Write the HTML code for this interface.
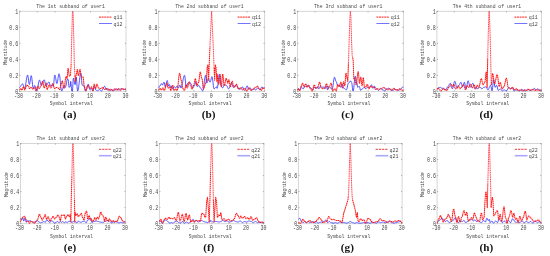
<!DOCTYPE html>
<html><head><meta charset="utf-8"><title>Subband figure</title>
<style>
html,body{margin:0;padding:0;background:#fff;}
svg{display:block;}
svg text{font-family:'Liberation Mono', 'Noto Sans CJK SC', monospace;font-size:6.0px;fill:#474747;}
svg text.tk{font-size:7.0px;}
svg text.lt{font-family:'Liberation Serif', 'Noto Serif CJK SC', serif;font-size:11.2px;font-weight:bold;fill:#151515;}
</style></head>
<body>
<svg width="550" height="256" viewBox="0 0 550 256">
<rect width="550" height="256" fill="#fff"/>
<rect x="19.5" y="11.3" width="106.5" height="80.1" fill="none" stroke="#d2d2d2" stroke-width="0.9"/>
<path d="M19.5 91.4v-1.1M19.5 11.3v1.1M37.25 91.4v-1.1M37.25 11.3v1.1M55 91.4v-1.1M55 11.3v1.1M72.75 91.4v-1.1M72.75 11.3v1.1M90.5 91.4v-1.1M90.5 11.3v1.1M108.25 91.4v-1.1M108.25 11.3v1.1M126 91.4v-1.1M126 11.3v1.1M19.5 91.4h1.1M126 91.4h-1.1M19.5 75.38h1.1M126 75.38h-1.1M19.5 59.36h1.1M126 59.36h-1.1M19.5 43.34h1.1M126 43.34h-1.1M19.5 27.32h1.1M126 27.32h-1.1M19.5 11.3h1.1M126 11.3h-1.1" stroke="#808080" stroke-width="0.6" fill="none"/>
<polyline points="19.5,87.42 19.51,87.42 19.53,87.42 19.71,87.4 19.89,87.3 20.07,87.15 20.25,86.95 20.43,86.71 20.61,86.42 20.79,86.11 20.97,85.78 21.15,85.45 21.33,85.12 21.51,84.82 21.69,84.53 21.87,84.29 22.05,84.08 22.23,83.93 22.41,83.85 22.59,83.81 22.77,83.91 22.95,84.18 23.13,84.62 23.31,85.18 23.48,85.83 23.66,86.5 23.84,87.14 24.02,87.71 24.2,88.14 24.38,88.42 24.56,88.52 24.74,88.4 24.92,88.06 25.1,87.51 25.28,86.76 25.46,85.84 25.64,84.78 25.82,83.63 26,82.41 26.18,81.17 26.36,79.95 26.54,78.79 26.72,77.73 26.9,76.82 27.08,76.07 27.26,75.52 27.44,75.18 27.62,75.06 27.81,75.35 28.01,76.16 28.2,77.41 28.39,78.95 28.59,80.58 28.78,82.12 28.98,83.37 29.17,84.18 29.37,84.47 29.55,84.26 29.74,83.62 29.92,82.65 30.11,81.41 30.3,80.04 30.48,78.67 30.67,77.44 30.85,76.45 31.04,75.83 31.22,75.61 31.41,75.87 31.6,76.64 31.79,77.84 31.98,79.39 32.17,81.15 32.36,82.98 32.55,84.74 32.73,86.29 32.92,87.49 33.11,88.25 33.3,88.52 33.48,88.4 33.66,88.08 33.83,87.6 34.01,87.04 34.19,86.47 34.37,85.99 34.54,85.67 34.72,85.56 34.91,85.67 35.1,85.99 35.29,86.51 35.48,87.16 35.66,87.91 35.85,88.68 36.04,89.43 36.23,90.09 36.42,90.6 36.61,90.92 36.8,91.03 36.98,90.91 37.16,90.56 37.34,89.99 37.53,89.22 37.71,88.3 37.89,87.25 38.07,86.14 38.25,84.99 38.44,83.87 38.62,82.83 38.8,81.9 38.98,81.14 39.17,80.57 39.35,80.21 39.53,80.09 39.72,80.25 39.92,80.7 40.11,81.38 40.31,82.22 40.5,83.11 40.7,83.95 40.89,84.63 41.08,85.08 41.28,85.23 41.46,85.18 41.65,85.02 41.83,84.78 42.02,84.43 42.2,84.02 42.39,83.55 42.57,83.03 42.75,82.5 42.94,81.96 43.12,81.45 43.31,80.98 43.49,80.57 43.68,80.23 43.86,79.98 44.04,79.82 44.23,79.77 44.42,79.95 44.62,80.5 44.81,81.32 45.01,82.34 45.2,83.42 45.4,84.44 45.59,85.27 45.78,85.81 45.98,86 46.16,85.96 46.35,85.85 46.53,85.66 46.72,85.41 46.9,85.1 47.09,84.75 47.27,84.38 47.45,83.97 47.64,83.58 47.82,83.21 48.01,82.85 48.19,82.55 48.38,82.29 48.56,82.11 48.74,81.99 48.93,81.96 49.11,82.08 49.29,82.44 49.48,82.99 49.66,83.67 49.84,84.39 50.02,85.07 50.2,85.62 50.39,85.99 50.57,86.11 50.75,86.07 50.93,85.95 51.11,85.75 51.3,85.52 51.48,85.27 51.66,85.04 51.84,84.86 52.03,84.73 52.21,84.69 52.4,84.85 52.6,85.26 52.8,85.76 52.99,86.17 53.19,86.33 53.37,85.99 53.56,85.01 53.74,83.51 53.92,81.68 54.1,79.71 54.28,77.88 54.47,76.38 54.65,75.4 54.83,75.06 55.02,75.24 55.21,75.74 55.4,76.53 55.59,77.56 55.77,78.72 55.96,79.94 56.15,81.1 56.34,82.12 56.53,82.92 56.72,83.42 56.91,83.59 57.09,83.42 57.27,82.93 57.45,82.15 57.64,81.13 57.82,79.95 58,78.67 58.18,77.4 58.36,76.21 58.55,75.19 58.73,74.41 58.91,73.91 59.09,73.75 59.28,73.97 59.47,74.61 59.66,75.64 59.84,77.01 60.03,78.66 60.22,80.49 60.4,82.41 60.59,84.34 60.78,86.18 60.97,87.82 61.15,89.19 61.34,90.22 61.53,90.86 61.72,91.08 61.9,90.99 62.08,90.73 62.26,90.3 62.44,89.76 62.63,89.12 62.81,88.43 62.99,87.75 63.17,87.11 63.35,86.55 63.54,86.14 63.72,85.87 63.9,85.78 64.08,85.84 64.26,86.03 64.43,86.29 64.61,86.6 64.79,86.91 64.97,87.18 65.14,87.36 65.32,87.42 65.51,87.26 65.7,86.77 65.89,86.01 66.08,85.02 66.27,83.9 66.46,82.73 66.64,81.62 66.83,80.63 67.02,79.87 67.21,79.39 67.4,79.22 67.6,79.22 67.8,79.22 68,79.22 68.19,79.77 68.38,81.27 68.57,83.32 68.77,85.37 68.96,86.87 69.15,87.42 69.35,87.31 69.56,87.04 69.77,86.71 69.98,86.43 70.19,86.33 70.43,83.87 70.68,81.4 70.87,82.05 71.06,83.82 71.25,86.24 71.44,88.66 71.63,90.43 71.83,91.08 72.07,91.08 72.32,91.08 72.51,90.21 72.7,87.84 72.89,84.6 73.08,81.36 73.27,78.99 73.47,78.13 73.65,78.32 73.83,78.9 74.01,79.77 74.19,80.83 74.38,81.97 74.56,83.05 74.74,83.92 74.92,84.49 75.1,84.69 75.29,84.17 75.47,82.77 75.65,80.86 75.83,78.94 76.01,77.54 76.2,77.03 76.37,77.57 76.55,79.09 76.73,81.36 76.91,84.05 77.08,86.75 77.26,89.02 77.44,90.54 77.62,91.08 77.8,90.94 77.98,90.54 78.16,89.88 78.35,88.99 78.53,87.88 78.71,86.61 78.89,85.2 79.07,83.69 79.26,82.14 79.44,80.59 79.62,79.08 79.8,77.67 79.98,76.4 80.17,75.29 80.35,74.4 80.53,73.75 80.71,73.34 80.9,73.2 81.08,73.8 81.27,75.47 81.46,77.88 81.65,80.55 81.83,82.97 82.02,84.64 82.21,85.23 82.39,85.25 82.57,85.3 82.75,85.37 82.94,85.46 83.12,85.55 83.3,85.64 83.48,85.72 83.66,85.76 83.85,85.78 84.03,85.94 84.21,86.4 84.39,87.11 84.58,87.97 84.76,88.89 84.94,89.76 85.12,90.46 85.3,90.92 85.49,91.08 85.67,91.01 85.85,90.78 86.03,90.41 86.22,89.93 86.4,89.34 86.58,88.68 86.76,87.97 86.94,87.25 87.13,86.54 87.31,85.87 87.49,85.29 87.67,84.8 87.85,84.44 88.04,84.22 88.22,84.14 88.4,84.3 88.58,84.78 88.77,85.5 88.95,86.4 89.13,87.35 89.31,88.24 89.49,88.97 89.68,89.45 89.86,89.61 90.04,89.57 90.22,89.48 90.4,89.33 90.59,89.16 90.77,88.96 90.95,88.79 91.13,88.64 91.31,88.55 91.5,88.52 91.68,88.61 91.85,88.89 92.03,89.31 92.21,89.8 92.39,90.29 92.56,90.7 92.74,90.98 92.92,91.08 93.11,90.85 93.29,90.18 93.48,89.23 93.67,88.17 93.85,87.22 94.04,86.56 94.23,86.33 94.41,86.44 94.59,86.78 94.78,87.28 94.96,87.91 95.14,88.57 95.32,89.2 95.5,89.71 95.69,90.04 95.87,90.16 96.05,90.17 96.23,90.22 96.42,90.29 96.6,90.38 96.78,90.48 96.96,90.57 97.14,90.64 97.33,90.69 97.51,90.7 97.69,90.69 97.87,90.63 98.05,90.54 98.24,90.43 98.42,90.29 98.6,90.16 98.78,90.01 98.96,89.89 99.15,89.77 99.33,89.69 99.51,89.63 99.69,89.61 99.88,89.65 100.06,89.78 100.24,89.97 100.42,90.21 100.61,90.47 100.79,90.71 100.97,90.91 101.15,91.03 101.33,91.08 101.52,91.04 101.7,90.94 101.88,90.76 102.06,90.53 102.24,90.23 102.43,89.89 102.61,89.52 102.79,89.12 102.97,88.7 103.15,88.29 103.34,87.89 103.52,87.52 103.7,87.18 103.88,86.88 104.07,86.65 104.25,86.47 104.43,86.36 104.61,86.33 104.79,86.43 104.98,86.71 105.16,87.15 105.34,87.68 105.52,88.25 105.7,88.79 105.89,89.23 106.07,89.51 106.25,89.61 106.43,89.57 106.62,89.48 106.8,89.33 106.98,89.16 107.16,88.96 107.34,88.79 107.53,88.64 107.71,88.55 107.89,88.52 108.07,88.56 108.26,88.66 108.44,88.84 108.62,89.06 108.8,89.33 108.98,89.61 109.17,89.89 109.35,90.16 109.53,90.38 109.71,90.56 109.89,90.66 110.08,90.7 110.26,90.67 110.44,90.57 110.62,90.43 110.8,90.25 110.99,90.06 111.17,89.89 111.35,89.73 111.53,89.65 111.72,89.61 111.9,89.63 112.08,89.69 112.26,89.77 112.44,89.89 112.63,90.01 112.81,90.16 112.99,90.29 113.17,90.43 113.35,90.54 113.54,90.63 113.72,90.69 113.9,90.7 114.08,90.66 114.27,90.56 114.45,90.38 114.63,90.16 114.81,89.89 114.99,89.61 115.18,89.33 115.36,89.06 115.54,88.84 115.72,88.66 115.91,88.56 116.09,88.52 116.27,88.56 116.45,88.71 116.63,88.92 116.82,89.2 117,89.48 117.18,89.75 117.36,89.97 117.54,90.11 117.73,90.16 117.91,90.14 118.09,90.09 118.27,90.02 118.46,89.93 118.64,89.84 118.82,89.75 119,89.67 119.18,89.63 119.37,89.61 119.55,89.59 119.73,89.53 119.91,89.45 120.09,89.33 120.28,89.21 120.46,89.06 120.64,88.92 120.82,88.79 121.01,88.68 121.19,88.59 121.37,88.53 121.55,88.52 121.73,88.55 121.92,88.64 122.1,88.79 122.28,88.96 122.46,89.16 122.65,89.33 122.83,89.48 123.01,89.57 123.19,89.61 123.37,89.61 123.56,89.59 123.74,89.56 123.92,89.52 124.1,89.47 124.28,89.42 124.47,89.37 124.65,89.31 124.83,89.25 125.01,89.2 125.19,89.15 125.38,89.12 125.56,89.09 125.74,89.07 125.92,89.06 125.96,89.06 126,89.06" fill="none" stroke="#2424ff" stroke-width="0.8" stroke-linejoin="round"/>
<polyline points="19.5,89.61 19.51,89.61 19.53,89.61 19.73,89.53 19.93,89.33 20.13,89.06 20.33,88.79 20.53,88.59 20.73,88.52 20.91,88.63 21.1,88.92 21.28,89.33 21.46,89.75 21.64,90.05 21.83,90.16 22.01,90.05 22.19,89.77 22.37,89.33 22.55,88.8 22.74,88.23 22.92,87.69 23.1,87.26 23.28,86.97 23.47,86.87 23.65,87.03 23.84,87.45 24.03,88.07 24.21,88.75 24.4,89.36 24.59,89.78 24.78,89.93 24.95,89.85 25.13,89.57 25.31,89.13 25.49,88.56 25.67,87.92 25.85,87.25 26.03,86.61 26.21,86.05 26.39,85.61 26.56,85.33 26.74,85.23 26.92,85.25 27.11,85.3 27.29,85.37 27.47,85.46 27.65,85.55 27.84,85.64 28.02,85.72 28.2,85.76 28.38,85.78 28.56,85.96 28.75,86.47 28.93,87.15 29.11,87.84 29.29,88.33 29.48,88.52 29.66,88.48 29.84,88.39 30.02,88.24 30.2,88.06 30.39,87.88 30.57,87.69 30.75,87.55 30.93,87.45 31.12,87.42 31.3,87.48 31.48,87.61 31.66,87.84 31.84,88.1 32.03,88.39 32.21,88.65 32.39,88.87 32.57,89.01 32.75,89.06 32.94,89.01 33.12,88.87 33.3,88.65 33.48,88.39 33.66,88.1 33.85,87.84 34.03,87.61 34.21,87.48 34.39,87.42 34.58,87.52 34.76,87.8 34.94,88.24 35.12,88.78 35.3,89.35 35.49,89.89 35.67,90.32 35.85,90.61 36.03,90.7 36.22,90.57 36.4,90.19 36.58,89.61 36.76,88.89 36.94,88.13 37.13,87.42 37.31,86.84 37.49,86.46 37.67,86.33 37.85,86.39 38.04,86.59 38.22,86.87 38.4,87.23 38.58,87.61 38.77,87.97 38.95,88.26 39.13,88.45 39.31,88.52 39.49,88.44 39.68,88.2 39.86,87.84 40.04,87.39 40.22,86.91 40.4,86.47 40.59,86.1 40.77,85.87 40.95,85.78 41.13,85.65 41.31,85.27 41.5,84.69 41.68,83.97 41.86,83.21 42.04,82.5 42.23,81.92 42.41,81.54 42.59,81.4 42.77,81.6 42.95,82.17 43.14,83.05 43.32,84.12 43.5,85.26 43.68,86.33 43.87,87.2 44.05,87.77 44.23,87.97 44.41,87.87 44.59,87.58 44.77,87.12 44.94,86.53 45.12,85.86 45.3,85.16 45.48,84.49 45.66,83.89 45.84,83.44 46.02,83.15 46.2,83.05 46.39,84.01 46.58,86.33 46.77,88.64 46.96,89.61 47.14,89.53 47.33,89.32 47.51,88.96 47.69,88.52 47.87,87.99 48.05,87.42 48.24,86.86 48.42,86.33 48.6,85.87 48.78,85.53 48.97,85.31 49.15,85.23 49.33,85.32 49.51,85.55 49.69,85.92 49.88,86.36 50.06,86.84 50.24,87.28 50.42,87.65 50.61,87.88 50.79,87.97 50.97,87.88 51.14,87.62 51.32,87.21 51.5,86.69 51.68,86.09 51.86,85.47 52.04,84.87 52.22,84.35 52.4,83.94 52.58,83.68 52.75,83.59 52.94,83.71 53.13,84.06 53.31,84.61 53.5,85.3 53.68,86.06 53.87,86.82 54.05,87.5 54.24,88.04 54.43,88.4 54.61,88.52 54.79,88.48 54.98,88.39 55.16,88.24 55.34,88.06 55.52,87.88 55.7,87.69 55.89,87.55 56.07,87.45 56.25,87.42 56.43,87.44 56.62,87.48 56.8,87.56 56.98,87.65 57.16,87.74 57.34,87.84 57.53,87.91 57.71,87.96 57.89,87.97 58.07,88.02 58.26,88.16 58.44,88.38 58.62,88.64 58.8,88.93 58.98,89.2 59.17,89.41 59.35,89.56 59.53,89.61 59.71,89.45 59.89,88.97 60.08,88.24 60.26,87.35 60.44,86.4 60.62,85.5 60.8,84.78 60.99,84.3 61.17,84.14 61.35,83.92 61.53,83.32 61.72,82.5 61.9,81.68 62.08,81.08 62.26,80.86 62.44,81.09 62.63,81.76 62.81,82.77 62.99,84.02 63.17,85.35 63.35,86.6 63.54,87.62 63.72,88.28 63.9,88.52 64.08,88.31 64.27,87.71 64.45,86.75 64.63,85.5 64.81,84.05 65,82.5 65.18,80.95 65.36,79.49 65.54,78.25 65.72,77.29 65.91,76.69 66.09,76.49 66.31,76.81 66.53,77.57 66.74,78.35 66.96,78.67 67.14,77.98 67.33,76.08 67.51,73.47 67.69,70.88 67.87,68.98 68.06,68.28 68.24,68.66 68.43,69.72 68.62,71.25 68.8,72.96 68.99,74.5 69.18,75.56 69.37,75.94 69.55,75.9 69.73,75.8 69.9,75.66 70.08,75.52 70.26,75.42 70.44,75.38 71.19,63.37" fill="none" stroke="#ff1a1a" stroke-width="1.05" stroke-dasharray="1.6 0.4" stroke-linejoin="round"/>
<polyline points="71.19,63.37 71.65,40.14 72.4,13.7 72.75,11.3 73.1,13.7 73.85,40.14 74.31,63.37 74.88,75.38" fill="none" stroke="#ff4552" stroke-width="1.0" stroke-dasharray="1.3 0.5" stroke-linejoin="round"/>
<polyline points="74.88,75.38 75.41,81.79 75.61,80.77 75.8,78.32 76,75.86 76.2,74.84 76.38,74.47 76.56,73.47 76.74,72.11 76.92,70.74 77.11,69.74 77.29,69.37 77.47,69.81 77.65,71.01 77.84,72.66 78.02,74.3 78.2,75.5 78.38,75.94 78.56,75.74 78.75,75.17 78.93,74.3 79.11,73.23 79.29,72.09 79.48,71.01 79.66,70.14 79.84,69.57 80.02,69.37 80.21,69.76 80.4,70.81 80.58,72.35 80.77,74.06 80.96,75.59 81.15,76.65 81.33,77.03 81.53,77.03 81.72,77.03 81.92,77.03 82.11,77.03 82.3,77.03 82.5,77.03 82.69,77.03 82.89,77.03 83.08,77.03 83.27,77.52 83.46,78.89 83.64,80.86 83.83,83.05 84.02,85.02 84.21,86.39 84.39,86.87 84.57,87.02 84.75,87.44 84.93,88.06 85.1,88.79 85.28,89.52 85.46,90.14 85.64,90.56 85.81,90.7 86,90.62 86.18,90.39 86.37,90.01 86.55,89.53 86.74,88.94 86.92,88.3 87.11,87.64 87.29,87 87.48,86.42 87.66,85.92 87.85,85.54 88.03,85.31 88.22,85.23 88.4,85.34 88.58,85.62 88.77,86.06 88.95,86.59 89.13,87.16 89.31,87.69 89.49,88.13 89.68,88.42 89.86,88.52 90.04,88.47 90.22,88.32 90.4,88.11 90.59,87.84 90.77,87.56 90.95,87.28 91.13,87.07 91.31,86.92 91.5,86.87 91.68,87.02 91.85,87.44 92.03,88.06 92.21,88.79 92.39,89.52 92.56,90.14 92.74,90.56 92.92,90.7 93.11,90.37 93.29,89.47 93.48,88.16 93.67,86.69 93.85,85.38 94.04,84.46 94.23,84.14 94.42,84.36 94.6,84.97 94.79,85.84 94.98,86.82 95.17,87.69 95.35,88.3 95.54,88.52 95.72,88.35 95.9,87.88 96.07,87.16 96.25,86.33 96.43,85.49 96.61,84.78 96.78,84.3 96.96,84.14 97.14,84.26 97.33,84.59 97.51,85.1 97.69,85.72 97.87,86.39 98.05,87.01 98.24,87.52 98.42,87.85 98.6,87.97 98.78,87.98 98.96,88 99.15,88.05 99.33,88.11 99.51,88.17 99.69,88.24 99.88,88.32 100.06,88.38 100.24,88.44 100.42,88.48 100.61,88.51 100.79,88.52 100.97,88.5 101.15,88.44 101.33,88.36 101.52,88.24 101.7,88.11 101.88,87.97 102.06,87.83 102.24,87.69 102.43,87.58 102.61,87.5 102.79,87.44 102.97,87.42 103.15,87.49 103.34,87.68 103.52,87.97 103.7,88.32 103.88,88.71 104.07,89.06 104.25,89.36 104.43,89.54 104.61,89.61 104.79,89.57 104.98,89.48 105.16,89.33 105.34,89.16 105.52,88.96 105.7,88.79 105.89,88.64 106.07,88.55 106.25,88.52 106.43,88.54 106.62,88.63 106.8,88.76 106.98,88.92 107.16,89.13 107.34,89.33 107.53,89.55 107.71,89.75 107.89,89.92 108.07,90.05 108.26,90.13 108.44,90.16 108.62,90.13 108.8,90.09 108.98,90 109.17,89.89 109.35,89.75 109.53,89.61 109.71,89.47 109.89,89.33 110.08,89.22 110.26,89.13 110.44,89.09 110.62,89.06 110.8,89.11 110.99,89.25 111.17,89.47 111.35,89.74 111.53,90.02 111.72,90.29 111.9,90.51 112.08,90.66 112.26,90.7 112.44,90.68 112.63,90.59 112.81,90.46 112.99,90.29 113.17,90.09 113.35,89.89 113.54,89.67 113.72,89.47 113.9,89.3 114.08,89.17 114.27,89.09 114.45,89.06 114.63,89.09 114.81,89.13 114.99,89.22 115.18,89.33 115.36,89.47 115.54,89.61 115.72,89.75 115.91,89.89 116.09,90 116.27,90.09 116.45,90.13 116.63,90.16 116.82,90.11 117,89.97 117.18,89.75 117.36,89.48 117.54,89.2 117.73,88.92 117.91,88.71 118.09,88.56 118.27,88.52 118.46,88.54 118.64,88.63 118.82,88.76 119,88.92 119.18,89.13 119.37,89.33 119.55,89.55 119.73,89.75 119.91,89.92 120.09,90.05 120.28,90.13 120.46,90.16 120.64,90.13 120.82,90.05 121.01,89.92 121.19,89.75 121.37,89.55 121.55,89.33 121.73,89.13 121.92,88.92 122.1,88.76 122.28,88.63 122.46,88.54 122.65,88.52 122.83,88.55 123.01,88.64 123.19,88.79 123.37,88.96 123.56,89.16 123.74,89.33 123.92,89.48 124.1,89.57 124.28,89.61 124.47,89.59 124.65,89.54 124.83,89.47 125.01,89.38 125.19,89.29 125.38,89.2 125.56,89.13 125.74,89.08 125.92,89.06 125.96,89.06 126,89.06" fill="none" stroke="#ff1a1a" stroke-width="1.05" stroke-dasharray="1.6 0.4" stroke-linejoin="round"/>
<text class="tk" x="18.5" y="97.8" text-anchor="middle" textLength="9" lengthAdjust="spacingAndGlyphs">-30</text>
<text class="tk" x="36.25" y="97.8" text-anchor="middle" textLength="9" lengthAdjust="spacingAndGlyphs">-20</text>
<text class="tk" x="54" y="97.8" text-anchor="middle" textLength="9" lengthAdjust="spacingAndGlyphs">-10</text>
<text class="tk" x="72.35" y="97.8" text-anchor="middle" textLength="3" lengthAdjust="spacingAndGlyphs">0</text>
<text class="tk" x="90.1" y="97.8" text-anchor="middle" textLength="6" lengthAdjust="spacingAndGlyphs">10</text>
<text class="tk" x="107.85" y="97.8" text-anchor="middle" textLength="6" lengthAdjust="spacingAndGlyphs">20</text>
<text class="tk" x="125.6" y="97.8" text-anchor="middle" textLength="6" lengthAdjust="spacingAndGlyphs">30</text>
<text class="tk" x="18.3" y="93.9" text-anchor="end" textLength="3" lengthAdjust="spacingAndGlyphs">0</text>
<text class="tk" x="18.3" y="77.88" text-anchor="end" textLength="9" lengthAdjust="spacingAndGlyphs">0.2</text>
<text class="tk" x="18.3" y="61.86" text-anchor="end" textLength="9" lengthAdjust="spacingAndGlyphs">0.4</text>
<text class="tk" x="18.3" y="45.84" text-anchor="end" textLength="9" lengthAdjust="spacingAndGlyphs">0.6</text>
<text class="tk" x="18.3" y="29.82" text-anchor="end" textLength="9" lengthAdjust="spacingAndGlyphs">0.8</text>
<text class="tk" x="18.3" y="13.8" text-anchor="end" textLength="3" lengthAdjust="spacingAndGlyphs">1</text>
<text x="71.25" y="105.4" text-anchor="middle" textLength="43.05" lengthAdjust="spacingAndGlyphs">Symbol interval</text>
<text transform="translate(6.8 52.35) rotate(-90)" fill="#505050" text-anchor="middle" textLength="24.57" lengthAdjust="spacingAndGlyphs">Magnitude</text>
<text x="70.55" y="7.6" text-anchor="middle" textLength="68.4" lengthAdjust="spacingAndGlyphs">The 1st subband of user1</text>
<line x1="99" y1="17.1" x2="112" y2="17.1" stroke="#ff4a4a" stroke-width="1.2" stroke-dasharray="2 0.6"/>
<line x1="99" y1="23.5" x2="112" y2="23.5" stroke="#5050ff" stroke-width="0.8"/>
<text x="113.4" y="19.3" textLength="9" lengthAdjust="spacingAndGlyphs">q11</text>
<text x="113.4" y="25.7" textLength="9" lengthAdjust="spacingAndGlyphs">q12</text>
<text class="lt" x="69.85" y="118.2" text-anchor="middle">(a)</text>
<rect x="158.6" y="11.3" width="106" height="80.1" fill="none" stroke="#d2d2d2" stroke-width="0.9"/>
<path d="M158.6 91.4v-1.1M158.6 11.3v1.1M176.27 91.4v-1.1M176.27 11.3v1.1M193.93 91.4v-1.1M193.93 11.3v1.1M211.6 91.4v-1.1M211.6 11.3v1.1M229.27 91.4v-1.1M229.27 11.3v1.1M246.93 91.4v-1.1M246.93 11.3v1.1M264.6 91.4v-1.1M264.6 11.3v1.1M158.6 91.4h1.1M264.6 91.4h-1.1M158.6 75.38h1.1M264.6 75.38h-1.1M158.6 59.36h1.1M264.6 59.36h-1.1M158.6 43.34h1.1M264.6 43.34h-1.1M158.6 27.32h1.1M264.6 27.32h-1.1M158.6 11.3h1.1M264.6 11.3h-1.1" stroke="#808080" stroke-width="0.6" fill="none"/>
<polyline points="158.6,88 158.79,87.87 158.98,87.51 159.17,87.02 159.36,86.53 159.54,86.18 159.73,86.04 159.92,85.97 160.1,85.76 160.29,85.43 160.47,85.03 160.65,84.61 160.84,84.22 161.02,83.89 161.21,83.68 161.39,83.6 161.59,83.74 161.78,84.11 161.98,84.56 162.17,84.93 162.37,85.06 162.55,84.98 162.74,84.73 162.92,84.34 163.1,83.85 163.29,83.35 163.47,82.87 163.66,82.48 163.84,82.23 164.03,82.14 164.21,82.38 164.39,83.05 164.57,84.04 164.75,85.12 164.93,86.1 165.12,86.78 165.3,87.02 165.47,86.89 165.65,86.5 165.83,85.89 166.01,85.1 166.18,84.22 166.36,83.29 166.54,82.39 166.72,81.6 166.89,81 167.07,80.61 167.25,80.47 167.43,80.75 167.61,81.52 167.79,82.64 167.97,83.88 168.15,84.99 168.34,85.77 168.52,86.04 168.71,85.91 168.91,85.54 169.1,85.09 169.3,84.72 169.49,84.58 169.69,84.81 169.88,85.43 170.08,86.29 170.27,87.14 170.47,87.76 170.66,88 170.86,87.81 171.06,87.32 171.25,86.71 171.45,86.23 171.64,86.04 171.84,86.24 172.03,86.78 172.23,87.51 172.42,88.24 172.62,88.77 172.81,88.97 172.99,88.85 173.18,88.52 173.36,88.02 173.54,87.48 173.72,86.99 173.9,86.65 174.08,86.53 174.26,86.59 174.45,86.75 174.63,86.99 174.81,87.27 175,87.55 175.18,87.78 175.36,87.94 175.55,88 175.73,87.92 175.91,87.71 176.09,87.4 176.28,87.02 176.46,86.64 176.64,86.33 176.83,86.11 177.01,86.04 177.19,86.14 177.37,86.41 177.55,86.8 177.73,87.23 177.91,87.63 178.1,87.9 178.28,88 178.46,87.91 178.65,87.65 178.83,87.27 179.02,86.79 179.2,86.27 179.38,85.8 179.57,85.41 179.75,85.15 179.94,85.06 180.13,85.34 180.33,86.08 180.52,86.99 180.72,87.72 180.91,88 181.09,87.92 181.28,87.68 181.46,87.31 181.64,86.79 181.82,86.14 182,85.38 182.18,84.53 182.36,83.61 182.54,82.65 182.72,81.65 182.9,80.66 183.08,79.69 183.26,78.77 183.44,77.92 183.62,77.16 183.8,76.51 183.98,75.99 184.16,75.61 184.34,75.38 184.52,75.3 184.72,75.65 184.91,76.67 185.11,78.23 185.3,80.15 185.5,82.18 185.7,84.09 185.89,85.65 186.09,86.67 186.28,87.02 186.46,86.93 186.64,86.67 186.81,86.26 186.99,85.74 187.17,85.14 187.35,84.51 187.52,83.91 187.7,83.38 187.88,82.97 188.06,82.72 188.23,82.62 188.42,82.61 188.6,82.56 188.78,82.48 188.97,82.38 189.15,82.28 189.33,82.2 189.51,82.16 189.7,82.14 189.88,82.21 190.06,82.42 190.25,82.74 190.43,83.11 190.61,83.49 190.8,83.81 190.98,84.01 191.16,84.09 191.35,84.24 191.53,84.66 191.71,85.3 191.89,86.04 192.08,86.79 192.26,87.43 192.44,87.84 192.63,88 192.8,87.95 192.98,87.8 193.16,87.57 193.34,87.28 193.51,86.95 193.69,86.6 193.87,86.27 194.05,85.98 194.22,85.74 194.4,85.6 194.58,85.55 194.76,85.36 194.94,84.82 195.12,84.04 195.3,83.17 195.48,82.38 195.67,81.84 195.85,81.65 196.04,81.89 196.24,82.56 196.43,83.55 196.63,84.63 196.82,85.61 197.02,86.29 197.21,86.53 197.41,86.5 197.6,86.42 197.8,86.29 197.99,86.13 198.19,85.96 198.39,85.8 198.58,85.67 198.78,85.58 198.97,85.55 199.15,85.65 199.34,85.91 199.52,86.31 199.7,86.78 199.89,87.24 200.07,87.64 200.25,87.9 200.43,88 200.62,88.04 200.81,88.2 201,88.43 201.18,88.72 201.37,89.09 201.56,89.46 201.74,89.84 201.93,90.19 202.12,90.49 202.31,90.73 202.49,90.88 202.68,90.93 202.86,90.78 203.05,90.33 203.23,89.61 203.41,88.64 203.6,87.45 203.78,86.11 203.96,84.64 204.14,83.11 204.33,81.59 204.51,80.12 204.69,78.78 204.88,77.59 205.06,76.61 205.24,75.89 205.43,75.45 205.61,75.3 205.8,75.82 206,77.25 206.19,79.21 206.39,81.16 206.58,82.59 206.78,83.11 206.96,82.93 207.14,82.4 207.33,81.6 207.51,80.67 207.69,79.74 207.88,78.94 208.06,78.42 208.24,78.23 208.44,78.35 208.63,78.7 208.83,79.23 209.02,79.89 209.22,80.59 209.41,81.24 209.61,81.77 209.81,82.12 210,82.24 210.18,82.13 210.37,81.8 210.56,81.28 210.74,80.61 210.93,79.85 211.11,79.05 211.3,78.29 211.48,77.62 211.67,77.09 211.85,76.77 212.04,76.65 212.22,76.9 212.41,77.62 212.59,78.76 212.78,80.22 212.96,81.88 213.15,83.62 213.33,85.29 213.52,86.75 213.7,87.88 213.89,88.6 214.07,88.85 214.26,88.82 214.44,88.75 214.62,88.63 214.8,88.47 214.98,88.28 215.16,88.06 215.35,87.84 215.53,87.6 215.71,87.4 215.89,87.2 216.07,87.04 216.26,86.91 216.44,86.84 216.62,86.82 216.87,87.58 217.13,88.34 217.31,88.1 217.5,87.39 217.69,86.26 217.87,84.78 218.06,83.07 218.25,81.23 218.43,79.39 218.62,77.67 218.81,76.2 218.99,75.07 219.18,74.35 219.37,74.11 219.55,74.41 219.73,75.28 219.92,76.63 220.1,78.33 220.28,80.21 220.47,82.09 220.65,83.8 220.83,85.14 221.02,86.01 221.2,86.31 221.39,86.37 221.58,86.53 221.77,86.78 221.96,87.07 222.15,87.36 222.34,87.61 222.54,87.77 222.73,87.84 222.92,87.72 223.11,87.39 223.3,86.89 223.49,86.31 223.68,85.73 223.87,85.23 224.06,84.9 224.25,84.78 224.44,84.79 224.63,84.82 224.81,84.87 224.99,84.94 225.18,85 225.37,85.07 225.55,85.14 225.74,85.21 225.92,85.26 226.11,85.28 226.29,85.3 226.47,85.34 226.65,85.5 226.83,85.74 227.01,86.06 227.19,86.44 227.37,86.86 227.55,87.28 227.73,87.7 227.91,88.08 228.09,88.4 228.27,88.64 228.45,88.8 228.63,88.85 228.82,88.79 229,88.62 229.19,88.33 229.37,87.96 229.55,87.49 229.74,86.97 229.92,86.39 230.11,85.8 230.29,85.21 230.48,84.63 230.66,84.11 230.85,83.65 231.03,83.26 231.22,82.98 231.4,82.81 231.59,82.75 231.77,82.89 231.95,83.29 232.13,83.89 232.31,84.64 232.49,85.43 232.67,86.19 232.85,86.79 233.03,87.19 233.22,87.32 233.42,87.26 233.62,87.07 233.82,86.82 234.03,86.56 234.23,86.38 234.44,86.31 234.62,86.3 234.81,86.27 235,86.23 235.18,86.19 235.37,86.12 235.56,86.06 235.74,85.99 235.93,85.93 236.12,85.87 236.3,85.83 236.49,85.81 236.68,85.8 236.86,85.85 237.04,86 237.22,86.25 237.4,86.57 237.58,86.95 237.76,87.36 237.94,87.8 238.12,88.21 238.3,88.59 238.48,88.91 238.66,89.16 238.84,89.31 239.02,89.36 239.21,89.34 239.4,89.29 239.59,89.2 239.78,89.1 239.97,89.01 240.16,88.92 240.35,88.87 240.55,88.85 240.73,88.8 240.92,88.68 241.1,88.5 241.29,88.25 241.47,87.98 241.66,87.69 241.84,87.41 242.03,87.17 242.21,86.98 242.4,86.86 242.58,86.82 242.77,86.95 242.96,87.34 243.15,87.92 243.35,88.6 243.54,89.28 243.73,89.85 243.92,90.24 244.11,90.37 244.31,90.33 244.52,90.2 244.72,90.04 244.92,89.92 245.13,89.86 245.31,89.78 245.5,89.54 245.68,89.17 245.87,88.68 246.05,88.12 246.24,87.55 246.42,86.99 246.61,86.51 246.79,86.12 246.98,85.88 247.16,85.8 247.35,85.94 247.54,86.32 247.74,86.9 247.93,87.58 248.12,88.26 248.31,88.84 248.5,89.22 248.69,89.36 248.88,89.3 249.07,89.13 249.26,88.88 249.45,88.6 249.65,88.3 249.84,88.06 250.03,87.89 250.22,87.84 250.41,87.93 250.6,88.2 250.79,88.62 250.98,89.1 251.17,89.59 251.36,90 251.55,90.28 251.75,90.37 251.93,90.34 252.11,90.25 252.3,90.11 252.49,89.93 252.67,89.72 252.86,89.5 253.04,89.29 253.23,89.11 253.41,88.97 253.6,88.88 253.78,88.85 253.97,88.87 254.15,88.93 254.34,89.02 254.52,89.15 254.71,89.29 254.89,89.43 255.08,89.57 255.26,89.69 255.45,89.78 255.63,89.85 255.82,89.86 256,89.82 256.19,89.7 256.37,89.52 256.56,89.27 256.74,89 256.93,88.71 257.11,88.43 257.3,88.19 257.48,88 257.67,87.88 257.85,87.84 258.04,87.88 258.22,88 258.41,88.19 258.6,88.43 258.78,88.71 258.97,89 259.15,89.27 259.34,89.52 259.52,89.7 259.71,89.82 259.89,89.86 260.08,89.81 260.26,89.62 260.45,89.34 260.63,88.97 260.82,88.56 261,88.12 261.19,87.71 261.37,87.35 261.56,87.06 261.74,86.88 261.93,86.82 262.12,86.87 262.31,87.04 262.5,87.29 262.69,87.58 262.88,87.87 263.07,88.12 263.26,88.28 263.46,88.34 263.65,88.28 263.84,88.08 264.03,87.84 264.22,87.58 264.41,87.4 264.6,87.32" fill="none" stroke="#2424ff" stroke-width="0.8" stroke-linejoin="round"/>
<polyline points="158.6,89.95 158.79,89.88 158.98,89.67 159.17,89.38 159.36,89.05 159.55,88.76 159.74,88.56 159.93,88.48 160.11,88.54 160.29,88.7 160.48,88.93 160.66,89.21 160.84,89.49 161.03,89.73 161.21,89.89 161.39,89.95 161.58,89.88 161.76,89.66 161.94,89.35 162.12,88.97 162.31,88.6 162.49,88.28 162.67,88.07 162.86,88 163.04,88.09 163.22,88.36 163.41,88.75 163.59,89.21 163.77,89.69 163.95,90.08 164.14,90.34 164.32,90.44 164.51,90.33 164.69,90.01 164.88,89.52 165.07,88.85 165.26,88.08 165.45,87.22 165.63,86.34 165.82,85.48 166.01,84.7 166.2,84.03 166.39,83.53 166.57,83.22 166.76,83.11 166.94,83.3 167.13,83.83 167.31,84.62 167.49,85.55 167.68,86.49 167.86,87.28 168.04,87.81 168.22,88 168.41,87.96 168.59,87.85 168.77,87.69 168.96,87.51 169.14,87.32 169.32,87.16 169.51,87.06 169.69,87.02 169.88,87.35 170.08,88.2 170.27,89.25 170.47,90.11 170.66,90.44 170.84,90.33 171.02,90.01 171.2,89.51 171.37,88.87 171.55,88.13 171.73,87.37 171.91,86.63 172.08,85.99 172.26,85.5 172.44,85.18 172.62,85.06 172.8,85.27 172.98,85.85 173.17,86.72 173.35,87.76 173.53,88.78 173.72,89.65 173.9,90.23 174.08,90.44 174.26,90.38 174.45,90.22 174.63,89.98 174.81,89.7 175,89.42 175.18,89.19 175.36,89.03 175.55,88.97 175.73,89.03 175.91,89.19 176.09,89.42 176.28,89.7 176.46,89.98 176.64,90.22 176.83,90.38 177.01,90.44 177.2,90.22 177.38,89.59 177.57,88.57 177.76,87.22 177.95,85.6 178.14,83.79 178.33,81.89 178.52,79.99 178.7,78.18 178.89,76.57 179.08,75.21 179.27,74.19 179.46,73.56 179.64,73.35 179.84,73.57 180.03,74.2 180.23,75.18 180.43,76.37 180.62,77.65 180.82,78.84 181.01,79.82 181.21,80.45 181.4,80.67 181.6,81.16 181.79,82.5 181.99,84.34 182.18,86.16 182.38,87.51 182.57,88 182.77,88.07 182.96,88.28 183.16,88.6 183.35,89.01 183.55,89.43 183.74,89.83 183.94,90.15 184.13,90.37 184.33,90.44 184.51,90.32 184.68,89.97 184.86,89.43 185.04,88.72 185.22,87.92 185.4,87.09 185.57,86.29 185.75,85.59 185.93,85.04 186.1,84.7 186.28,84.58 186.48,84.9 186.67,85.76 186.87,86.82 187.06,87.67 187.26,88 187.44,87.88 187.61,87.53 187.79,86.99 187.97,86.28 188.15,85.48 188.32,84.65 188.5,83.85 188.68,83.15 188.85,82.61 189.03,82.25 189.21,82.14 189.39,82.28 189.58,82.71 189.76,83.34 189.94,84.09 190.12,84.84 190.31,85.47 190.49,85.9 190.67,86.04 190.86,86.15 191.04,86.47 191.22,86.95 191.41,87.51 191.59,88.07 191.77,88.54 191.95,88.86 192.14,88.97 192.32,88.84 192.5,88.47 192.69,87.92 192.87,87.27 193.05,86.61 193.24,86.06 193.42,85.68 193.6,85.55 193.79,85.35 193.97,84.75 194.16,83.85 194.34,82.73 194.52,81.54 194.71,80.43 194.89,79.52 195.08,78.93 195.26,78.72 195.46,78.93 195.65,79.52 195.85,80.43 196.04,81.54 196.24,82.73 196.43,83.85 196.63,84.75 196.82,85.35 197.02,85.55 197.2,85.44 197.38,85.13 197.57,84.65 197.75,84.09 197.93,83.53 198.12,83.05 198.3,82.73 198.48,82.62 198.68,82.31 198.87,81.39 199.07,79.99 199.26,78.26 199.46,76.44 199.65,74.72 199.85,73.31 200.04,72.39 200.24,72.08 200.42,72.28 200.61,72.86 200.79,73.74 200.98,74.82 201.16,75.97 201.35,77.06 201.53,77.94 201.71,78.52 201.9,78.72 202.08,79.11 202.26,80.22 202.45,81.88 202.63,83.85 202.81,85.81 203,87.47 203.18,88.58 203.36,88.97 203.55,88.9 203.73,88.7 203.91,88.36 204.1,87.92 204.28,87.38 204.46,86.75 204.65,86.08 204.83,85.38 205.02,84.68 205.2,84.01 205.38,83.38 205.57,82.84 205.75,82.4 205.93,82.06 206.12,81.86 206.3,81.79 207.18,67.37 207.89,64.97 208.6,80.19 209.13,67.37 209.92,47.34" fill="none" stroke="#ff1a1a" stroke-width="1.05" stroke-dasharray="1.6 0.4" stroke-linejoin="round"/>
<polyline points="209.92,47.34 210.81,27.32 211.6,11.3 212.4,27.32 213.28,47.34 214.07,67.37" fill="none" stroke="#ff4552" stroke-width="1.0" stroke-dasharray="1.3 0.5" stroke-linejoin="round"/>
<polyline points="214.07,67.37 214.6,80.19 215.31,64.97 216.02,67.37 216.9,81.79 217.01,77.95 217.13,74.11 217.32,74.5 217.51,75.6 217.7,77.25 217.89,79.19 218.08,81.14 218.27,82.79 218.46,83.89 218.65,84.28 218.85,83.91 219.04,82.86 219.23,81.3 219.42,79.45 219.61,77.6 219.8,76.04 219.99,74.99 220.18,74.62 220.39,75.44 220.59,77.67 220.79,80.72 221,83.77 221.2,86 221.4,86.82 221.59,86.19 221.78,84.42 221.97,81.88 222.16,79.05 222.35,76.5 222.54,74.74 222.73,74.11 222.92,74.55 223.11,75.83 223.3,77.72 223.49,79.95 223.68,82.2 223.87,84.09 224.06,85.35 224.25,85.8 224.44,85.65 224.63,85.19 224.81,84.49 224.99,83.57 225.18,82.53 225.37,81.44 225.55,80.41 225.74,79.5 225.92,78.78 226.11,78.34 226.29,78.18 226.48,78.38 226.67,78.92 226.86,79.75 227.05,80.72 227.25,81.69 227.44,82.52 227.63,83.07 227.82,83.26 228.02,82.92 228.23,82.03 228.43,80.93 228.63,80.04 228.84,79.71 229.03,79.98 229.22,80.75 229.41,81.9 229.6,83.26 229.79,84.62 229.98,85.78 230.17,86.55 230.36,86.82 230.55,86.68 230.73,86.28 230.91,85.66 231.1,84.89 231.28,84.02 231.46,83.16 231.65,82.38 231.83,81.76 232.01,81.36 232.2,81.23 232.39,81.41 232.58,81.94 232.77,82.75 232.97,83.75 233.16,84.81 233.35,85.8 233.54,86.61 233.73,87.14 233.93,87.32 234.11,87.29 234.29,87.17 234.47,86.99 234.66,86.75 234.84,86.47 235.02,86.14 235.2,85.8 235.38,85.46 235.56,85.14 235.75,84.85 235.93,84.61 236.11,84.43 236.29,84.31 236.47,84.28 236.66,84.37 236.84,84.64 237.03,85.06 237.21,85.62 237.4,86.24 237.58,86.89 237.77,87.52 237.95,88.06 238.14,88.48 238.32,88.76 238.51,88.85 238.69,88.83 238.88,88.77 239.06,88.68 239.25,88.56 239.43,88.41 239.62,88.27 239.8,88.13 239.99,88.01 240.18,87.92 240.36,87.85 240.55,87.84 240.73,87.88 240.92,88 241.1,88.19 241.29,88.43 241.47,88.71 241.66,89 241.84,89.27 242.03,89.52 242.21,89.7 242.4,89.82 242.58,89.86 242.77,89.84 242.95,89.74 243.14,89.61 243.32,89.42 243.51,89.21 243.69,89 243.88,88.79 244.06,88.6 244.25,88.46 244.43,88.37 244.62,88.34 244.8,88.4 244.99,88.54 245.17,88.78 245.36,89.09 245.54,89.43 245.73,89.79 245.91,90.14 246.1,90.45 246.28,90.68 246.47,90.83 246.65,90.88 246.84,90.85 247.02,90.73 247.2,90.55 247.38,90.31 247.56,90.02 247.75,89.69 247.93,89.36 248.11,89.02 248.29,88.69 248.47,88.4 248.65,88.16 248.84,87.99 249.02,87.87 249.2,87.84 249.39,87.93 249.58,88.2 249.77,88.62 249.96,89.1 250.15,89.59 250.34,90 250.54,90.28 250.73,90.37 250.91,90.35 251.1,90.29 251.28,90.2 251.47,90.08 251.65,89.93 251.84,89.79 252.02,89.65 252.21,89.53 252.39,89.44 252.58,89.38 252.76,89.36 252.95,89.33 253.13,89.24 253.32,89.09 253.5,88.91 253.69,88.7 253.87,88.48 254.06,88.28 254.24,88.1 254.43,87.96 254.61,87.87 254.8,87.84 254.98,87.81 255.16,87.76 255.35,87.67 255.53,87.55 255.71,87.4 255.89,87.24 256.07,87.07 256.25,86.9 256.44,86.74 256.62,86.59 256.8,86.47 256.98,86.39 257.16,86.33 257.35,86.31 257.53,86.36 257.72,86.51 257.9,86.75 258.09,87.05 258.27,87.4 258.46,87.76 258.64,88.11 258.83,88.41 259.01,88.64 259.2,88.8 259.38,88.85 259.57,88.88 259.75,88.97 259.94,89.11 260.12,89.29 260.31,89.5 260.49,89.72 260.68,89.93 260.86,90.11 261.05,90.25 261.23,90.34 261.42,90.37 261.61,90.28 261.8,90 261.99,89.59 262.18,89.1 262.37,88.62 262.56,88.2 262.75,87.93 262.94,87.84 263.13,87.87 263.31,87.96 263.5,88.08 263.68,88.25 263.87,88.43 264.05,88.6 264.23,88.73 264.42,88.82 264.6,88.85" fill="none" stroke="#ff1a1a" stroke-width="1.05" stroke-dasharray="1.6 0.4" stroke-linejoin="round"/>
<text class="tk" x="157.6" y="97.8" text-anchor="middle" textLength="9" lengthAdjust="spacingAndGlyphs">-30</text>
<text class="tk" x="175.27" y="97.8" text-anchor="middle" textLength="9" lengthAdjust="spacingAndGlyphs">-20</text>
<text class="tk" x="192.93" y="97.8" text-anchor="middle" textLength="9" lengthAdjust="spacingAndGlyphs">-10</text>
<text class="tk" x="211.2" y="97.8" text-anchor="middle" textLength="3" lengthAdjust="spacingAndGlyphs">0</text>
<text class="tk" x="228.87" y="97.8" text-anchor="middle" textLength="6" lengthAdjust="spacingAndGlyphs">10</text>
<text class="tk" x="246.53" y="97.8" text-anchor="middle" textLength="6" lengthAdjust="spacingAndGlyphs">20</text>
<text class="tk" x="264.2" y="97.8" text-anchor="middle" textLength="6" lengthAdjust="spacingAndGlyphs">30</text>
<text class="tk" x="157.4" y="93.9" text-anchor="end" textLength="3" lengthAdjust="spacingAndGlyphs">0</text>
<text class="tk" x="157.4" y="77.88" text-anchor="end" textLength="9" lengthAdjust="spacingAndGlyphs">0.2</text>
<text class="tk" x="157.4" y="61.86" text-anchor="end" textLength="9" lengthAdjust="spacingAndGlyphs">0.4</text>
<text class="tk" x="157.4" y="45.84" text-anchor="end" textLength="9" lengthAdjust="spacingAndGlyphs">0.6</text>
<text class="tk" x="157.4" y="29.82" text-anchor="end" textLength="9" lengthAdjust="spacingAndGlyphs">0.8</text>
<text class="tk" x="157.4" y="13.8" text-anchor="end" textLength="3" lengthAdjust="spacingAndGlyphs">1</text>
<text x="210.1" y="105.4" text-anchor="middle" textLength="43.05" lengthAdjust="spacingAndGlyphs">Symbol interval</text>
<text transform="translate(145.9 52.35) rotate(-90)" fill="#505050" text-anchor="middle" textLength="24.57" lengthAdjust="spacingAndGlyphs">Magnitude</text>
<text x="209.4" y="7.6" text-anchor="middle" textLength="68.4" lengthAdjust="spacingAndGlyphs">The 2nd subband of user1</text>
<line x1="237.6" y1="17.1" x2="250.6" y2="17.1" stroke="#ff4a4a" stroke-width="1.2" stroke-dasharray="2 0.6"/>
<line x1="237.6" y1="23.5" x2="250.6" y2="23.5" stroke="#5050ff" stroke-width="0.8"/>
<text x="252" y="19.3" textLength="9" lengthAdjust="spacingAndGlyphs">q11</text>
<text x="252" y="25.7" textLength="9" lengthAdjust="spacingAndGlyphs">q12</text>
<text class="lt" x="208.7" y="118.2" text-anchor="middle">(b)</text>
<rect x="297.4" y="11.3" width="106" height="80.1" fill="none" stroke="#d2d2d2" stroke-width="0.9"/>
<path d="M297.4 91.4v-1.1M297.4 11.3v1.1M315.07 91.4v-1.1M315.07 11.3v1.1M332.73 91.4v-1.1M332.73 11.3v1.1M350.4 91.4v-1.1M350.4 11.3v1.1M368.07 91.4v-1.1M368.07 11.3v1.1M385.73 91.4v-1.1M385.73 11.3v1.1M403.4 91.4v-1.1M403.4 11.3v1.1M297.4 91.4h1.1M403.4 91.4h-1.1M297.4 75.38h1.1M403.4 75.38h-1.1M297.4 59.36h1.1M403.4 59.36h-1.1M297.4 43.34h1.1M403.4 43.34h-1.1M297.4 27.32h1.1M403.4 27.32h-1.1M297.4 11.3h1.1M403.4 11.3h-1.1" stroke="#808080" stroke-width="0.6" fill="none"/>
<polyline points="297.4,89.36 297.41,89.36 297.42,89.36 297.61,89.33 297.8,89.23 297.98,89.1 298.17,88.97 298.36,88.88 298.54,88.85 298.74,88.88 298.93,89 299.12,89.17 299.31,89.36 299.5,89.55 299.69,89.72 299.88,89.83 300.07,89.86 300.26,89.77 300.45,89.49 300.65,89.09 300.84,88.6 301.03,88.11 301.22,87.7 301.41,87.42 301.6,87.32 301.79,87.39 301.98,87.55 302.17,87.8 302.36,88.08 302.56,88.38 302.75,88.63 302.94,88.79 303.13,88.85 303.32,88.77 303.51,88.55 303.7,88.22 303.89,87.84 304.08,87.44 304.27,87.11 304.46,86.9 304.65,86.82 304.84,86.79 305.04,86.75 305.23,86.66 305.42,86.56 305.61,86.47 305.8,86.39 305.99,86.33 306.18,86.31 306.37,86.28 306.55,86.19 306.73,86.06 306.92,85.89 307.1,85.7 307.28,85.51 307.46,85.34 307.65,85.21 307.83,85.12 308.01,85.09 308.21,85.16 308.4,85.35 308.59,85.65 308.78,86.01 308.98,86.4 309.17,86.77 309.36,87.07 309.55,87.26 309.75,87.32 309.94,87.36 310.13,87.48 310.32,87.64 310.51,87.84 310.7,88.03 310.89,88.2 311.08,88.3 311.27,88.34 311.46,88.4 311.66,88.56 311.85,88.81 312.04,89.1 312.23,89.4 312.42,89.65 312.61,89.81 312.8,89.86 312.99,89.77 313.18,89.49 313.37,89.09 313.56,88.6 313.75,88.11 313.94,87.7 314.14,87.42 314.33,87.32 314.52,87.36 314.71,87.48 314.9,87.64 315.09,87.84 315.28,88.03 315.47,88.2 315.66,88.3 315.85,88.34 316.05,88.28 316.24,88.12 316.43,87.87 316.62,87.58 316.81,87.29 317,87.04 317.19,86.87 317.38,86.82 317.57,86.9 317.76,87.11 317.96,87.44 318.15,87.84 318.34,88.22 318.53,88.55 318.72,88.77 318.91,88.85 319.1,88.76 319.29,88.48 319.48,88.07 319.67,87.58 319.86,87.09 320.05,86.68 320.24,86.4 320.44,86.31 320.63,86.35 320.82,86.46 321.01,86.63 321.2,86.82 321.39,87.01 321.58,87.18 321.77,87.28 321.96,87.32 322.15,87.31 322.35,87.25 322.54,87.17 322.73,87.07 322.92,86.97 323.11,86.89 323.3,86.83 323.49,86.82 323.68,86.9 323.87,87.11 324.06,87.44 324.26,87.84 324.45,88.22 324.64,88.55 324.83,88.77 325.02,88.85 325.21,88.7 325.4,88.28 325.59,87.67 325.77,86.99 325.96,86.38 326.15,85.95 326.34,85.8 326.54,86.07 326.75,86.82 326.95,87.84 327.16,88.85 327.36,89.59 327.56,89.86 327.75,89.75 327.95,89.42 328.14,88.92 328.33,88.34 328.52,87.76 328.71,87.27 328.9,86.93 329.09,86.82 329.28,86.86 329.47,86.96 329.66,87.13 329.85,87.32 330.05,87.52 330.24,87.68 330.43,87.8 330.62,87.84 330.81,87.89 331,88.06 331.19,88.3 331.38,88.6 331.57,88.88 331.76,89.13 331.95,89.3 332.15,89.36 332.33,89.18 332.51,88.66 332.69,87.83 332.87,86.72 333.05,85.42 333.23,84 333.41,82.52 333.59,81.1 333.77,79.79 333.95,78.7 334.13,77.86 334.31,77.34 334.49,77.17 334.68,77.3 334.87,77.69 335.06,78.3 335.26,79.05 335.45,79.85 335.64,80.59 335.83,81.2 336.03,81.6 336.22,81.73 336.41,81.89 336.6,82.33 336.79,82.99 336.98,83.77 337.17,84.54 337.36,85.21 337.55,85.65 337.75,85.8 337.94,85.76 338.13,85.65 338.32,85.49 338.51,85.3 338.7,85.1 338.89,84.94 339.08,84.82 339.27,84.78 339.46,84.88 339.66,85.16 339.85,85.57 340.04,86.06 340.23,86.54 340.42,86.95 340.61,87.23 340.8,87.32 340.99,87.21 341.18,86.88 341.37,86.39 341.56,85.8 341.75,85.22 341.94,84.72 342.14,84.39 342.33,84.28 342.52,84.43 342.71,84.87 342.9,85.53 343.09,86.31 343.28,87.09 343.47,87.75 343.66,88.19 343.85,88.34 344.04,88.36 344.22,88.42 344.4,88.51 344.58,88.63 344.76,88.77 344.95,88.93 345.13,89.1 345.31,89.27 345.49,89.44 345.67,89.58 345.85,89.7 346.04,89.79 346.22,89.85 346.4,89.86 346.59,89.73 346.77,89.34 346.95,88.72 347.14,87.93 347.33,87.03 347.51,86.09 347.7,85.19 347.88,84.4 348.07,83.78 348.25,83.39 348.44,83.26 348.62,83.19 348.8,83.01 348.98,82.75 349.16,82.5 349.35,82.31 349.53,82.24 349.75,81.73 349.96,81.23 350.15,81.23 350.33,81.23 350.51,81.23 350.69,81.23 350.87,81.23 351.05,81.23 351.27,81.73 351.49,82.24 351.67,82.51 351.85,83.28 352.02,84.46 352.2,85.9 352.38,87.43 352.56,88.87 352.74,90.05 352.91,90.82 353.09,91.08 353.28,90.82 353.46,90.08 353.65,88.89 353.84,87.35 354.02,85.54 354.21,83.61 354.4,81.68 354.58,79.88 354.77,78.34 354.96,77.15 355.14,76.4 355.33,76.15 355.51,76.36 355.69,76.98 355.87,77.93 356.06,79.09 356.24,80.32 356.42,81.48 356.6,82.43 356.78,83.05 356.96,83.26 357.14,83.85 357.32,85.3 357.49,86.73 357.67,87.32 357.86,87.28 358.05,87.18 358.25,87.01 358.44,86.82 358.63,86.63 358.82,86.46 359.01,86.35 359.2,86.31 359.39,86.47 359.58,86.91 359.77,87.56 359.96,88.34 360.15,89.12 360.35,89.78 360.54,90.22 360.73,90.37 360.92,90.32 361.11,90.15 361.3,89.9 361.49,89.61 361.68,89.32 361.87,89.07 362.06,88.91 362.25,88.85 362.44,88.82 362.63,88.72 362.81,88.59 362.99,88.4 363.18,88.2 363.37,87.98 363.55,87.77 363.73,87.59 363.92,87.44 364.11,87.35 364.29,87.32 364.48,87.39 364.67,87.55 364.86,87.8 365.05,88.08 365.25,88.38 365.44,88.63 365.63,88.79 365.82,88.85 366.01,88.79 366.2,88.63 366.39,88.38 366.58,88.08 366.77,87.8 366.96,87.55 367.16,87.39 367.35,87.32 367.53,87.34 367.72,87.36 367.9,87.41 368.09,87.48 368.27,87.54 368.46,87.62 368.64,87.68 368.83,87.75 369.01,87.8 369.2,87.82 369.38,87.84 369.57,87.77 369.75,87.6 369.94,87.31 370.12,86.94 370.31,86.52 370.49,86.09 370.68,85.67 370.86,85.31 371.05,85.02 371.23,84.85 371.42,84.78 371.61,84.92 371.8,85.3 371.99,85.88 372.18,86.56 372.37,87.24 372.56,87.82 372.76,88.2 372.95,88.34 373.14,88.27 373.33,88.04 373.52,87.72 373.71,87.32 373.9,86.94 374.09,86.61 374.28,86.39 374.47,86.31 374.66,86.36 374.84,86.51 375.03,86.75 375.21,87.05 375.4,87.4 375.58,87.76 375.77,88.11 375.95,88.41 376.14,88.64 376.32,88.8 376.51,88.85 376.7,88.88 376.88,88.97 377.06,89.11 377.25,89.29 377.44,89.5 377.62,89.72 377.8,89.93 377.99,90.11 378.18,90.25 378.36,90.34 378.54,90.37 378.73,90.33 378.92,90.21 379.1,90.02 379.29,89.78 379.47,89.5 379.66,89.21 379.84,88.93 380.03,88.69 380.21,88.5 380.4,88.38 380.58,88.34 380.77,88.37 380.95,88.46 381.14,88.6 381.32,88.79 381.51,89 381.69,89.21 381.88,89.42 382.06,89.61 382.25,89.74 382.43,89.84 382.62,89.86 382.8,89.89 382.99,89.95 383.17,90.04 383.36,90.17 383.54,90.3 383.73,90.45 383.91,90.58 384.1,90.7 384.28,90.8 384.47,90.86 384.65,90.88 384.84,90.84 385.02,90.72 385.21,90.53 385.4,90.29 385.58,90.01 385.77,89.72 385.95,89.45 386.14,89.2 386.32,89.01 386.51,88.89 386.69,88.85 386.88,88.84 387.06,88.81 387.25,88.76 387.43,88.7 387.62,88.63 387.8,88.56 387.99,88.49 388.17,88.43 388.36,88.38 388.54,88.35 388.73,88.34 388.91,88.37 389.1,88.46 389.28,88.6 389.47,88.79 389.65,89 389.84,89.21 390.02,89.42 390.21,89.61 390.39,89.74 390.58,89.84 390.76,89.86 390.95,89.88 391.13,89.91 391.32,89.95 391.5,90.01 391.69,90.09 391.87,90.16 392.06,90.22 392.25,90.29 392.43,90.33 392.61,90.37 392.8,90.37 392.99,90.35 393.17,90.29 393.35,90.2 393.54,90.08 393.73,89.93 393.91,89.79 394.1,89.65 394.28,89.53 394.47,89.44 394.65,89.38 394.84,89.36 395.02,89.37 395.21,89.4 395.39,89.45 395.58,89.51 395.76,89.57 395.95,89.65 396.13,89.72 396.32,89.78 396.5,89.82 396.69,89.85 396.87,89.86 397.06,89.88 397.24,89.91 397.43,89.95 397.61,90.01 397.8,90.09 397.98,90.16 398.17,90.22 398.35,90.29 398.54,90.33 398.72,90.37 398.91,90.37 399.09,90.34 399.28,90.25 399.46,90.11 399.65,89.93 399.83,89.72 400.02,89.5 400.2,89.29 400.39,89.11 400.58,88.97 400.76,88.88 400.95,88.85 401.13,88.8 401.32,88.68 401.5,88.5 401.69,88.25 401.87,87.98 402.06,87.69 402.24,87.41 402.43,87.17 402.61,86.98 402.8,86.86 402.98,86.82 403.19,86.82 403.4,86.82" fill="none" stroke="#2424ff" stroke-width="0.8" stroke-linejoin="round"/>
<polyline points="297.4,89.86 297.41,89.86 297.42,89.86 297.61,89.8 297.8,89.61 297.98,89.36 298.17,89.1 298.36,88.92 298.54,88.85 298.75,89.05 298.95,89.55 299.16,90.18 299.36,90.69 299.56,90.88 299.75,90.71 299.95,90.21 300.14,89.47 300.33,88.6 300.52,87.72 300.71,86.98 300.9,86.48 301.09,86.31 301.28,86.19 301.47,85.87 301.66,85.37 301.85,84.78 302.05,84.2 302.24,83.71 302.43,83.37 302.62,83.26 302.81,83.4 303,83.78 303.19,84.36 303.38,85.04 303.57,85.72 303.76,86.3 303.95,86.68 304.15,86.82 304.34,86.7 304.53,86.37 304.72,85.87 304.91,85.3 305.1,84.71 305.29,84.22 305.48,83.89 305.67,83.77 305.86,83.9 306.05,84.29 306.25,84.86 306.44,85.54 306.63,86.23 306.82,86.8 307.01,87.19 307.2,87.32 307.39,87.25 307.58,87.03 307.77,86.7 307.96,86.31 308.15,85.92 308.35,85.59 308.54,85.37 308.73,85.3 308.92,85.41 309.11,85.74 309.3,86.23 309.49,86.82 309.68,87.4 309.87,87.89 310.06,88.23 310.25,88.34 310.44,88.4 310.63,88.54 310.81,88.78 310.99,89.09 311.18,89.43 311.37,89.79 311.55,90.14 311.73,90.45 311.92,90.68 312.11,90.83 312.29,90.88 312.48,90.76 312.66,90.4 312.85,89.83 313.03,89.1 313.22,88.27 313.4,87.4 313.59,86.57 313.77,85.83 313.96,85.27 314.14,84.91 314.33,84.78 314.52,84.92 314.71,85.3 314.9,85.88 315.09,86.56 315.28,87.24 315.47,87.82 315.66,88.2 315.85,88.34 316.05,88.32 316.24,88.27 316.43,88.19 316.62,88.08 316.81,87.99 317,87.91 317.19,87.85 317.38,87.84 317.57,87.74 317.76,87.46 317.94,87.02 318.13,86.43 318.32,85.76 318.5,85.04 318.69,84.32 318.88,83.64 319.06,83.06 319.25,82.62 319.44,82.34 319.62,82.24 319.8,82.41 319.98,82.9 320.17,83.64 320.35,84.55 320.53,85.52 320.71,86.43 320.89,87.18 321.07,87.67 321.25,87.84 321.44,87.87 321.64,87.96 321.83,88.08 322.02,88.25 322.21,88.43 322.41,88.6 322.6,88.73 322.79,88.82 322.98,88.85 323.17,88.81 323.36,88.7 323.55,88.53 323.75,88.34 323.94,88.15 324.13,87.98 324.32,87.88 324.51,87.84 324.69,87.75 324.88,87.51 325.06,87.13 325.25,86.64 325.44,86.09 325.62,85.51 325.8,84.96 325.99,84.47 326.18,84.09 326.36,83.85 326.54,83.77 326.74,83.94 326.93,84.44 327.12,85.18 327.31,86.06 327.5,86.93 327.69,87.68 327.88,88.16 328.07,88.34 328.26,88.21 328.45,87.86 328.64,87.35 328.83,86.79 329.02,86.28 329.21,85.93 329.4,85.8 329.59,85.72 329.78,85.5 329.97,85.17 330.17,84.75 330.36,84.31 330.55,83.89 330.74,83.56 330.93,83.33 331.13,83.26 331.32,83.56 331.51,84.41 331.7,85.67 331.89,87.17 332.08,88.67 332.27,89.93 332.46,90.78 332.65,91.08 332.84,91.03 333.02,90.9 333.21,90.7 333.4,90.43 333.58,90.13 333.77,89.81 333.95,89.5 334.14,89.24 334.32,89.03 334.51,88.89 334.69,88.85 334.88,88.92 335.07,89.15 335.26,89.48 335.45,89.86 335.64,90.25 335.84,90.58 336.03,90.81 336.22,90.88 336.41,90.65 336.6,89.99 336.79,89 336.98,87.84 337.17,86.67 337.36,85.68 337.55,85.02 337.75,84.78 337.94,84.86 338.13,85.08 338.32,85.41 338.51,85.8 338.7,86.19 338.89,86.52 339.08,86.74 339.27,86.82 339.46,86.64 339.66,86.15 339.85,85.41 340.04,84.53 340.23,83.65 340.42,82.92 340.61,82.42 340.8,82.24 340.99,82.45 341.18,83.06 341.37,83.97 341.56,85.04 341.75,86.11 341.94,87.02 342.14,87.62 342.33,87.84 342.52,87.53 342.71,86.68 342.9,85.46 343.08,84.1 343.27,82.89 343.46,82.04 343.65,81.73 343.85,82 344.06,82.75 344.26,83.77 344.47,84.78 344.67,85.53 344.87,85.8 345.08,84.59 345.28,81.41 345.48,77.49 345.69,74.31 345.89,73.1 346.08,73.33 346.27,73.99 346.46,74.98 346.65,76.15 346.85,77.31 347.04,78.3 347.23,78.96 347.42,79.19 347.58,80.49 347.75,81.79 348.46,63.37" fill="none" stroke="#ff1a1a" stroke-width="1.05" stroke-dasharray="1.6 0.4" stroke-linejoin="round"/>
<polyline points="348.46,63.37 349.07,43.34 349.87,17.71 350.4,11.3 350.93,17.71 351.64,43.34 352.17,55.36 352.7,57.76" fill="none" stroke="#ff4552" stroke-width="1.0" stroke-dasharray="1.3 0.5" stroke-linejoin="round"/>
<polyline points="352.7,57.76 353.23,60.96 353.76,79.39 353.97,79.14 354.19,78.53 354.4,77.92 354.62,77.67 354.81,77.94 355,78.71 355.19,79.87 355.38,81.23 355.57,82.59 355.76,83.74 355.95,84.51 356.15,84.78 356.33,84.52 356.52,83.73 356.7,82.5 356.89,80.92 357.07,79.12 357.26,77.24 357.44,75.44 357.63,73.85 357.81,72.62 358,71.84 358.18,71.58 358.37,72.15 358.56,73.77 358.75,76.12 358.94,78.72 359.13,81.06 359.32,82.69 359.51,83.26 359.71,82.85 359.91,81.73 360.12,80.21 360.32,78.69 360.52,77.57 360.73,77.17 360.92,77.59 361.11,78.79 361.3,80.52 361.48,82.44 361.67,84.17 361.86,85.38 362.05,85.8 362.25,85.26 362.46,83.77 362.66,81.73 362.87,79.71 363.07,78.22 363.27,77.67 363.48,78.32 363.68,80.08 363.88,82.5 364.09,84.91 364.29,86.68 364.49,87.32 364.68,87.3 364.87,87.23 365.06,87.13 365.25,87.02 365.44,86.91 365.63,86.84 365.82,86.82 366.01,86.72 366.2,86.44 366.39,86.03 366.58,85.54 366.77,85.06 366.96,84.65 367.16,84.38 367.35,84.28 367.54,84.45 367.73,84.94 367.92,85.69 368.11,86.56 368.3,87.44 368.49,88.18 368.68,88.68 368.87,88.85 369.06,88.76 369.25,88.48 369.44,88.07 369.64,87.58 369.83,87.09 370.02,86.68 370.21,86.4 370.4,86.31 370.59,86.33 370.77,86.39 370.96,86.48 371.14,86.6 371.33,86.75 371.51,86.89 371.7,87.03 371.88,87.15 372.07,87.24 372.25,87.31 372.44,87.32 372.63,87.31 372.82,87.25 373.01,87.17 373.2,87.07 373.39,86.97 373.58,86.89 373.77,86.83 373.96,86.82 374.15,86.91 374.35,87.19 374.54,87.6 374.73,88.08 374.92,88.57 375.11,88.99 375.3,89.26 375.49,89.36 375.68,89.35 375.86,89.32 376.05,89.27 376.23,89.21 376.42,89.14 376.6,89.07 376.79,89 376.97,88.94 377.16,88.89 377.34,88.86 377.53,88.85 377.71,88.86 377.9,88.89 378.08,88.94 378.27,89 378.45,89.07 378.64,89.14 378.82,89.21 379.01,89.27 379.19,89.32 379.38,89.35 379.56,89.36 379.75,89.35 379.93,89.32 380.12,89.27 380.3,89.21 380.49,89.14 380.67,89.07 380.86,89 381.04,88.94 381.23,88.89 381.42,88.86 381.6,88.85 381.78,88.82 381.97,88.72 382.16,88.59 382.34,88.4 382.53,88.2 382.71,87.98 382.9,87.77 383.08,87.59 383.27,87.44 383.45,87.35 383.64,87.32 383.82,87.35 384.01,87.44 384.19,87.59 384.38,87.77 384.56,87.98 384.75,88.2 384.93,88.4 385.12,88.59 385.3,88.72 385.49,88.82 385.67,88.85 385.86,88.87 386.04,88.93 386.23,89.02 386.41,89.15 386.6,89.29 386.78,89.43 386.97,89.57 387.15,89.69 387.34,89.78 387.52,89.85 387.71,89.86 387.89,89.85 388.08,89.78 388.26,89.69 388.45,89.57 388.63,89.43 388.82,89.29 389.01,89.15 389.19,89.02 389.37,88.93 389.56,88.87 389.75,88.85 389.93,88.88 390.12,88.97 390.3,89.11 390.49,89.29 390.67,89.5 390.86,89.72 391.04,89.93 391.23,90.11 391.41,90.25 391.6,90.34 391.78,90.37 391.97,90.33 392.15,90.21 392.34,90.02 392.52,89.78 392.71,89.5 392.89,89.21 393.08,88.93 393.26,88.69 393.45,88.5 393.63,88.38 393.82,88.34 394,88.37 394.19,88.46 394.37,88.6 394.56,88.79 394.74,89 394.93,89.21 395.11,89.42 395.3,89.61 395.48,89.74 395.67,89.84 395.85,89.86 396.04,89.86 396.23,89.86 396.41,89.86 396.59,89.86 396.78,89.86 396.97,89.86 397.15,89.86 397.34,89.86 397.52,89.86 397.71,89.86 397.89,89.86 398.08,89.85 398.26,89.78 398.45,89.69 398.63,89.57 398.82,89.43 399,89.29 399.19,89.15 399.37,89.02 399.56,88.93 399.74,88.87 399.93,88.85 400.11,88.88 400.3,88.97 400.48,89.11 400.67,89.29 400.85,89.5 401.04,89.72 401.22,89.93 401.41,90.11 401.59,90.25 401.78,90.34 401.96,90.37 402.14,90.35 402.32,90.3 402.5,90.21 402.68,90.12 402.86,90.02 403.04,89.94 403.22,89.89 403.4,89.86" fill="none" stroke="#ff1a1a" stroke-width="1.05" stroke-dasharray="1.6 0.4" stroke-linejoin="round"/>
<text class="tk" x="296.4" y="97.8" text-anchor="middle" textLength="9" lengthAdjust="spacingAndGlyphs">-30</text>
<text class="tk" x="314.07" y="97.8" text-anchor="middle" textLength="9" lengthAdjust="spacingAndGlyphs">-20</text>
<text class="tk" x="331.73" y="97.8" text-anchor="middle" textLength="9" lengthAdjust="spacingAndGlyphs">-10</text>
<text class="tk" x="350" y="97.8" text-anchor="middle" textLength="3" lengthAdjust="spacingAndGlyphs">0</text>
<text class="tk" x="367.67" y="97.8" text-anchor="middle" textLength="6" lengthAdjust="spacingAndGlyphs">10</text>
<text class="tk" x="385.33" y="97.8" text-anchor="middle" textLength="6" lengthAdjust="spacingAndGlyphs">20</text>
<text class="tk" x="403" y="97.8" text-anchor="middle" textLength="6" lengthAdjust="spacingAndGlyphs">30</text>
<text class="tk" x="296.2" y="93.9" text-anchor="end" textLength="3" lengthAdjust="spacingAndGlyphs">0</text>
<text class="tk" x="296.2" y="77.88" text-anchor="end" textLength="9" lengthAdjust="spacingAndGlyphs">0.2</text>
<text class="tk" x="296.2" y="61.86" text-anchor="end" textLength="9" lengthAdjust="spacingAndGlyphs">0.4</text>
<text class="tk" x="296.2" y="45.84" text-anchor="end" textLength="9" lengthAdjust="spacingAndGlyphs">0.6</text>
<text class="tk" x="296.2" y="29.82" text-anchor="end" textLength="9" lengthAdjust="spacingAndGlyphs">0.8</text>
<text class="tk" x="296.2" y="13.8" text-anchor="end" textLength="3" lengthAdjust="spacingAndGlyphs">1</text>
<text x="348.9" y="105.4" text-anchor="middle" textLength="43.05" lengthAdjust="spacingAndGlyphs">Symbol interval</text>
<text transform="translate(284.7 52.35) rotate(-90)" fill="#505050" text-anchor="middle" textLength="24.57" lengthAdjust="spacingAndGlyphs">Magnitude</text>
<text x="348.2" y="7.6" text-anchor="middle" textLength="68.4" lengthAdjust="spacingAndGlyphs">The 3rd subband of user1</text>
<line x1="376.4" y1="17.1" x2="389.4" y2="17.1" stroke="#ff4a4a" stroke-width="1.2" stroke-dasharray="2 0.6"/>
<line x1="376.4" y1="23.5" x2="389.4" y2="23.5" stroke="#5050ff" stroke-width="0.8"/>
<text x="390.8" y="19.3" textLength="9" lengthAdjust="spacingAndGlyphs">q11</text>
<text x="390.8" y="25.7" textLength="9" lengthAdjust="spacingAndGlyphs">q12</text>
<text class="lt" x="347.5" y="118.2" text-anchor="middle">(c)</text>
<rect x="436.9" y="11.3" width="104.5" height="80.1" fill="none" stroke="#d2d2d2" stroke-width="0.9"/>
<path d="M436.9 91.4v-1.1M436.9 11.3v1.1M454.32 91.4v-1.1M454.32 11.3v1.1M471.73 91.4v-1.1M471.73 11.3v1.1M489.15 91.4v-1.1M489.15 11.3v1.1M506.57 91.4v-1.1M506.57 11.3v1.1M523.98 91.4v-1.1M523.98 11.3v1.1M541.4 91.4v-1.1M541.4 11.3v1.1M436.9 91.4h1.1M541.4 91.4h-1.1M436.9 75.38h1.1M541.4 75.38h-1.1M436.9 59.36h1.1M541.4 59.36h-1.1M436.9 43.34h1.1M541.4 43.34h-1.1M436.9 27.32h1.1M541.4 27.32h-1.1M436.9 11.3h1.1M541.4 11.3h-1.1" stroke="#808080" stroke-width="0.6" fill="none"/>
<polyline points="436.9,88.85 437.08,88.82 437.27,88.73 437.45,88.6 437.64,88.43 437.82,88.25 438.01,88.08 438.19,87.96 438.38,87.87 438.56,87.84 438.75,87.81 438.94,87.76 439.14,87.68 439.33,87.58 439.52,87.48 439.71,87.4 439.9,87.35 440.09,87.32 440.28,87.35 440.46,87.4 440.65,87.5 440.83,87.62 441.02,87.76 441.2,87.91 441.39,88.04 441.57,88.16 441.76,88.26 441.94,88.32 442.13,88.34 442.32,88.34 442.51,88.34 442.7,88.34 442.89,88.34 443.08,88.34 443.27,88.34 443.46,88.34 443.65,88.34 443.84,88.37 444.03,88.46 444.21,88.6 444.39,88.79 444.58,89 444.77,89.21 444.95,89.42 445.14,89.61 445.32,89.74 445.51,89.84 445.69,89.86 445.88,89.81 446.06,89.62 446.25,89.34 446.43,88.97 446.62,88.56 446.8,88.12 446.99,87.71 447.17,87.35 447.36,87.06 447.54,86.88 447.73,86.82 447.91,86.77 448.09,86.64 448.27,86.43 448.45,86.15 448.64,85.81 448.82,85.43 449,85.04 449.18,84.64 449.36,84.26 449.55,83.93 449.73,83.65 449.91,83.44 450.09,83.3 450.27,83.26 450.46,83.37 450.64,83.7 450.83,84.22 451.01,84.9 451.2,85.66 451.38,86.45 451.57,87.22 451.75,87.88 451.94,88.4 452.12,88.73 452.31,88.85 452.49,88.76 452.67,88.47 452.86,88.02 453.04,87.41 453.22,86.69 453.4,85.89 453.58,85.04 453.76,84.19 453.95,83.38 454.13,82.66 454.31,82.06 454.49,81.6 454.67,81.32 454.85,81.23 455.04,81.36 455.22,81.76 455.41,82.36 455.6,83.16 455.78,84.06 455.97,85 456.15,85.91 456.34,86.69 456.52,87.31 456.71,87.7 456.89,87.84 457.08,87.77 457.28,87.6 457.47,87.32 457.66,86.99 457.85,86.64 458.05,86.31 458.24,86.04 458.43,85.87 458.62,85.8 458.8,85.75 458.98,85.6 459.16,85.35 459.34,85.03 459.52,84.66 459.7,84.24 459.88,83.81 460.06,83.39 460.24,83.01 460.42,82.69 460.6,82.44 460.78,82.29 460.96,82.24 461.15,82.42 461.35,82.92 461.54,83.65 461.73,84.53 461.92,85.41 462.11,86.15 462.3,86.64 462.49,86.82 462.67,86.71 462.86,86.38 463.04,85.87 463.22,85.24 463.41,84.53 463.59,83.82 463.77,83.19 463.96,82.68 464.14,82.36 464.32,82.24 464.52,82.44 464.71,83.01 464.9,83.89 465.09,84.98 465.29,86.12 465.48,87.19 465.67,88.08 465.86,88.65 466.05,88.85 466.24,88.68 466.42,88.2 466.61,87.44 466.8,86.47 466.98,85.36 467.16,84.21 467.35,83.09 467.54,82.12 467.72,81.36 467.91,80.88 468.09,80.72 468.28,80.85 468.46,81.24 468.65,81.86 468.83,82.65 469.02,83.55 469.2,84.5 469.39,85.39 469.57,86.19 469.76,86.8 469.94,87.19 470.13,87.32 470.31,87.28 470.49,87.15 470.68,86.94 470.86,86.65 471.04,86.31 471.23,85.92 471.41,85.5 471.59,85.08 471.78,84.66 471.96,84.28 472.14,83.93 472.33,83.65 472.51,83.44 472.69,83.3 472.88,83.26 473.06,83.37 473.25,83.7 473.43,84.22 473.62,84.9 473.8,85.66 473.99,86.45 474.17,87.22 474.36,87.88 474.54,88.4 474.73,88.73 474.91,88.85 475.1,88.77 475.29,88.56 475.48,88.26 475.67,87.92 475.86,87.61 476.05,87.4 476.24,87.32 476.43,87.39 476.62,87.55 476.81,87.8 477,88.08 477.19,88.38 477.38,88.63 477.57,88.79 477.76,88.85 477.95,88.8 478.13,88.68 478.32,88.5 478.5,88.25 478.69,87.98 478.87,87.69 479.06,87.41 479.25,87.17 479.43,86.98 479.61,86.86 479.8,86.82 479.99,86.86 480.17,86.98 480.35,87.17 480.54,87.41 480.73,87.69 480.91,87.98 481.1,88.25 481.28,88.5 481.47,88.68 481.65,88.8 481.84,88.85 482.02,88.82 482.21,88.72 482.39,88.59 482.58,88.4 482.76,88.2 482.95,87.98 483.13,87.77 483.32,87.59 483.5,87.44 483.69,87.35 483.87,87.32 484.06,87.31 484.24,87.28 484.43,87.23 484.61,87.18 484.8,87.11 484.98,87.03 485.17,86.96 485.35,86.91 485.54,86.86 485.72,86.83 485.91,86.82 486.09,86.88 486.28,87.06 486.46,87.35 486.65,87.71 486.84,88.12 487.02,88.56 487.2,88.97 487.39,89.34 487.58,89.62 487.76,89.81 487.94,89.86 488.12,89.81 488.29,89.67 488.47,89.43 488.64,89.11 488.82,88.72 488.99,88.28 489.17,87.82 489.34,87.34 489.52,86.87 489.69,86.43 489.87,86.05 490.04,85.73 490.21,85.49 490.39,85.34 490.56,85.3 490.75,85.5 490.95,86.11 491.14,87.02 491.33,88.08 491.52,89.16 491.71,90.06 491.9,90.67 492.09,90.88 492.28,90.45 492.47,89.25 492.66,87.44 492.85,85.3 493.05,83.15 493.24,81.34 493.43,80.13 493.62,79.71 493.81,79.99 494,80.82 494.19,82.05 494.38,83.52 494.57,84.98 494.76,86.21 494.95,87.03 495.14,87.32 495.34,87.25 495.53,87.03 495.72,86.7 495.91,86.31 496.1,85.92 496.29,85.59 496.48,85.37 496.67,85.3 496.86,85.49 497.05,86.03 497.25,86.86 497.44,87.84 497.63,88.8 497.82,89.63 498.01,90.18 498.2,90.37 498.38,90.34 498.57,90.25 498.76,90.11 498.94,89.93 499.13,89.72 499.31,89.5 499.5,89.29 499.68,89.11 499.87,88.97 500.05,88.88 500.24,88.85 500.42,88.89 500.61,89.01 500.79,89.2 500.98,89.45 501.16,89.72 501.35,90.01 501.53,90.29 501.72,90.53 501.9,90.72 502.09,90.84 502.27,90.88 502.46,90.86 502.64,90.8 502.83,90.7 503.01,90.58 503.2,90.45 503.38,90.3 503.57,90.17 503.75,90.04 503.94,89.95 504.12,89.89 504.31,89.86 504.49,89.89 504.68,89.95 504.87,90.04 505.05,90.17 505.23,90.3 505.42,90.45 505.61,90.58 505.79,90.7 505.97,90.8 506.16,90.86 506.35,90.88 506.53,90.84 506.71,90.7 506.89,90.49 507.07,90.21 507.25,89.88 507.44,89.5 507.62,89.1 507.8,88.71 507.98,88.33 508.16,88 508.34,87.72 508.53,87.5 508.71,87.37 508.89,87.32 509.08,87.35 509.26,87.44 509.45,87.59 509.63,87.77 509.82,87.98 510,88.2 510.19,88.4 510.37,88.59 510.56,88.72 510.74,88.82 510.93,88.85 511.12,88.81 511.31,88.7 511.5,88.53 511.69,88.34 511.88,88.15 512.07,87.98 512.26,87.88 512.46,87.84 512.65,87.95 512.84,88.28 513.03,88.77 513.22,89.36 513.41,89.94 513.6,90.44 513.79,90.77 513.98,90.88 514.17,90.86 514.35,90.8 514.54,90.7 514.72,90.58 514.91,90.45 515.09,90.3 515.28,90.17 515.46,90.04 515.65,89.95 515.83,89.89 516.02,89.86 516.21,89.89 516.4,89.94 516.59,90.02 516.78,90.12 516.97,90.21 517.16,90.3 517.35,90.35 517.55,90.37 517.73,90.38 517.92,90.41 518.1,90.46 518.29,90.52 518.47,90.59 518.66,90.66 518.84,90.74 519.03,90.79 519.21,90.84 519.4,90.87 519.58,90.88 519.77,90.85 519.95,90.76 520.14,90.62 520.32,90.44 520.51,90.23 520.69,90.01 520.88,89.81 521.06,89.62 521.25,89.48 521.43,89.39 521.62,89.36 521.8,89.38 521.99,89.44 522.17,89.53 522.36,89.65 522.54,89.79 522.73,89.93 522.91,90.08 523.1,90.2 523.28,90.29 523.47,90.35 523.65,90.37 523.84,90.38 524.03,90.41 524.21,90.46 524.39,90.52 524.58,90.59 524.77,90.66 524.95,90.74 525.14,90.79 525.32,90.84 525.51,90.87 525.69,90.88 525.88,90.85 526.06,90.76 526.25,90.62 526.43,90.44 526.62,90.23 526.8,90.01 526.99,89.81 527.17,89.62 527.36,89.48 527.54,89.39 527.73,89.36 527.91,89.38 528.1,89.44 528.28,89.53 528.47,89.65 528.65,89.79 528.84,89.93 529.02,90.08 529.21,90.2 529.39,90.29 529.58,90.35 529.76,90.37 529.95,90.37 530.13,90.35 530.31,90.32 530.49,90.28 530.67,90.23 530.85,90.17 531.04,90.12 531.22,90.06 531.4,90.01 531.58,89.96 531.76,89.92 531.95,89.89 532.13,89.87 532.31,89.86 532.49,89.84 532.68,89.74 532.86,89.61 533.05,89.42 533.24,89.21 533.42,89 533.6,88.79 533.79,88.6 533.98,88.46 534.16,88.37 534.35,88.34 534.54,88.4 534.73,88.56 534.92,88.81 535.11,89.1 535.3,89.4 535.49,89.65 535.68,89.81 535.87,89.86 536.06,89.85 536.24,89.78 536.43,89.69 536.61,89.57 536.8,89.43 536.98,89.29 537.17,89.15 537.35,89.02 537.54,88.93 537.72,88.87 537.91,88.85 538.09,88.88 538.28,88.97 538.47,89.11 538.65,89.29 538.83,89.5 539.02,89.72 539.21,89.93 539.39,90.11 539.57,90.25 539.76,90.34 539.95,90.37 540.13,90.37 540.31,90.37 540.49,90.37 540.67,90.37 540.85,90.37 541.04,90.37 541.22,90.37 541.4,90.37" fill="none" stroke="#2424ff" stroke-width="0.8" stroke-linejoin="round"/>
<polyline points="436.9,89.36 437.09,89.25 437.28,88.97 437.48,88.6 437.67,88.21 437.86,87.93 438.05,87.84 438.25,87.91 438.44,88.13 438.63,88.46 438.82,88.85 439.01,89.24 439.2,89.57 439.39,89.79 439.58,89.86 439.77,89.9 439.96,90.01 440.16,90.18 440.35,90.37 440.54,90.57 440.73,90.74 440.92,90.85 441.11,90.88 441.29,90.84 441.48,90.72 441.67,90.53 441.85,90.29 442.03,90.01 442.22,89.72 442.41,89.45 442.59,89.2 442.77,89.01 442.96,88.89 443.15,88.85 443.33,88.87 443.51,88.93 443.7,89.02 443.89,89.15 444.07,89.29 444.26,89.43 444.44,89.57 444.63,89.69 444.81,89.78 445,89.85 445.18,89.86 445.36,89.88 445.55,89.92 445.73,89.97 445.91,90.04 446.1,90.12 446.28,90.2 446.47,90.27 446.65,90.33 446.83,90.36 447.01,90.37 447.21,90.28 447.4,90.01 447.59,89.61 447.78,89.12 447.98,88.59 448.17,88.08 448.36,87.68 448.55,87.42 448.75,87.32 448.93,87.29 449.11,87.2 449.29,87.05 449.47,86.85 449.65,86.61 449.84,86.34 450.02,86.06 450.2,85.77 450.38,85.5 450.56,85.26 450.75,85.06 450.93,84.91 451.11,84.82 451.29,84.78 451.48,84.84 451.67,85.01 451.86,85.26 452.05,85.54 452.25,85.84 452.44,86.09 452.63,86.25 452.82,86.31 453.02,86.11 453.22,85.61 453.43,84.98 453.63,84.47 453.84,84.28 454.03,84.45 454.22,84.94 454.41,85.69 454.6,86.56 454.79,87.44 454.98,88.18 455.17,88.68 455.36,88.85 455.55,88.83 455.74,88.77 455.94,88.69 456.13,88.6 456.32,88.5 456.51,88.41 456.7,88.36 456.89,88.34 457.08,88.21 457.27,87.86 457.46,87.35 457.65,86.79 457.84,86.28 458.02,85.93 458.21,85.8 458.41,85.89 458.6,86.15 458.79,86.56 458.98,87.06 459.18,87.59 459.37,88.08 459.56,88.49 459.75,88.76 459.95,88.85 460.14,88.79 460.33,88.63 460.52,88.38 460.71,88.08 460.9,87.8 461.09,87.55 461.28,87.39 461.47,87.32 461.66,87.27 461.84,87.12 462.03,86.89 462.21,86.59 462.4,86.23 462.58,85.87 462.77,85.53 462.95,85.22 463.14,84.98 463.32,84.84 463.51,84.78 463.69,84.89 463.88,85.18 464.06,85.66 464.25,86.27 464.43,86.96 464.62,87.68 464.8,88.38 464.99,88.99 465.18,89.46 465.36,89.77 465.55,89.86 465.74,89.71 465.93,89.27 466.12,88.61 466.31,87.84 466.5,87.06 466.69,86.39 466.88,85.95 467.07,85.8 467.26,85.86 467.45,86.03 467.65,86.27 467.84,86.56 468.03,86.86 468.22,87.1 468.41,87.27 468.6,87.32 468.78,87.25 468.97,87.03 469.15,86.7 469.33,86.27 469.52,85.8 469.7,85.33 469.88,84.9 470.07,84.57 470.25,84.35 470.43,84.28 470.63,84.38 470.82,84.7 471.01,85.17 471.2,85.74 471.39,86.36 471.59,86.95 471.78,87.42 471.97,87.72 472.16,87.84 472.35,87.77 472.53,87.6 472.72,87.31 472.9,86.94 473.09,86.52 473.27,86.09 473.46,85.67 473.64,85.31 473.83,85.02 474.01,84.85 474.2,84.78 474.39,84.94 474.58,85.38 474.77,86.04 474.96,86.82 475.15,87.6 475.35,88.25 475.54,88.69 475.73,88.85 475.92,88.72 476.11,88.33 476.3,87.76 476.49,87.07 476.68,86.39 476.87,85.82 477.06,85.42 477.25,85.3 477.45,85.37 477.64,85.59 477.83,85.92 478.02,86.31 478.21,86.7 478.4,87.03 478.59,87.25 478.78,87.32 478.96,87.22 479.15,86.9 479.33,86.39 479.51,85.7 479.69,84.88 479.87,83.97 480.06,83.01 480.24,82.04 480.42,81.13 480.6,80.31 480.78,79.63 480.96,79.11 481.15,78.79 481.33,78.69 481.52,78.92 481.71,79.58 481.9,80.57 482.09,81.73 482.28,82.9 482.47,83.89 482.66,84.55 482.85,84.78 483.04,84.74 483.22,84.58 483.41,84.34 483.6,84.04 483.78,83.69 483.97,83.33 484.15,82.99 484.34,82.69 484.52,82.44 484.71,82.29 484.89,82.24 485.08,81.74 485.27,80.33 485.46,78.3 485.65,76.03 485.84,73.99 486.03,72.58 486.22,72.08 486.4,73.55 486.59,77.37 486.77,82.1 486.96,85.93 487.15,87.4 487.67,59.36" fill="none" stroke="#ff1a1a" stroke-width="1.05" stroke-dasharray="1.6 0.4" stroke-linejoin="round"/>
<polyline points="487.67,59.36 488.28,33.73 488.89,13.7 489.15,11.3 489.41,13.7 490.11,33.73 490.72,59.36 491.24,84.99" fill="none" stroke="#ff4552" stroke-width="1.0" stroke-dasharray="1.3 0.5" stroke-linejoin="round"/>
<polyline points="491.24,84.99 491.44,84.43 491.63,82.85 491.82,80.56 492.02,78.03 492.21,75.75 492.41,74.17 492.6,73.6 492.78,73.81 492.97,74.41 493.16,75.36 493.34,76.57 493.53,77.97 493.71,79.41 493.9,80.79 494.08,82.01 494.27,82.97 494.45,83.57 494.64,83.77 494.82,83.65 495,83.32 495.18,82.77 495.36,82.04 495.55,81.18 495.73,80.21 495.91,79.19 496.09,78.18 496.27,77.21 496.45,76.34 496.64,75.62 496.82,75.08 497,74.74 497.18,74.62 497.37,74.86 497.55,75.55 497.74,76.64 497.92,78.04 498.11,79.63 498.29,81.3 498.48,82.89 498.66,84.3 498.85,85.38 499.03,86.07 499.22,86.31 499.42,85.92 499.63,84.9 499.83,83.65 500.03,82.63 500.24,82.24 500.42,82.4 500.6,82.88 500.79,83.61 500.97,84.53 501.15,85.54 501.34,86.57 501.52,87.49 501.7,88.22 501.89,88.68 502.07,88.85 502.26,88.79 502.45,88.61 502.65,88.34 502.84,88.01 503.03,87.66 503.22,87.32 503.42,87.06 503.61,86.88 503.8,86.82 503.98,86.71 504.16,86.39 504.35,85.87 504.53,85.19 504.71,84.38 504.89,83.46 505.07,82.5 505.26,81.54 505.44,80.63 505.62,79.8 505.8,79.12 505.98,78.61 506.16,78.29 506.35,78.18 506.53,78.38 506.72,78.94 506.9,79.84 507.09,81 507.27,82.32 507.46,83.69 507.64,85.01 507.83,86.17 508.01,87.07 508.2,87.64 508.38,87.84 508.57,87.85 508.75,87.92 508.94,88.01 509.12,88.13 509.31,88.27 509.49,88.41 509.68,88.56 509.86,88.68 510.05,88.77 510.23,88.83 510.42,88.85 510.6,88.82 510.79,88.72 510.97,88.59 511.16,88.4 511.34,88.2 511.53,87.98 511.71,87.77 511.9,87.59 512.08,87.44 512.27,87.35 512.46,87.32 512.64,87.38 512.82,87.52 513.01,87.76 513.2,88.07 513.38,88.41 513.56,88.77 513.75,89.13 513.94,89.43 514.12,89.66 514.31,89.81 514.49,89.86 514.68,89.85 514.86,89.78 515.05,89.69 515.23,89.57 515.42,89.43 515.6,89.29 515.79,89.15 515.97,89.02 516.16,88.93 516.34,88.87 516.53,88.85 516.71,88.88 516.9,88.97 517.08,89.11 517.27,89.29 517.45,89.5 517.64,89.72 517.82,89.93 518.01,90.11 518.19,90.25 518.38,90.34 518.56,90.37 518.75,90.37 518.93,90.33 519.12,90.29 519.3,90.22 519.49,90.16 519.67,90.09 519.86,90.01 520.05,89.95 520.23,89.91 520.41,89.88 520.6,89.86 520.79,89.89 520.97,89.95 521.15,90.04 521.34,90.17 521.53,90.3 521.71,90.45 521.9,90.58 522.08,90.7 522.27,90.8 522.45,90.86 522.64,90.88 522.82,90.86 523.01,90.8 523.19,90.7 523.38,90.58 523.56,90.45 523.75,90.3 523.93,90.17 524.12,90.04 524.3,89.95 524.49,89.89 524.67,89.86 524.86,89.88 525.04,89.91 525.23,89.95 525.41,90.01 525.6,90.09 525.78,90.16 525.97,90.22 526.15,90.29 526.34,90.33 526.52,90.37 526.71,90.37 526.89,90.35 527.08,90.29 527.26,90.2 527.45,90.08 527.63,89.93 527.82,89.79 528,89.65 528.19,89.53 528.38,89.44 528.56,89.38 528.75,89.36 528.93,89.38 529.12,89.44 529.3,89.53 529.49,89.65 529.67,89.79 529.86,89.93 530.04,90.08 530.23,90.2 530.41,90.29 530.6,90.35 530.78,90.37 530.97,90.35 531.15,90.29 531.34,90.2 531.52,90.08 531.71,89.93 531.89,89.79 532.08,89.65 532.26,89.53 532.45,89.44 532.63,89.38 532.82,89.36 533,89.38 533.19,89.44 533.37,89.53 533.56,89.65 533.74,89.79 533.93,89.93 534.11,90.08 534.3,90.2 534.48,90.29 534.67,90.35 534.85,90.37 535.04,90.37 535.22,90.33 535.41,90.29 535.6,90.22 535.78,90.16 535.97,90.09 536.15,90.01 536.34,89.95 536.52,89.91 536.71,89.88 536.89,89.86 537.08,89.88 537.26,89.91 537.45,89.95 537.63,90.01 537.82,90.09 538,90.16 538.19,90.22 538.37,90.29 538.56,90.33 538.74,90.37 538.93,90.37 539.11,90.37 539.3,90.33 539.48,90.29 539.67,90.22 539.85,90.16 540.04,90.09 540.22,90.01 540.41,89.95 540.59,89.91 540.78,89.88 540.96,89.86 541.18,89.86 541.4,89.86" fill="none" stroke="#ff1a1a" stroke-width="1.05" stroke-dasharray="1.6 0.4" stroke-linejoin="round"/>
<text class="tk" x="435.9" y="97.8" text-anchor="middle" textLength="9" lengthAdjust="spacingAndGlyphs">-30</text>
<text class="tk" x="453.32" y="97.8" text-anchor="middle" textLength="9" lengthAdjust="spacingAndGlyphs">-20</text>
<text class="tk" x="470.73" y="97.8" text-anchor="middle" textLength="9" lengthAdjust="spacingAndGlyphs">-10</text>
<text class="tk" x="488.75" y="97.8" text-anchor="middle" textLength="3" lengthAdjust="spacingAndGlyphs">0</text>
<text class="tk" x="506.17" y="97.8" text-anchor="middle" textLength="6" lengthAdjust="spacingAndGlyphs">10</text>
<text class="tk" x="523.58" y="97.8" text-anchor="middle" textLength="6" lengthAdjust="spacingAndGlyphs">20</text>
<text class="tk" x="541" y="97.8" text-anchor="middle" textLength="6" lengthAdjust="spacingAndGlyphs">30</text>
<text class="tk" x="435.7" y="93.9" text-anchor="end" textLength="3" lengthAdjust="spacingAndGlyphs">0</text>
<text class="tk" x="435.7" y="77.88" text-anchor="end" textLength="9" lengthAdjust="spacingAndGlyphs">0.2</text>
<text class="tk" x="435.7" y="61.86" text-anchor="end" textLength="9" lengthAdjust="spacingAndGlyphs">0.4</text>
<text class="tk" x="435.7" y="45.84" text-anchor="end" textLength="9" lengthAdjust="spacingAndGlyphs">0.6</text>
<text class="tk" x="435.7" y="29.82" text-anchor="end" textLength="9" lengthAdjust="spacingAndGlyphs">0.8</text>
<text class="tk" x="435.7" y="13.8" text-anchor="end" textLength="3" lengthAdjust="spacingAndGlyphs">1</text>
<text x="487.65" y="105.4" text-anchor="middle" textLength="43.05" lengthAdjust="spacingAndGlyphs">Symbol interval</text>
<text transform="translate(424.2 52.35) rotate(-90)" fill="#505050" text-anchor="middle" textLength="24.57" lengthAdjust="spacingAndGlyphs">Magnitude</text>
<text x="486.95" y="7.6" text-anchor="middle" textLength="68.4" lengthAdjust="spacingAndGlyphs">The 4th subband of user1</text>
<line x1="514.4" y1="17.1" x2="527.4" y2="17.1" stroke="#ff4a4a" stroke-width="1.2" stroke-dasharray="2 0.6"/>
<line x1="514.4" y1="23.5" x2="527.4" y2="23.5" stroke="#5050ff" stroke-width="0.8"/>
<text x="528.8" y="19.3" textLength="9" lengthAdjust="spacingAndGlyphs">q11</text>
<text x="528.8" y="25.7" textLength="9" lengthAdjust="spacingAndGlyphs">q12</text>
<text class="lt" x="486.25" y="118.2" text-anchor="middle">(d)</text>
<rect x="20.4" y="143.5" width="105" height="80.2" fill="none" stroke="#d2d2d2" stroke-width="0.9"/>
<path d="M20.4 223.7v-1.1M20.4 143.5v1.1M37.9 223.7v-1.1M37.9 143.5v1.1M55.4 223.7v-1.1M55.4 143.5v1.1M72.9 223.7v-1.1M72.9 143.5v1.1M90.4 223.7v-1.1M90.4 143.5v1.1M107.9 223.7v-1.1M107.9 143.5v1.1M125.4 223.7v-1.1M125.4 143.5v1.1M20.4 223.7h1.1M125.4 223.7h-1.1M20.4 207.66h1.1M125.4 207.66h-1.1M20.4 191.62h1.1M125.4 191.62h-1.1M20.4 175.58h1.1M125.4 175.58h-1.1M20.4 159.54h1.1M125.4 159.54h-1.1M20.4 143.5h1.1M125.4 143.5h-1.1" stroke="#808080" stroke-width="0.6" fill="none"/>
<polyline points="20.4,218.47 20.6,218.55 20.79,218.79 20.99,219.11 21.19,219.43 21.38,219.67 21.58,219.75 21.76,219.67 21.95,219.43 22.13,219.09 22.31,218.7 22.5,218.36 22.68,218.13 22.87,218.04 23.08,218.48 23.3,219.55 23.51,220.6 23.73,221.05 23.91,220.9 24.09,220.48 24.28,219.87 24.46,219.21 24.65,218.61 24.83,218.19 25.02,218.04 25.2,218.25 25.38,218.85 25.57,219.71 25.75,220.67 25.94,221.53 26.12,222.12 26.3,222.34 26.49,222.25 26.67,222.02 26.86,221.67 27.04,221.29 27.22,220.94 27.41,220.7 27.59,220.62 27.78,220.64 27.96,220.7 28.15,220.78 28.33,220.88 28.51,220.97 28.7,221.03 28.88,221.05 29.07,221.03 29.25,220.97 29.44,220.88 29.62,220.78 29.8,220.7 29.99,220.64 30.17,220.62 30.36,220.66 30.54,220.78 30.72,220.95 30.91,221.14 31.09,221.32 31.28,221.43 31.46,221.48 31.65,221.5 31.84,221.57 32.03,221.69 32.22,221.83 32.42,221.98 32.61,222.12 32.8,222.23 32.99,222.31 33.18,222.34 33.37,222.32 33.56,222.29 33.75,222.23 33.94,222.16 34.13,222.08 34.32,222.02 34.52,221.96 34.71,221.92 34.9,221.9 35.08,221.89 35.27,221.82 35.45,221.74 35.64,221.65 35.82,221.56 36,221.49 36.19,221.48 36.37,221.43 36.56,221.32 36.74,221.14 36.92,220.95 37.11,220.78 37.29,220.66 37.48,220.62 37.66,220.68 37.84,220.86 38.03,221.12 38.21,221.41 38.4,221.66 38.58,221.84 38.77,221.9 38.96,221.94 39.15,222.01 39.34,222.12 39.53,222.26 39.72,222.41 39.91,222.55 40.1,222.67 40.29,222.74 40.48,222.76 40.68,222.75 40.87,222.71 41.06,222.66 41.25,222.59 41.44,222.51 41.63,222.44 41.82,222.38 42.01,222.35 42.2,222.34 42.39,222.31 42.58,222.23 42.78,222.12 42.97,221.98 43.16,221.83 43.35,221.69 43.54,221.57 43.73,221.5 43.92,221.48 44.11,221.52 44.29,221.64 44.47,221.81 44.66,222 44.84,222.18 45.03,222.3 45.21,222.34 45.4,222.26 45.59,222.03 45.78,221.69 45.97,221.27 46.17,220.82 46.36,220.4 46.55,220.06 46.74,219.83 46.93,219.75 47.11,219.84 47.3,220.08 47.48,220.43 47.67,220.8 47.85,221.15 48.03,221.39 48.22,221.48 48.4,221.52 48.59,221.64 48.77,221.81 48.95,222 49.14,222.18 49.32,222.3 49.51,222.34 49.75,222.34 50,222.34 50.19,222.28 50.38,222.14 50.57,221.9 50.76,221.62 50.95,221.33 51.15,221.05 51.34,220.82 51.53,220.67 51.72,220.62 51.9,220.66 52.09,220.78 52.27,220.95 52.45,221.14 52.64,221.32 52.82,221.43 53.01,221.48 53.19,221.56 53.38,221.8 53.56,222.14 53.74,222.53 53.93,222.87 54.11,223.11 54.3,223.19 54.49,223.17 54.68,223.1 54.87,222.98 55.06,222.84 55.25,222.69 55.44,222.55 55.63,222.43 55.83,222.36 56.02,222.34 56.21,222.31 56.4,222.23 56.59,222.12 56.78,221.98 56.97,221.83 57.16,221.69 57.35,221.57 57.54,221.5 57.73,221.48 57.92,221.54 58.1,221.72 58.29,221.98 58.47,222.26 58.66,222.52 58.84,222.71 59.02,222.76 59.21,222.71 59.39,222.52 59.58,222.26 59.76,221.98 59.94,221.72 60.13,221.54 60.31,221.48 60.5,221.52 60.68,221.64 60.87,221.81 61.05,222 61.23,222.18 61.42,222.3 61.6,222.34 61.79,222.3 61.97,222.18 62.15,222 62.34,221.81 62.52,221.64 62.71,221.52 62.89,221.48 63.08,221.54 63.26,221.72 63.44,221.98 63.63,222.26 63.81,222.52 64,222.71 64.18,222.76 64.36,222.72 64.55,222.6 64.73,222.43 64.92,222.24 65.1,222.07 65.28,221.95 65.47,221.9 65.66,221.92 65.85,221.96 66.04,222.02 66.23,222.08 66.42,222.16 66.61,222.23 66.8,222.29 67,222.32 67.19,222.34 67.38,222.31 67.57,222.23 67.76,222.12 67.95,221.98 68.14,221.83 68.33,221.69 68.53,221.57 68.72,221.5 68.91,221.48 69.09,221.45 69.27,221.4 69.46,221.31 69.64,221.21 69.83,221.13 70.01,221.07 70.19,221.05 70.38,221.11 70.56,221.29 70.75,221.55 70.93,221.83 71.12,222.1 71.3,222.27 71.48,222.34 71.67,222.31 71.85,222.26 72.04,222.17 72.22,222.07 72.4,221.98 72.59,221.93 72.77,221.9 72.96,221.86 73.16,221.76 73.35,221.58 73.54,221.37 73.73,221.15 73.92,220.94 74.11,220.76 74.3,220.65 74.49,220.62 74.68,220.7 74.86,220.94 75.05,221.29 75.23,221.67 75.41,222.02 75.6,222.25 75.78,222.34 75.97,222.36 76.15,222.42 76.33,222.51 76.52,222.6 76.7,222.68 76.89,222.75 77.07,222.76 77.25,222.68 77.44,222.44 77.62,222.1 77.81,221.71 77.99,221.37 78.17,221.13 78.36,221.05 78.54,221.09 78.73,221.21 78.91,221.38 79.1,221.57 79.28,221.74 79.46,221.86 79.65,221.9 79.83,221.93 80.02,221.98 80.2,222.07 80.38,222.17 80.57,222.26 80.75,222.31 80.94,222.34 81.13,222.31 81.32,222.23 81.51,222.12 81.7,221.98 81.89,221.83 82.08,221.69 82.27,221.57 82.47,221.5 82.66,221.48 82.85,221.46 83.04,221.42 83.23,221.37 83.42,221.3 83.61,221.22 83.8,221.16 83.99,221.09 84.18,221.06 84.37,221.05 84.57,221.1 84.76,221.25 84.95,221.48 85.14,221.76 85.33,222.06 85.52,222.34 85.71,222.56 85.9,222.71 86.09,222.76 86.28,222.69 86.48,222.46 86.67,222.12 86.86,221.7 87.05,221.25 87.24,220.83 87.43,220.49 87.62,220.27 87.81,220.19 88,220.15 88.18,220.03 88.36,219.85 88.55,219.67 88.73,219.49 88.92,219.37 89.1,219.33 89.29,219.26 89.47,219.09 89.65,218.82 89.84,218.54 90.02,218.28 90.21,218.1 90.39,218.04 90.58,218.18 90.77,218.59 90.96,219.22 91.15,219.99 91.34,220.81 91.54,221.58 91.73,222.22 91.92,222.63 92.11,222.76 92.29,222.71 92.48,222.52 92.66,222.26 92.85,221.98 93.03,221.72 93.21,221.54 93.4,221.48 93.57,221.48 93.75,221.48 93.92,221.48 94.1,221.48 94.27,221.48 94.45,221.48 94.62,221.48 94.82,221.46 95.01,221.42 95.2,221.37 95.39,221.3 95.58,221.22 95.77,221.16 95.96,221.09 96.15,221.06 96.34,221.05 96.54,221.06 96.73,221.09 96.92,221.16 97.11,221.22 97.3,221.3 97.49,221.37 97.68,221.42 97.87,221.46 98.06,221.48 98.25,221.49 98.44,221.53 98.64,221.58 98.83,221.65 99.02,221.73 99.21,221.8 99.4,221.86 99.59,221.9 99.78,221.9 99.97,221.92 100.16,221.96 100.35,222.02 100.54,222.08 100.74,222.16 100.93,222.23 101.12,222.29 101.31,222.32 101.5,222.34 101.69,222.34 101.88,222.34 102.07,222.34 102.26,222.34 102.45,222.34 102.65,222.34 102.84,222.34 103.03,222.34 103.22,222.34 103.41,222.31 103.6,222.23 103.79,222.12 103.98,221.98 104.17,221.83 104.37,221.69 104.56,221.57 104.75,221.5 104.94,221.48 105.13,221.46 105.32,221.42 105.51,221.37 105.7,221.3 105.89,221.22 106.08,221.16 106.27,221.09 106.47,221.06 106.66,221.05 106.84,221.01 107.03,220.88 107.21,220.72 107.39,220.52 107.58,220.35 107.76,220.23 107.95,220.19 108.13,220.23 108.31,220.35 108.5,220.52 108.68,220.72 108.87,220.88 109.05,221.01 109.23,221.05 109.42,221.09 109.6,221.21 109.79,221.38 109.97,221.57 110.16,221.74 110.34,221.86 110.52,221.9 110.71,221.97 110.89,222.15 111.08,222.41 111.26,222.7 111.44,222.95 111.63,223.13 111.81,223.19 112,223.11 112.18,222.87 112.36,222.53 112.55,222.14 112.73,221.8 112.92,221.56 113.1,221.48 113.29,221.54 113.47,221.72 113.65,221.98 113.84,222.26 114.02,222.52 114.21,222.71 114.39,222.76 114.57,222.71 114.76,222.52 114.94,222.26 115.13,221.98 115.31,221.72 115.5,221.54 115.68,221.48 115.86,221.52 116.05,221.64 116.23,221.81 116.42,222 116.6,222.18 116.78,222.3 116.97,222.34 117.16,222.34 117.35,222.38 117.54,222.44 117.73,222.51 117.92,222.59 118.11,222.67 118.3,222.75 118.49,222.8 118.68,222.83 118.87,222.85 119.06,222.83 119.24,222.81 119.43,222.76 119.61,222.7 119.8,222.63 119.98,222.55 120.17,222.49 120.35,222.42 120.54,222.38 120.72,222.35 120.91,222.34 121.09,222.35 121.28,222.38 121.46,222.42 121.65,222.49 121.84,222.55 122.02,222.63 122.2,222.7 122.39,222.76 122.58,222.81 122.76,222.83 122.94,222.85 123.13,222.83 123.32,222.77 123.5,222.67 123.69,222.55 123.87,222.41 124.06,222.26 124.24,222.13 124.43,222.01 124.61,221.91 124.8,221.85 124.98,221.83 125.19,221.83 125.4,221.83" fill="none" stroke="#2424ff" stroke-width="0.8" stroke-linejoin="round"/>
<polyline points="20.4,221.9 20.6,221.7 20.79,221.16 20.99,220.4 21.19,219.65 21.38,219.1 21.58,218.9 21.76,218.82 21.95,218.58 22.13,218.23 22.31,217.85 22.5,217.5 22.68,217.27 22.87,217.18 23.06,217.16 23.25,217.08 23.44,216.96 23.63,216.83 23.82,216.67 24.01,216.54 24.2,216.42 24.4,216.35 24.59,216.32 24.77,216.47 24.95,216.88 25.14,217.49 25.32,218.16 25.51,218.76 25.69,219.18 25.88,219.33 26.06,219.43 26.24,219.73 26.43,220.16 26.61,220.64 26.8,221.07 26.98,221.37 27.16,221.48 27.35,221.48 27.53,221.48 27.72,221.48 27.9,221.48 28.08,221.48 28.27,221.48 28.45,221.48 28.67,221.73 28.88,222.34 29.1,222.95 29.31,223.19 29.5,223.15 29.69,222.99 29.89,222.76 30.08,222.49 30.27,222.18 30.46,221.9 30.65,221.68 30.84,221.53 31.03,221.48 31.22,221.49 31.41,221.53 31.6,221.58 31.8,221.65 31.99,221.73 32.18,221.8 32.37,221.86 32.56,221.9 32.75,221.9 32.94,221.94 33.13,222.06 33.32,222.23 33.51,222.44 33.71,222.67 33.9,222.87 34.09,223.04 34.28,223.15 34.47,223.19 34.66,223.15 34.85,222.99 35.04,222.76 35.23,222.49 35.42,222.18 35.61,221.9 35.81,221.68 36,221.53 36.19,221.48 36.37,221.37 36.56,221.07 36.74,220.64 36.92,220.16 37.11,219.73 37.29,219.43 37.48,219.33 37.66,219.22 37.84,218.92 38.02,218.44 38.2,217.82 38.37,217.12 38.55,216.39 38.73,215.68 38.91,215.06 39.09,214.58 39.27,214.28 39.45,214.17 39.64,214.28 39.82,214.61 40,215.1 40.18,215.67 40.37,216.25 40.55,216.74 40.73,217.07 40.91,217.18 41.1,217.33 41.28,217.75 41.47,218.35 41.65,219.02 41.83,219.62 42.02,220.03 42.2,220.19 42.39,220.1 42.58,219.83 42.78,219.43 42.97,218.94 43.16,218.42 43.35,217.93 43.54,217.53 43.73,217.27 43.92,217.18 44.11,217.05 44.29,216.69 44.47,216.18 44.66,215.6 44.84,215.09 45.03,214.73 45.21,214.61 45.4,214.84 45.58,215.49 45.76,216.44 45.95,217.49 46.13,218.44 46.32,219.1 46.5,219.33 46.69,219.25 46.88,219.02 47.07,218.69 47.26,218.26 47.45,217.81 47.65,217.4 47.84,217.05 48.03,216.83 48.22,216.75 48.4,216.92 48.59,217.4 48.77,218.09 48.95,218.85 49.14,219.54 49.32,220.02 49.51,220.19 49.75,220.62 50,221.05 50.19,220.94 50.37,220.64 50.55,220.21 50.74,219.73 50.92,219.31 51.11,219.01 51.29,218.9 51.48,218.82 51.67,218.6 51.86,218.25 52.05,217.83 52.24,217.39 52.44,216.96 52.63,216.62 52.82,216.4 53.01,216.32 53.2,216.4 53.39,216.62 53.58,216.96 53.77,217.39 53.96,217.83 54.15,218.25 54.34,218.6 54.54,218.82 54.73,218.9 54.92,218.85 55.11,218.7 55.3,218.47 55.49,218.19 55.68,217.89 55.87,217.61 56.06,217.38 56.25,217.23 56.44,217.18 56.63,217.08 56.81,216.78 57,216.35 57.18,215.86 57.37,215.44 57.55,215.13 57.73,215.03 57.92,215.12 58.1,215.35 58.29,215.7 58.47,216.08 58.66,216.43 58.84,216.67 59.02,216.75 59.21,216.96 59.39,217.56 59.58,218.42 59.76,219.38 59.94,220.24 60.13,220.84 60.31,221.05 60.5,220.75 60.68,219.91 60.87,218.71 61.05,217.37 61.23,216.16 61.42,215.33 61.6,215.03 61.79,215.05 61.97,215.11 62.15,215.2 62.34,215.3 62.52,215.38 62.71,215.44 62.89,215.46 63.08,215.42 63.26,215.3 63.44,215.13 63.63,214.93 63.81,214.77 64,214.65 64.18,214.61 64.36,214.81 64.55,215.41 64.73,216.27 64.92,217.23 65.1,218.09 65.28,218.69 65.47,218.9 65.65,218.75 65.84,218.33 66.02,217.73 66.2,217.06 66.39,216.46 66.57,216.04 66.76,215.89 66.94,215.82 67.13,215.65 67.31,215.39 67.49,215.1 67.68,214.85 67.86,214.66 68.05,214.61 68.23,214.71 68.41,215.01 68.6,215.44 68.78,215.91 68.97,216.35 69.15,216.64 69.34,216.75 69.55,216.43 69.77,215.67 69.98,214.92 70.19,214.61 70.43,216.47 70.66,220.22 70.89,222.1 71.24,199.64 71.85,177.18" fill="none" stroke="#ff1a1a" stroke-width="1.05" stroke-dasharray="1.6 0.4" stroke-linejoin="round"/>
<polyline points="71.85,177.18 72.46,149.92 72.9,143.5 73.34,149.92 73.95,177.18 74.47,199.64" fill="none" stroke="#ff4552" stroke-width="1.0" stroke-dasharray="1.3 0.5" stroke-linejoin="round"/>
<polyline points="74.47,199.64 74.74,222.1 74.83,217.06 74.92,212.02 75.14,212.53 75.35,213.74 75.57,214.96 75.78,215.46 75.97,215.38 76.15,215.13 76.33,214.79 76.52,214.41 76.7,214.07 76.89,213.83 77.07,213.74 77.25,213.89 77.44,214.31 77.62,214.91 77.81,215.58 77.99,216.19 78.17,216.6 78.36,216.75 78.54,216.67 78.73,216.43 78.91,216.08 79.1,215.7 79.28,215.35 79.46,215.12 79.65,215.03 79.84,214.98 80.03,214.83 80.22,214.61 80.41,214.32 80.6,214.02 80.79,213.74 80.98,213.51 81.18,213.36 81.37,213.31 81.55,213.52 81.74,214.12 81.92,214.98 82.1,215.94 82.29,216.8 82.47,217.4 82.66,217.61 82.84,217.73 83.02,218.09 83.21,218.62 83.39,219.18 83.58,219.71 83.76,220.06 83.95,220.19 84.13,219.85 84.31,218.9 84.5,217.52 84.68,215.98 84.87,214.61 85.05,213.65 85.23,213.31 85.42,213.21 85.6,212.91 85.79,212.48 85.97,212 86.15,211.57 86.34,211.27 86.52,211.16 86.71,211.57 86.89,212.7 87.08,214.34 87.26,216.15 87.44,217.79 87.63,218.92 87.81,219.33 88,219.14 88.18,218.6 88.36,217.82 88.55,216.96 88.73,216.19 88.92,215.66 89.1,215.46 89.29,215.7 89.47,216.35 89.65,217.3 89.84,218.35 90.02,219.3 90.21,219.95 90.39,220.19 90.6,219.99 90.82,219.55 91.04,219.09 91.25,218.9 91.43,219.02 91.62,219.39 91.8,219.9 91.99,220.48 92.17,220.99 92.35,221.35 92.54,221.48 92.72,221.41 92.91,221.24 93.09,220.97 93.28,220.69 93.46,220.43 93.64,220.25 93.83,220.19 94.03,219.81 94.23,218.9 94.42,217.99 94.62,217.61 94.81,217.73 94.99,218.09 95.18,218.62 95.36,219.18 95.54,219.71 95.73,220.06 95.91,220.19 96.1,220.03 96.28,219.62 96.47,219.02 96.65,218.35 96.83,217.75 97.02,217.33 97.2,217.18 97.39,217.27 97.57,217.5 97.76,217.85 97.94,218.23 98.12,218.58 98.31,218.82 98.49,218.9 98.71,218.58 98.92,217.82 99.14,217.07 99.35,216.75 99.53,216.51 99.72,215.86 99.9,214.91 100.09,213.86 100.27,212.91 100.46,212.26 100.64,212.02 100.83,212.11 101.02,212.38 101.21,212.78 101.4,213.27 101.59,213.79 101.79,214.28 101.98,214.68 102.17,214.94 102.36,215.03 102.54,215.12 102.73,215.35 102.91,215.7 103.1,216.08 103.28,216.43 103.46,216.67 103.65,216.75 103.86,217.44 104.08,219.11 104.29,220.78 104.51,221.48 104.69,221.26 104.88,220.67 105.06,219.8 105.25,218.85 105.43,217.99 105.61,217.4 105.8,217.18 105.98,217.33 106.17,217.75 106.35,218.35 106.53,219.02 106.72,219.62 106.9,220.03 107.09,220.19 107.27,220.25 107.45,220.43 107.64,220.69 107.82,220.97 108.01,221.24 108.19,221.41 108.37,221.48 108.59,221.1 108.8,220.19 109.02,219.27 109.23,218.9 109.42,218.96 109.6,219.14 109.79,219.4 109.97,219.69 110.16,219.95 110.34,220.12 110.52,220.19 110.71,220.25 110.89,220.43 111.08,220.69 111.26,220.97 111.44,221.24 111.63,221.41 111.81,221.48 112,221.43 112.18,221.32 112.36,221.14 112.55,220.95 112.73,220.78 112.92,220.66 113.1,220.62 113.29,220.68 113.47,220.86 113.65,221.12 113.84,221.41 114.02,221.66 114.21,221.84 114.39,221.9 114.57,221.86 114.76,221.74 114.94,221.57 115.13,221.38 115.31,221.21 115.5,221.09 115.68,221.05 115.86,221.07 116.05,221.13 116.23,221.21 116.42,221.31 116.6,221.4 116.78,221.45 116.97,221.48 117.15,221.4 117.34,221.17 117.53,220.82 117.71,220.35 117.9,219.79 118.08,219.17 118.27,218.54 118.45,217.93 118.64,217.37 118.83,216.9 119.01,216.54 119.2,216.31 119.38,216.23 119.57,216.3 119.76,216.46 119.95,216.71 120.14,217 120.34,217.29 120.53,217.54 120.72,217.7 120.91,217.77 121.1,217.88 121.29,218.21 121.48,218.7 121.67,219.29 121.86,219.87 122.05,220.36 122.24,220.7 122.44,220.81 122.63,220.85 122.82,220.97 123.01,221.13 123.2,221.32 123.39,221.52 123.58,221.68 123.77,221.79 123.96,221.83 124.14,221.85 124.32,221.9 124.5,221.98 124.68,222.09 124.86,222.18 125.04,222.26 125.22,222.32 125.4,222.34" fill="none" stroke="#ff1a1a" stroke-width="1.05" stroke-dasharray="1.6 0.4" stroke-linejoin="round"/>
<text class="tk" x="19.4" y="230.1" text-anchor="middle" textLength="9" lengthAdjust="spacingAndGlyphs">-30</text>
<text class="tk" x="36.9" y="230.1" text-anchor="middle" textLength="9" lengthAdjust="spacingAndGlyphs">-20</text>
<text class="tk" x="54.4" y="230.1" text-anchor="middle" textLength="9" lengthAdjust="spacingAndGlyphs">-10</text>
<text class="tk" x="72.5" y="230.1" text-anchor="middle" textLength="3" lengthAdjust="spacingAndGlyphs">0</text>
<text class="tk" x="90" y="230.1" text-anchor="middle" textLength="6" lengthAdjust="spacingAndGlyphs">10</text>
<text class="tk" x="107.5" y="230.1" text-anchor="middle" textLength="6" lengthAdjust="spacingAndGlyphs">20</text>
<text class="tk" x="125" y="230.1" text-anchor="middle" textLength="6" lengthAdjust="spacingAndGlyphs">30</text>
<text class="tk" x="19.2" y="226.2" text-anchor="end" textLength="3" lengthAdjust="spacingAndGlyphs">0</text>
<text class="tk" x="19.2" y="210.16" text-anchor="end" textLength="9" lengthAdjust="spacingAndGlyphs">0.2</text>
<text class="tk" x="19.2" y="194.12" text-anchor="end" textLength="9" lengthAdjust="spacingAndGlyphs">0.4</text>
<text class="tk" x="19.2" y="178.08" text-anchor="end" textLength="9" lengthAdjust="spacingAndGlyphs">0.6</text>
<text class="tk" x="19.2" y="162.04" text-anchor="end" textLength="9" lengthAdjust="spacingAndGlyphs">0.8</text>
<text class="tk" x="19.2" y="146" text-anchor="end" textLength="3" lengthAdjust="spacingAndGlyphs">1</text>
<text x="71.4" y="237.7" text-anchor="middle" textLength="43.05" lengthAdjust="spacingAndGlyphs">Symbol interval</text>
<text transform="translate(7.7 184.6) rotate(-90)" fill="#505050" text-anchor="middle" textLength="24.57" lengthAdjust="spacingAndGlyphs">Magnitude</text>
<text x="70.7" y="139.8" text-anchor="middle" textLength="68.4" lengthAdjust="spacingAndGlyphs">The 1st subband of user2</text>
<line x1="98.9" y1="149.3" x2="111.6" y2="149.3" stroke="#ee2020" stroke-width="0.9" stroke-dasharray="2.3 0.9"/>
<line x1="98.9" y1="155.7" x2="111.6" y2="155.7" stroke="#a8a8ff" stroke-width="1.6"/>
<text x="112.8" y="151.5" textLength="9" lengthAdjust="spacingAndGlyphs">q22</text>
<text x="112.8" y="157.9" textLength="9" lengthAdjust="spacingAndGlyphs">q21</text>
<text class="lt" x="70" y="250.5" text-anchor="middle">(e)</text>
<rect x="159.4" y="143.5" width="104.5" height="80.2" fill="none" stroke="#d2d2d2" stroke-width="0.9"/>
<path d="M159.4 223.7v-1.1M159.4 143.5v1.1M176.82 223.7v-1.1M176.82 143.5v1.1M194.23 223.7v-1.1M194.23 143.5v1.1M211.65 223.7v-1.1M211.65 143.5v1.1M229.07 223.7v-1.1M229.07 143.5v1.1M246.48 223.7v-1.1M246.48 143.5v1.1M263.9 223.7v-1.1M263.9 143.5v1.1M159.4 223.7h1.1M263.9 223.7h-1.1M159.4 207.66h1.1M263.9 207.66h-1.1M159.4 191.62h1.1M263.9 191.62h-1.1M159.4 175.58h1.1M263.9 175.58h-1.1M159.4 159.54h1.1M263.9 159.54h-1.1M159.4 143.5h1.1M263.9 143.5h-1.1" stroke="#808080" stroke-width="0.6" fill="none"/>
<polyline points="159.4,220.42 159.4,220.42 159.41,220.42 159.58,220.46 159.76,220.58 159.94,220.76 160.12,220.97 160.3,221.18 160.47,221.36 160.65,221.47 160.83,221.52 161.01,221.57 161.19,221.74 161.38,221.98 161.56,222.29 161.74,222.61 161.92,222.91 162.1,223.16 162.29,223.32 162.47,223.38 162.65,223.31 162.83,223.1 163.02,222.78 163.2,222.38 163.38,221.97 163.56,221.57 163.75,221.25 163.93,221.05 164.11,220.97 164.29,220.93 164.47,220.84 164.66,220.69 164.84,220.52 165.02,220.32 165.2,220.15 165.39,220 165.57,219.91 165.75,219.87 165.93,219.91 166.11,219.99 166.3,220.12 166.48,220.28 166.66,220.48 166.84,220.69 167.03,220.91 167.21,221.1 167.39,221.28 167.57,221.41 167.75,221.49 167.94,221.52 168.12,221.57 168.3,221.71 168.48,221.93 168.67,222.19 168.85,222.48 169.03,222.75 169.21,222.96 169.4,223.11 169.58,223.15 169.76,223.14 169.94,223.09 170.13,223.02 170.31,222.93 170.49,222.83 170.67,222.75 170.85,222.67 171.04,222.63 171.22,222.61 171.4,222.63 171.58,222.67 171.77,222.75 171.95,222.83 172.13,222.93 172.31,223.02 172.5,223.09 172.68,223.14 172.86,223.15 173.04,223.12 173.22,223.03 173.41,222.88 173.59,222.71 173.77,222.51 173.95,222.34 174.14,222.19 174.32,222.1 174.5,222.06 174.68,222.04 174.86,221.99 175.05,221.9 175.23,221.79 175.41,221.65 175.59,221.52 175.78,221.37 175.96,221.25 176.14,221.13 176.32,221.05 176.5,220.99 176.69,220.97 176.87,221 177.05,221.08 177.23,221.21 177.42,221.38 177.6,221.57 177.78,221.79 177.96,222 178.15,222.2 178.33,222.37 178.51,222.5 178.69,222.59 178.88,222.61 179.06,222.63 179.24,222.67 179.42,222.75 179.6,222.83 179.79,222.93 179.97,223.02 180.15,223.09 180.33,223.14 180.52,223.15 180.7,223.11 180.88,222.96 181.06,222.75 181.24,222.48 181.43,222.19 181.61,221.93 181.79,221.71 181.97,221.57 182.16,221.52 182.34,221.54 182.52,221.62 182.7,221.76 182.88,221.93 183.07,222.12 183.25,222.34 183.43,222.55 183.61,222.75 183.8,222.91 183.98,223.04 184.16,223.13 184.34,223.15 184.53,223.14 184.71,223.08 184.89,222.99 185.07,222.88 185.26,222.75 185.44,222.61 185.62,222.46 185.8,222.34 185.98,222.22 186.17,222.14 186.35,222.08 186.53,222.06 186.71,222.08 186.9,222.14 187.08,222.22 187.26,222.34 187.44,222.46 187.63,222.61 187.81,222.75 187.99,222.88 188.17,222.99 188.35,223.08 188.54,223.14 188.72,223.15 188.9,223.13 189.08,223.04 189.27,222.91 189.45,222.75 189.63,222.55 189.81,222.34 189.99,222.12 190.18,221.93 190.36,221.76 190.54,221.62 190.72,221.54 190.91,221.52 191.09,221.48 191.27,221.37 191.45,221.2 191.63,220.97 191.82,220.71 192,220.42 192.18,220.14 192.36,219.87 192.55,219.65 192.73,219.47 192.91,219.37 193.09,219.33 193.28,219.39 193.46,219.59 193.64,219.87 193.82,220.24 194.01,220.61 194.19,220.97 194.37,221.26 194.55,221.45 194.73,221.52 194.92,221.49 195.1,221.39 195.28,221.25 195.46,221.06 195.65,220.88 195.83,220.69 196.01,220.55 196.19,220.45 196.38,220.42 196.56,220.47 196.74,220.61 196.92,220.83 197.1,221.1 197.29,221.38 197.47,221.65 197.65,221.87 197.83,222.02 198.02,222.06 198.2,222.04 198.38,221.99 198.56,221.9 198.74,221.79 198.93,221.65 199.11,221.52 199.29,221.37 199.47,221.25 199.66,221.13 199.84,221.05 200.02,220.99 200.2,220.97 200.38,220.95 200.57,220.9 200.75,220.83 200.93,220.74 201.11,220.64 201.3,220.56 201.48,220.48 201.66,220.44 201.84,220.42 202.03,220.45 202.21,220.55 202.39,220.69 202.57,220.88 202.76,221.06 202.94,221.25 203.12,221.39 203.3,221.49 203.49,221.52 203.67,221.53 203.85,221.55 204.03,221.6 204.21,221.65 204.4,221.72 204.58,221.79 204.76,221.86 204.94,221.93 205.13,221.98 205.31,222.02 205.49,222.06 205.67,222.06 205.85,222.07 206.04,222.1 206.22,222.14 206.4,222.2 206.58,222.26 206.77,222.34 206.95,222.41 207.13,222.47 207.31,222.53 207.49,222.57 207.68,222.6 207.86,222.61 208.05,222.54 208.24,222.34 208.43,222.06 208.62,221.79 208.81,221.59 209,221.52 209.18,221.55 209.35,221.65 209.52,221.79 209.7,221.93 209.87,222.02 210.05,222.06 210.24,221.65 210.44,220.83 210.64,220.42 210.82,220.45 211.01,220.53 211.19,220.66 211.37,220.83 211.55,221.03 211.73,221.25 211.92,221.45 212.1,221.65 212.28,221.82 212.46,221.95 212.65,222.03 212.83,222.06 213.01,222.05 213.19,222 213.37,221.93 213.56,221.84 213.74,221.74 213.92,221.65 214.1,221.58 214.29,221.53 214.47,221.52 214.65,221.52 214.83,221.52 215.01,221.52 215.2,221.52 215.38,221.52 215.56,221.52 215.74,221.52 215.93,221.52 216.11,221.52 216.29,221.52 216.47,221.52 216.66,221.52 216.84,221.53 217.02,221.55 217.2,221.6 217.39,221.65 217.57,221.72 217.75,221.79 217.93,221.86 218.12,221.93 218.3,221.98 218.48,222.02 218.66,222.06 218.84,222.06 219.03,222.06 219.21,222.02 219.39,221.98 219.57,221.93 219.76,221.86 219.94,221.79 220.12,221.72 220.3,221.65 220.48,221.6 220.67,221.55 220.85,221.53 221.03,221.52 221.21,221.49 221.4,221.39 221.58,221.25 221.76,221.06 221.94,220.88 222.12,220.69 222.31,220.55 222.49,220.45 222.67,220.42 222.85,220.44 223.04,220.49 223.22,220.58 223.4,220.69 223.58,220.83 223.77,220.97 223.95,221.11 224.13,221.25 224.31,221.36 224.49,221.44 224.68,221.49 224.86,221.52 225.04,221.5 225.22,221.48 225.41,221.44 225.59,221.38 225.77,221.31 225.95,221.25 226.14,221.17 226.32,221.1 226.5,221.05 226.68,221.01 226.87,220.98 227.05,220.97 227.23,220.99 227.41,221.05 227.59,221.13 227.78,221.25 227.96,221.37 228.14,221.52 228.32,221.65 228.51,221.79 228.69,221.9 228.87,221.99 229.05,222.04 229.23,222.06 229.42,222.06 229.6,222.02 229.78,221.98 229.96,221.93 230.15,221.86 230.33,221.79 230.51,221.72 230.69,221.65 230.87,221.6 231.06,221.55 231.24,221.53 231.42,221.52 231.6,221.49 231.79,221.44 231.97,221.36 232.15,221.25 232.33,221.11 232.52,220.97 232.7,220.83 232.88,220.69 233.06,220.58 233.24,220.49 233.43,220.44 233.61,220.42 233.79,220.44 233.97,220.49 234.16,220.58 234.34,220.69 234.52,220.83 234.7,220.97 234.89,221.11 235.07,221.25 235.25,221.36 235.43,221.44 235.62,221.49 235.8,221.52 235.98,221.53 236.16,221.55 236.34,221.6 236.53,221.65 236.71,221.72 236.89,221.79 237.07,221.86 237.26,221.93 237.44,221.98 237.62,222.02 237.8,222.06 237.98,222.06 238.17,222.04 238.35,221.99 238.53,221.9 238.71,221.79 238.9,221.65 239.08,221.52 239.26,221.37 239.44,221.25 239.62,221.13 239.81,221.05 239.99,220.99 240.17,220.97 240.35,221 240.54,221.08 240.72,221.21 240.9,221.38 241.08,221.57 241.27,221.79 241.45,222 241.63,222.2 241.81,222.37 242,222.5 242.18,222.59 242.36,222.61 242.54,222.59 242.72,222.54 242.91,222.45 243.09,222.34 243.27,222.2 243.45,222.06 243.64,221.92 243.82,221.79 244,221.68 244.18,221.59 244.36,221.53 244.55,221.52 244.73,221.53 244.91,221.55 245.09,221.6 245.28,221.65 245.46,221.72 245.64,221.79 245.82,221.86 246,221.93 246.19,221.98 246.37,222.02 246.55,222.06 246.73,222.06 246.92,222.04 247.1,221.99 247.28,221.9 247.46,221.79 247.65,221.65 247.83,221.52 248.01,221.37 248.19,221.25 248.37,221.13 248.56,221.05 248.74,220.99 248.92,220.97 249.1,220.98 249.29,221.01 249.47,221.05 249.65,221.1 249.83,221.17 250.02,221.25 250.2,221.31 250.38,221.38 250.56,221.44 250.75,221.48 250.93,221.5 251.11,221.52 251.29,221.53 251.47,221.59 251.66,221.68 251.84,221.79 252.02,221.92 252.2,222.06 252.39,222.2 252.57,222.34 252.75,222.45 252.93,222.54 253.11,222.59 253.3,222.61 253.48,222.59 253.66,222.54 253.84,222.45 254.03,222.34 254.21,222.2 254.39,222.06 254.57,221.92 254.75,221.79 254.94,221.68 255.12,221.59 255.3,221.53 255.48,221.52 255.67,221.53 255.85,221.59 256.03,221.68 256.21,221.79 256.4,221.92 256.58,222.06 256.76,222.2 256.94,222.34 257.12,222.45 257.31,222.54 257.49,222.59 257.67,222.61 257.85,222.6 258.04,222.57 258.22,222.53 258.4,222.47 258.58,222.41 258.77,222.34 258.95,222.26 259.13,222.2 259.31,222.14 259.5,222.1 259.68,222.07 259.86,222.06 260.04,222.07 260.22,222.1 260.41,222.14 260.59,222.2 260.77,222.26 260.95,222.34 261.14,222.41 261.32,222.47 261.5,222.53 261.68,222.57 261.86,222.6 262.05,222.61 262.23,222.61 262.42,222.61 262.6,222.61 262.79,222.61 262.97,222.61 263.16,222.61 263.34,222.61 263.53,222.61 263.72,222.61 263.9,222.61" fill="none" stroke="#2424ff" stroke-width="0.8" stroke-linejoin="round"/>
<polyline points="159.4,221.52 159.4,221.52 159.41,221.52 159.58,221.43 159.76,221.2 159.94,220.84 160.12,220.42 160.3,220 160.47,219.65 160.65,219.41 160.83,219.33 161.01,219.44 161.19,219.78 161.38,220.28 161.56,220.91 161.74,221.57 161.92,222.2 162.1,222.71 162.29,223.04 162.47,223.15 162.65,223.06 162.83,222.77 163.02,222.34 163.2,221.8 163.38,221.23 163.56,220.69 163.75,220.26 163.93,219.97 164.11,219.87 164.29,219.83 164.47,219.68 164.66,219.47 164.84,219.2 165.02,218.91 165.2,218.65 165.39,218.42 165.57,218.29 165.75,218.24 165.93,218.27 166.11,218.36 166.3,218.51 166.48,218.69 166.66,218.88 166.84,219.06 167.03,219.2 167.21,219.3 167.39,219.33 167.57,219.24 167.75,219.01 167.92,218.66 168.1,218.24 168.28,217.81 168.46,217.46 168.63,217.23 168.81,217.14 169,217.22 169.19,217.45 169.37,217.78 169.56,218.14 169.75,218.47 169.94,218.7 170.13,218.78 170.31,218.74 170.49,218.65 170.67,218.51 170.85,218.37 171.04,218.27 171.22,218.24 171.4,218.25 171.58,218.29 171.77,218.37 171.95,218.46 172.13,218.56 172.31,218.65 172.5,218.72 172.68,218.77 172.86,218.78 173.04,218.75 173.22,218.66 173.41,218.51 173.59,218.33 173.77,218.14 173.95,217.96 174.14,217.81 174.32,217.72 174.5,217.69 174.68,217.79 174.86,218.07 175.05,218.51 175.23,219.04 175.41,219.61 175.59,220.15 175.78,220.59 175.96,220.87 176.14,220.97 176.32,220.82 176.5,220.38 176.69,219.69 176.87,218.78 177.05,217.73 177.23,216.59 177.42,215.46 177.6,214.4 177.78,213.5 177.96,212.81 178.15,212.37 178.33,212.22 178.51,212.48 178.69,213.24 178.88,214.4 179.06,215.83 179.24,217.36 179.42,218.78 179.6,219.95 179.79,220.71 179.97,220.97 180.15,220.88 180.34,220.6 180.52,220.15 180.71,219.55 180.89,218.85 181.08,218.09 181.26,217.29 181.45,216.52 181.63,215.82 181.82,215.23 182.01,214.78 182.19,214.5 182.37,214.4 182.55,214.58 182.72,215.09 182.9,215.87 183.07,216.86 183.25,217.96 183.42,219.06 183.6,220.05 183.77,220.84 183.95,221.34 184.12,221.52 184.31,221.32 184.5,220.73 184.68,219.83 184.87,218.68 185.05,217.41 185.24,216.15 185.43,215.01 185.61,214.09 185.8,213.51 185.98,213.31 186.17,213.51 186.35,214.08 186.53,214.95 186.71,216.02 186.9,217.16 187.08,218.24 187.26,219.1 187.44,219.67 187.63,219.87 187.81,219.73 187.99,219.3 188.17,218.65 188.35,217.85 188.54,216.99 188.72,216.19 188.9,215.53 189.08,215.1 189.27,214.95 189.45,215.17 189.63,215.78 189.81,216.73 189.99,217.89 190.18,219.13 190.36,220.28 190.54,221.23 190.72,221.85 190.91,222.06 191.09,222.02 191.27,221.87 191.45,221.65 191.63,221.38 191.82,221.1 192,220.83 192.18,220.61 192.36,220.47 192.55,220.42 192.73,220.47 192.91,220.61 193.09,220.83 193.28,221.1 193.46,221.38 193.64,221.65 193.82,221.87 194.01,222.02 194.19,222.06 194.37,222.02 194.55,221.87 194.73,221.65 194.92,221.38 195.1,221.1 195.28,220.83 195.46,220.61 195.65,220.47 195.83,220.42 196.01,220.44 196.19,220.48 196.38,220.56 196.56,220.64 196.74,220.74 196.92,220.83 197.1,220.9 197.29,220.95 197.47,220.97 197.65,220.95 197.83,220.9 198.02,220.83 198.2,220.74 198.38,220.64 198.56,220.56 198.74,220.48 198.93,220.44 199.11,220.42 199.29,220.49 199.47,220.69 199.66,220.97 199.84,221.25 200.02,221.44 200.2,221.52 200.38,221.27 200.57,220.56 200.75,219.47 200.93,218.13 201.11,216.7 201.3,215.37 201.48,214.27 201.66,213.56 201.84,213.31 202.03,213.33 202.21,213.38 202.39,213.45 202.57,213.54 202.76,213.63 202.94,213.72 203.12,213.8 203.3,213.84 203.49,213.86 203.67,213.96 203.85,214.24 204.03,214.68 204.21,215.21 204.4,215.78 204.58,216.32 204.76,216.75 204.94,217.04 205.13,217.14 205.33,217.18 205.53,217.25 205.73,217.28 206.6,201.24 207.47,197.23 208.34,207.66 209.21,222.1 209.91,199.64 210.6,170.77" fill="none" stroke="#ff1a1a" stroke-width="1.05" stroke-dasharray="1.6 0.4" stroke-linejoin="round"/>
<polyline points="210.6,170.77 211.3,146.71 211.65,143.5 212,146.71 212.69,170.77 213.39,199.64" fill="none" stroke="#ff4552" stroke-width="1.0" stroke-dasharray="1.3 0.5" stroke-linejoin="round"/>
<polyline points="213.39,199.64 214.09,222.1 214.96,207.66 215.66,197.23 216.53,201.24 217.4,217.28 217.58,217.2 217.76,216.94 217.94,216.56 218.12,216.12 218.3,215.67 218.48,215.3 218.66,215.04 218.84,214.95 219.03,215.03 219.21,215.22 219.39,215.5 219.57,215.78 219.76,215.98 219.94,216.05 220.11,215.74 220.29,214.91 220.46,213.9 220.64,213.08 220.81,212.77 221,213.12 221.19,214.1 221.38,215.53 221.56,217.11 221.75,218.54 221.94,219.52 222.12,219.87 222.31,219.86 222.49,219.8 222.67,219.71 222.85,219.6 223.04,219.47 223.22,219.33 223.4,219.18 223.58,219.06 223.77,218.94 223.95,218.86 224.13,218.8 224.31,218.78 224.49,218.93 224.68,219.33 224.86,219.87 225.04,220.42 225.22,220.82 225.41,220.97 225.59,220.93 225.77,220.84 225.95,220.69 226.14,220.52 226.32,220.32 226.5,220.15 226.68,220 226.87,219.91 227.05,219.87 227.23,219.86 227.41,219.81 227.59,219.74 227.78,219.65 227.96,219.55 228.14,219.47 228.32,219.39 228.51,219.35 228.69,219.33 228.87,219.35 229.05,219.44 229.23,219.57 229.42,219.74 229.6,219.94 229.78,220.15 229.96,220.36 230.15,220.56 230.33,220.72 230.51,220.86 230.69,220.94 230.87,220.97 231.06,220.95 231.24,220.9 231.42,220.83 231.6,220.74 231.79,220.64 231.97,220.56 232.15,220.48 232.33,220.44 232.52,220.42 232.7,220.37 232.88,220.23 233.06,220.01 233.24,219.75 233.43,219.46 233.61,219.19 233.79,218.98 233.97,218.83 234.16,218.78 234.34,218.69 234.52,218.41 234.7,217.98 234.89,217.41 235.07,216.75 235.25,216.05 235.43,215.34 235.62,214.68 235.8,214.12 235.98,213.67 236.16,213.4 236.34,213.31 236.53,213.38 236.71,213.57 236.89,213.86 237.07,214.21 237.26,214.6 237.44,214.95 237.62,215.25 237.8,215.43 237.98,215.5 238.17,215.58 238.35,215.82 238.53,216.19 238.71,216.63 238.9,217.11 239.08,217.55 239.26,217.92 239.44,218.15 239.62,218.24 239.81,218.13 240,217.82 240.19,217.38 240.38,216.9 240.56,216.46 240.75,216.15 240.94,216.05 241.12,216.13 241.29,216.37 241.47,216.72 241.65,217.14 241.83,217.56 242,217.92 242.18,218.15 242.36,218.24 242.54,218.21 242.72,218.13 242.91,218 243.09,217.82 243.27,217.63 243.45,217.41 243.64,217.2 243.82,217 244,216.83 244.18,216.71 244.36,216.62 244.55,216.59 244.73,216.66 244.91,216.85 245.09,217.14 245.28,217.5 245.46,217.88 245.64,218.24 245.82,218.53 246,218.71 246.19,218.78 246.37,218.75 246.55,218.66 246.73,218.51 246.92,218.33 247.1,218.14 247.28,217.96 247.46,217.81 247.65,217.72 247.83,217.69 248.01,217.73 248.19,217.88 248.37,218.09 248.56,218.37 248.74,218.65 248.92,218.92 249.1,219.14 249.29,219.28 249.47,219.33 249.65,219.25 249.83,219.01 250.02,218.65 250.2,218.2 250.38,217.73 250.56,217.28 250.75,216.92 250.93,216.67 251.11,216.59 251.29,216.71 251.47,217.04 251.66,217.55 251.84,218.17 252.02,218.84 252.2,219.47 252.39,219.97 252.57,220.31 252.75,220.42 252.93,220.39 253.11,220.29 253.3,220.15 253.48,219.97 253.66,219.78 253.84,219.6 254.03,219.46 254.21,219.36 254.39,219.33 254.57,219.3 254.75,219.22 254.94,219.09 255.12,218.92 255.3,218.72 255.48,218.51 255.67,218.29 255.85,218.09 256.03,217.93 256.21,217.8 256.4,217.72 256.58,217.69 256.76,217.79 256.94,218.07 257.12,218.51 257.31,219.04 257.49,219.61 257.67,220.15 257.85,220.59 258.04,220.87 258.22,220.97 258.4,221.02 258.58,221.16 258.77,221.38 258.95,221.65 259.13,221.93 259.31,222.2 259.5,222.42 259.68,222.56 259.86,222.61 260.04,222.6 260.22,222.57 260.41,222.53 260.59,222.47 260.77,222.41 260.95,222.34 261.14,222.26 261.32,222.2 261.5,222.14 261.68,222.1 261.86,222.07 262.05,222.06 262.23,222.08 262.41,222.13 262.59,222.2 262.78,222.29 262.96,222.38 263.14,222.47 263.32,222.55 263.5,222.59 263.69,222.61 263.79,222.61 263.9,222.61" fill="none" stroke="#ff1a1a" stroke-width="1.05" stroke-dasharray="1.6 0.4" stroke-linejoin="round"/>
<text class="tk" x="158.4" y="230.1" text-anchor="middle" textLength="9" lengthAdjust="spacingAndGlyphs">-30</text>
<text class="tk" x="175.82" y="230.1" text-anchor="middle" textLength="9" lengthAdjust="spacingAndGlyphs">-20</text>
<text class="tk" x="193.23" y="230.1" text-anchor="middle" textLength="9" lengthAdjust="spacingAndGlyphs">-10</text>
<text class="tk" x="211.25" y="230.1" text-anchor="middle" textLength="3" lengthAdjust="spacingAndGlyphs">0</text>
<text class="tk" x="228.67" y="230.1" text-anchor="middle" textLength="6" lengthAdjust="spacingAndGlyphs">10</text>
<text class="tk" x="246.08" y="230.1" text-anchor="middle" textLength="6" lengthAdjust="spacingAndGlyphs">20</text>
<text class="tk" x="263.5" y="230.1" text-anchor="middle" textLength="6" lengthAdjust="spacingAndGlyphs">30</text>
<text class="tk" x="158.2" y="226.2" text-anchor="end" textLength="3" lengthAdjust="spacingAndGlyphs">0</text>
<text class="tk" x="158.2" y="210.16" text-anchor="end" textLength="9" lengthAdjust="spacingAndGlyphs">0.2</text>
<text class="tk" x="158.2" y="194.12" text-anchor="end" textLength="9" lengthAdjust="spacingAndGlyphs">0.4</text>
<text class="tk" x="158.2" y="178.08" text-anchor="end" textLength="9" lengthAdjust="spacingAndGlyphs">0.6</text>
<text class="tk" x="158.2" y="162.04" text-anchor="end" textLength="9" lengthAdjust="spacingAndGlyphs">0.8</text>
<text class="tk" x="158.2" y="146" text-anchor="end" textLength="3" lengthAdjust="spacingAndGlyphs">1</text>
<text x="210.15" y="237.7" text-anchor="middle" textLength="43.05" lengthAdjust="spacingAndGlyphs">Symbol interval</text>
<text transform="translate(146.7 184.6) rotate(-90)" fill="#505050" text-anchor="middle" textLength="24.57" lengthAdjust="spacingAndGlyphs">Magnitude</text>
<text x="209.45" y="139.8" text-anchor="middle" textLength="68.4" lengthAdjust="spacingAndGlyphs">The 2nd subband of user2</text>
<line x1="237.4" y1="149.3" x2="250.1" y2="149.3" stroke="#ee2020" stroke-width="0.9" stroke-dasharray="2.3 0.9"/>
<line x1="237.4" y1="155.7" x2="250.1" y2="155.7" stroke="#a8a8ff" stroke-width="1.6"/>
<text x="251.3" y="151.5" textLength="9" lengthAdjust="spacingAndGlyphs">q22</text>
<text x="251.3" y="157.9" textLength="9" lengthAdjust="spacingAndGlyphs">q21</text>
<text class="lt" x="208.75" y="250.5" text-anchor="middle">(f)</text>
<rect x="298.4" y="143.5" width="103.7" height="80.2" fill="none" stroke="#d2d2d2" stroke-width="0.9"/>
<path d="M298.4 223.7v-1.1M298.4 143.5v1.1M315.68 223.7v-1.1M315.68 143.5v1.1M332.97 223.7v-1.1M332.97 143.5v1.1M350.25 223.7v-1.1M350.25 143.5v1.1M367.53 223.7v-1.1M367.53 143.5v1.1M384.82 223.7v-1.1M384.82 143.5v1.1M402.1 223.7v-1.1M402.1 143.5v1.1M298.4 223.7h1.1M402.1 223.7h-1.1M298.4 207.66h1.1M402.1 207.66h-1.1M298.4 191.62h1.1M402.1 191.62h-1.1M298.4 175.58h1.1M402.1 175.58h-1.1M298.4 159.54h1.1M402.1 159.54h-1.1M298.4 143.5h1.1M402.1 143.5h-1.1" stroke="#808080" stroke-width="0.6" fill="none"/>
<polyline points="298.4,219.33 298.4,219.33 298.41,219.33 298.58,219.29 298.76,219.17 298.94,218.99 299.12,218.78 299.3,218.58 299.47,218.39 299.65,218.28 299.83,218.24 300.01,218.33 300.19,218.62 300.38,219.06 300.56,219.59 300.74,220.16 300.92,220.69 301.1,221.13 301.29,221.41 301.47,221.52 301.65,221.55 301.83,221.65 302.02,221.79 302.2,221.97 302.38,222.16 302.56,222.34 302.75,222.48 302.93,222.58 303.11,222.61 303.29,222.58 303.47,222.48 303.66,222.34 303.84,222.16 304.02,221.97 304.2,221.79 304.39,221.65 304.57,221.55 304.75,221.52 304.93,221.55 305.11,221.65 305.3,221.79 305.48,221.97 305.66,222.16 305.84,222.34 306.03,222.48 306.21,222.58 306.39,222.61 306.57,222.58 306.75,222.48 306.94,222.34 307.12,222.16 307.3,221.97 307.48,221.79 307.67,221.65 307.85,221.55 308.03,221.52 308.21,221.55 308.4,221.65 308.58,221.79 308.76,221.97 308.94,222.16 309.12,222.34 309.31,222.48 309.49,222.58 309.67,222.61 309.85,222.59 310.04,222.55 310.22,222.47 310.4,222.38 310.58,222.29 310.77,222.2 310.95,222.13 311.13,222.08 311.31,222.06 311.5,222.05 311.68,222 311.86,221.93 312.04,221.84 312.22,221.74 312.41,221.65 312.59,221.58 312.77,221.53 312.95,221.52 313.14,221.55 313.32,221.65 313.5,221.79 313.68,221.97 313.87,222.16 314.05,222.34 314.23,222.48 314.41,222.58 314.59,222.61 314.78,222.58 314.96,222.48 315.14,222.34 315.32,222.16 315.51,221.97 315.69,221.79 315.87,221.65 316.05,221.55 316.23,221.52 316.42,221.57 316.6,221.71 316.78,221.93 316.96,222.19 317.15,222.48 317.33,222.75 317.51,222.96 317.69,223.11 317.87,223.15 318.06,223.14 318.24,223.09 318.42,223.02 318.6,222.93 318.79,222.83 318.97,222.75 319.15,222.67 319.33,222.63 319.52,222.61 319.7,222.6 319.88,222.57 320.06,222.53 320.24,222.47 320.43,222.41 320.61,222.34 320.79,222.26 320.97,222.2 321.16,222.14 321.34,222.1 321.52,222.07 321.7,222.06 321.88,222.06 322.07,222.02 322.25,221.98 322.43,221.93 322.61,221.86 322.8,221.79 322.98,221.72 323.16,221.65 323.34,221.6 323.53,221.55 323.71,221.53 323.89,221.52 324.07,221.49 324.26,221.41 324.44,221.28 324.62,221.1 324.8,220.91 324.99,220.69 325.17,220.48 325.35,220.28 325.53,220.12 325.71,219.99 325.9,219.91 326.08,219.87 326.26,219.95 326.44,220.2 326.63,220.56 326.81,221.01 326.99,221.48 327.17,221.93 327.35,222.29 327.54,222.53 327.72,222.61 327.9,222.58 328.08,222.48 328.27,222.34 328.45,222.16 328.63,221.97 328.81,221.79 328.99,221.65 329.18,221.55 329.36,221.52 329.54,221.55 329.72,221.65 329.91,221.79 330.09,221.97 330.27,222.16 330.45,222.34 330.64,222.48 330.82,222.58 331,222.61 331.18,222.62 331.36,222.65 331.55,222.69 331.73,222.75 331.91,222.81 332.09,222.88 332.28,222.95 332.46,223.02 332.64,223.07 332.82,223.12 333,223.15 333.19,223.15 333.37,223.15 333.55,223.12 333.73,223.07 333.92,223.02 334.1,222.95 334.28,222.88 334.46,222.81 334.65,222.75 334.83,222.69 335.01,222.65 335.19,222.62 335.37,222.61 335.56,222.62 335.74,222.65 335.92,222.69 336.1,222.75 336.29,222.81 336.47,222.88 336.65,222.95 336.83,223.02 337.02,223.07 337.2,223.12 337.38,223.15 337.56,223.15 337.75,223.14 337.93,223.08 338.11,222.99 338.29,222.88 338.47,222.75 338.66,222.61 338.84,222.46 339.02,222.34 339.2,222.22 339.39,222.14 339.57,222.08 339.75,222.06 339.93,222.07 340.12,222.1 340.3,222.14 340.48,222.2 340.66,222.26 340.84,222.34 341.03,222.41 341.21,222.47 341.39,222.53 341.57,222.57 341.76,222.6 341.94,222.61 342.12,222.61 342.3,222.61 342.48,222.61 342.67,222.61 342.85,222.61 343.03,222.61 343.21,222.61 343.4,222.61 343.58,222.61 343.76,222.61 343.94,222.61 344.12,222.61 344.31,222.62 344.49,222.65 344.67,222.69 344.85,222.75 345.04,222.81 345.22,222.88 345.4,222.95 345.58,223.02 345.76,223.07 345.95,223.12 346.13,223.15 346.31,223.15 346.49,223.15 346.68,223.12 346.86,223.07 347.04,223.02 347.22,222.95 347.41,222.88 347.59,222.81 347.77,222.75 347.95,222.69 348.14,222.65 348.32,222.62 348.5,222.61 348.69,222.58 348.87,222.48 349.06,222.34 349.25,222.16 349.44,221.97 349.62,221.79 349.81,221.65 350,221.55 350.19,221.52 350.37,221.53 350.55,221.59 350.73,221.68 350.92,221.79 351.1,221.92 351.28,222.06 351.46,222.2 351.65,222.34 351.83,222.45 352.01,222.54 352.19,222.59 352.38,222.61 352.56,222.62 352.74,222.65 352.92,222.69 353.1,222.75 353.29,222.81 353.47,222.88 353.65,222.95 353.83,223.02 354.02,223.07 354.2,223.12 354.38,223.15 354.56,223.15 354.75,223.15 354.93,223.12 355.11,223.07 355.29,223.02 355.47,222.95 355.66,222.88 355.84,222.81 356.02,222.75 356.2,222.69 356.39,222.65 356.57,222.62 356.75,222.61 356.93,222.62 357.11,222.65 357.3,222.69 357.48,222.75 357.66,222.81 357.84,222.88 358.03,222.95 358.21,223.02 358.39,223.07 358.57,223.12 358.76,223.15 358.94,223.15 359.12,223.15 359.3,223.15 359.48,223.15 359.67,223.15 359.85,223.15 360.03,223.15 360.21,223.15 360.4,223.15 360.58,223.15 360.76,223.15 360.94,223.15 361.12,223.15 361.31,223.15 361.49,223.12 361.67,223.07 361.85,223.02 362.04,222.95 362.22,222.88 362.4,222.81 362.58,222.75 362.76,222.69 362.95,222.65 363.13,222.62 363.31,222.61 363.49,222.62 363.68,222.65 363.86,222.69 364.04,222.75 364.22,222.81 364.41,222.88 364.59,222.95 364.77,223.02 364.95,223.07 365.14,223.12 365.32,223.15 365.5,223.15 365.68,223.15 365.86,223.12 366.05,223.07 366.23,223.02 366.41,222.95 366.59,222.88 366.78,222.81 366.96,222.75 367.14,222.69 367.32,222.65 367.51,222.62 367.69,222.61 367.87,222.62 368.05,222.65 368.24,222.69 368.42,222.75 368.6,222.81 368.78,222.88 368.96,222.95 369.15,223.02 369.33,223.07 369.51,223.12 369.69,223.15 369.88,223.15 370.06,223.15 370.24,223.12 370.42,223.07 370.6,223.02 370.79,222.95 370.97,222.88 371.15,222.81 371.33,222.75 371.52,222.69 371.7,222.65 371.88,222.62 372.06,222.61 372.24,222.61 372.43,222.61 372.61,222.61 372.79,222.61 372.97,222.61 373.16,222.61 373.34,222.61 373.52,222.61 373.7,222.61 373.88,222.61 374.07,222.61 374.25,222.61 374.43,222.62 374.61,222.65 374.8,222.69 374.98,222.75 375.16,222.81 375.34,222.88 375.53,222.95 375.71,223.02 375.89,223.07 376.07,223.12 376.25,223.15 376.44,223.15 376.62,223.14 376.8,223.08 376.98,222.99 377.17,222.88 377.35,222.75 377.53,222.61 377.71,222.46 377.9,222.34 378.08,222.22 378.26,222.14 378.44,222.08 378.63,222.06 378.81,222.07 378.99,222.1 379.17,222.14 379.35,222.2 379.54,222.26 379.72,222.34 379.9,222.41 380.08,222.47 380.27,222.53 380.45,222.57 380.63,222.6 380.81,222.61 381,222.6 381.18,222.57 381.36,222.53 381.54,222.47 381.72,222.41 381.91,222.34 382.09,222.26 382.27,222.2 382.45,222.14 382.64,222.1 382.82,222.07 383,222.06 383.18,222.07 383.36,222.1 383.55,222.14 383.73,222.2 383.91,222.26 384.09,222.34 384.28,222.41 384.46,222.47 384.64,222.53 384.82,222.57 385.01,222.6 385.19,222.61 385.37,222.6 385.55,222.57 385.73,222.53 385.92,222.47 386.1,222.41 386.28,222.34 386.46,222.26 386.65,222.2 386.83,222.14 387.01,222.1 387.19,222.07 387.37,222.06 387.56,222.06 387.74,222.02 387.92,221.98 388.1,221.93 388.29,221.86 388.47,221.79 388.65,221.72 388.83,221.65 389.01,221.6 389.2,221.55 389.38,221.53 389.56,221.52 389.74,221.53 389.93,221.59 390.11,221.68 390.29,221.79 390.47,221.92 390.66,222.06 390.84,222.2 391.02,222.34 391.2,222.45 391.39,222.54 391.57,222.59 391.75,222.61 391.93,222.62 392.12,222.65 392.3,222.69 392.48,222.75 392.66,222.81 392.84,222.88 393.03,222.95 393.21,223.02 393.39,223.07 393.57,223.12 393.76,223.15 393.94,223.15 394.12,223.15 394.3,223.12 394.48,223.07 394.67,223.02 394.85,222.95 395.03,222.88 395.21,222.81 395.4,222.75 395.58,222.69 395.76,222.65 395.94,222.62 396.13,222.61 396.31,222.6 396.49,222.57 396.67,222.53 396.85,222.47 397.04,222.41 397.22,222.34 397.4,222.26 397.58,222.2 397.77,222.14 397.95,222.1 398.13,222.07 398.31,222.06 398.49,222.06 398.68,222.02 398.86,221.98 399.04,221.93 399.22,221.86 399.41,221.79 399.59,221.72 399.77,221.65 399.95,221.6 400.13,221.55 400.32,221.53 400.5,221.52 400.68,221.55 400.86,221.65 401.03,221.79 401.21,221.97 401.39,222.16 401.57,222.34 401.74,222.48 401.92,222.58 402.1,222.61" fill="none" stroke="#2424ff" stroke-width="0.8" stroke-linejoin="round"/>
<polyline points="298.4,222.61 298.4,222.61 298.41,222.61 298.58,222.63 298.76,222.67 298.94,222.75 299.12,222.83 299.3,222.94 299.48,223.05 299.66,223.15 299.84,223.24 300.02,223.32 300.2,223.36 300.38,223.38 300.56,223.33 300.74,223.2 300.92,222.99 301.1,222.71 301.29,222.37 301.47,221.98 301.65,221.57 301.83,221.14 302.02,220.72 302.2,220.34 302.38,219.99 302.56,219.71 302.75,219.51 302.93,219.37 303.11,219.33 303.29,219.39 303.47,219.59 303.66,219.87 303.84,220.24 304.02,220.61 304.2,220.97 304.39,221.26 304.57,221.45 304.75,221.52 304.93,221.55 305.11,221.65 305.3,221.79 305.48,221.97 305.66,222.16 305.84,222.34 306.03,222.48 306.21,222.58 306.39,222.61 306.57,222.58 306.75,222.48 306.94,222.34 307.12,222.16 307.3,221.97 307.48,221.79 307.67,221.65 307.85,221.55 308.03,221.52 308.21,221.49 308.4,221.39 308.58,221.25 308.76,221.06 308.94,220.88 309.12,220.69 309.31,220.55 309.49,220.45 309.67,220.42 309.85,220.47 310.04,220.61 310.22,220.83 310.4,221.1 310.58,221.38 310.77,221.65 310.95,221.87 311.13,222.02 311.31,222.06 311.5,222.07 311.68,222.1 311.86,222.14 312.04,222.2 312.22,222.26 312.41,222.34 312.59,222.41 312.77,222.47 312.95,222.53 313.14,222.57 313.32,222.6 313.5,222.61 313.68,222.59 313.87,222.54 314.05,222.45 314.23,222.34 314.41,222.2 314.59,222.06 314.78,221.92 314.96,221.79 315.14,221.68 315.32,221.59 315.51,221.53 315.69,221.52 315.87,221.46 316.05,221.33 316.23,221.1 316.42,220.84 316.6,220.56 316.78,220.28 316.96,220.07 317.15,219.92 317.33,219.87 317.51,219.82 317.7,219.64 317.89,219.38 318.07,219.04 318.26,218.67 318.44,218.3 318.63,217.97 318.82,217.7 319,217.52 319.19,217.47 319.37,217.51 319.55,217.61 319.72,217.79 319.9,218.01 320.08,218.26 320.26,218.53 320.44,218.78 320.62,219.01 320.8,219.18 320.98,219.29 321.16,219.33 321.34,219.43 321.52,219.71 321.7,220.15 321.88,220.68 322.07,221.25 322.25,221.79 322.43,222.22 322.61,222.51 322.8,222.61 322.98,222.59 323.17,222.56 323.36,222.5 323.54,222.42 323.73,222.34 323.91,222.25 324.1,222.18 324.28,222.11 324.47,222.07 324.66,222.06 324.83,222.05 325.01,222.02 325.19,221.97 325.37,221.9 325.55,221.83 325.73,221.75 325.91,221.68 326.09,221.61 326.27,221.56 326.45,221.53 326.63,221.52 326.81,221.43 326.99,221.19 327.17,220.8 327.35,220.28 327.54,219.69 327.72,219.06 327.9,218.41 328.08,217.82 328.27,217.32 328.45,216.92 328.63,216.67 328.81,216.59 328.99,216.66 329.18,216.85 329.36,217.14 329.54,217.5 329.72,217.88 329.91,218.24 330.09,218.53 330.27,218.71 330.45,218.78 330.64,218.82 330.82,218.91 331,219.06 331.18,219.23 331.36,219.43 331.55,219.6 331.73,219.75 331.91,219.84 332.09,219.87 332.28,219.86 332.46,219.81 332.64,219.74 332.82,219.65 333,219.55 333.19,219.47 333.37,219.39 333.55,219.35 333.73,219.33 333.92,219.35 334.1,219.4 334.28,219.49 334.46,219.6 334.65,219.73 334.83,219.87 335.01,220.02 335.19,220.15 335.37,220.26 335.56,220.35 335.74,220.4 335.92,220.42 336.1,220.42 336.29,220.42 336.47,220.42 336.65,220.42 336.83,220.42 337.02,220.42 337.2,220.42 337.38,220.42 337.56,220.42 337.75,220.42 337.93,220.42 338.11,220.42 338.29,220.43 338.47,220.46 338.66,220.5 338.84,220.56 339.02,220.63 339.2,220.69 339.39,220.76 339.57,220.83 339.75,220.88 339.93,220.93 340.12,220.96 340.3,220.97 340.47,221.03 340.65,221.21 340.83,221.48 341.01,221.79 341.18,222.1 341.36,222.37 341.54,222.55 341.72,222.61 341.91,222.28 342.11,221.62 342.3,221.29 342.65,219.69 343.68,213.27 344.55,210.87 346.27,205.25 348,199.64 348.26,197.23" fill="none" stroke="#ff1a1a" stroke-width="1.05" stroke-dasharray="1.6 0.4" stroke-linejoin="round"/>
<polyline points="348.26,197.23 348.52,193.22 348.95,183.6 349.73,155.53 350.25,143.5 350.77,155.53 351.55,183.6 351.98,193.22 352.24,197.23 352.5,199.64" fill="none" stroke="#ff4552" stroke-width="1.0" stroke-dasharray="1.3 0.5" stroke-linejoin="round"/>
<polyline points="352.5,199.64 354.05,205.25 355.26,210.07 356.13,215.68 356.64,217.28 357.34,212.47 358.03,221.29 358.21,221.32 358.39,221.37 358.57,221.44 358.76,221.49 358.94,221.52 359.12,221.43 359.3,221.2 359.48,220.83 359.67,220.39 359.85,219.91 360.03,219.47 360.21,219.1 360.4,218.86 360.58,218.78 360.76,218.83 360.94,218.98 361.12,219.19 361.31,219.46 361.49,219.75 361.67,220.01 361.85,220.23 362.04,220.37 362.22,220.42 362.4,220.4 362.58,220.36 362.76,220.28 362.95,220.2 363.13,220.1 363.31,220.01 363.49,219.94 363.68,219.89 363.86,219.87 364.04,219.97 364.22,220.26 364.41,220.69 364.59,221.23 364.77,221.8 364.95,222.34 365.14,222.77 365.32,223.06 365.5,223.15 365.68,223.1 365.86,222.95 366.05,222.69 366.23,222.34 366.41,221.93 366.59,221.45 366.78,220.95 366.96,220.44 367.14,219.94 367.32,219.47 367.51,219.05 367.69,218.7 367.87,218.45 368.05,218.29 368.24,218.24 368.42,218.27 368.6,218.36 368.78,218.51 368.96,218.69 369.15,218.88 369.33,219.06 369.51,219.2 369.69,219.3 369.88,219.33 370.06,219.39 370.24,219.59 370.42,219.87 370.6,220.24 370.79,220.61 370.97,220.97 371.15,221.26 371.33,221.45 371.52,221.52 371.7,221.55 371.88,221.65 372.06,221.79 372.24,221.97 372.43,222.16 372.61,222.34 372.79,222.48 372.97,222.58 373.16,222.61 373.34,222.6 373.52,222.57 373.7,222.53 373.88,222.47 374.07,222.41 374.25,222.34 374.43,222.26 374.61,222.2 374.8,222.14 374.98,222.1 375.16,222.07 375.34,222.06 375.53,222.06 375.71,222.02 375.89,221.98 376.07,221.93 376.25,221.86 376.44,221.79 376.62,221.72 376.8,221.65 376.98,221.6 377.17,221.55 377.35,221.53 377.53,221.52 377.71,221.49 377.9,221.4 378.08,221.25 378.26,221.06 378.44,220.83 378.63,220.57 378.81,220.29 378.99,220 379.17,219.72 379.35,219.47 379.54,219.23 379.72,219.04 379.9,218.9 380.08,218.81 380.27,218.78 380.45,218.83 380.63,218.98 380.81,219.19 381,219.46 381.18,219.75 381.36,220.01 381.54,220.23 381.72,220.37 381.91,220.42 382.09,220.42 382.27,220.42 382.45,220.42 382.64,220.42 382.82,220.42 383,220.42 383.18,220.42 383.36,220.42 383.55,220.42 383.73,220.42 383.91,220.42 384.09,220.42 384.28,220.45 384.46,220.55 384.64,220.69 384.82,220.88 385.01,221.06 385.19,221.25 385.37,221.39 385.55,221.49 385.73,221.52 385.92,221.55 386.1,221.65 386.28,221.79 386.46,221.97 386.65,222.16 386.83,222.34 387.01,222.48 387.19,222.58 387.37,222.61 387.56,222.59 387.74,222.5 387.92,222.37 388.1,222.2 388.29,222 388.47,221.79 388.65,221.57 388.83,221.38 389.01,221.21 389.2,221.08 389.38,221 389.56,220.97 389.74,220.99 389.93,221.03 390.11,221.1 390.29,221.2 390.47,221.29 390.66,221.38 390.84,221.45 391.02,221.5 391.2,221.52 391.39,221.53 391.57,221.58 391.75,221.65 391.93,221.74 392.12,221.84 392.3,221.93 392.48,222 392.66,222.05 392.84,222.06 393.03,222.04 393.21,221.99 393.39,221.9 393.57,221.79 393.76,221.65 393.94,221.52 394.12,221.37 394.3,221.25 394.48,221.13 394.67,221.05 394.85,220.99 395.03,220.97 395.21,220.99 395.4,221.03 395.58,221.1 395.76,221.2 395.94,221.29 396.13,221.38 396.31,221.45 396.49,221.5 396.67,221.52 396.85,221.49 397.04,221.39 397.22,221.25 397.4,221.06 397.58,220.88 397.77,220.69 397.95,220.55 398.13,220.45 398.31,220.42 398.49,220.44 398.68,220.48 398.86,220.56 399.04,220.64 399.22,220.74 399.41,220.83 399.59,220.9 399.77,220.95 399.95,220.97 400.13,221.02 400.32,221.16 400.5,221.38 400.68,221.65 400.86,221.93 401.05,222.2 401.23,222.42 401.41,222.56 401.59,222.61 401.85,222.61 402.1,222.61" fill="none" stroke="#ff1a1a" stroke-width="1.05" stroke-dasharray="1.6 0.4" stroke-linejoin="round"/>
<text class="tk" x="297.4" y="230.1" text-anchor="middle" textLength="9" lengthAdjust="spacingAndGlyphs">-30</text>
<text class="tk" x="314.68" y="230.1" text-anchor="middle" textLength="9" lengthAdjust="spacingAndGlyphs">-20</text>
<text class="tk" x="331.97" y="230.1" text-anchor="middle" textLength="9" lengthAdjust="spacingAndGlyphs">-10</text>
<text class="tk" x="349.85" y="230.1" text-anchor="middle" textLength="3" lengthAdjust="spacingAndGlyphs">0</text>
<text class="tk" x="367.13" y="230.1" text-anchor="middle" textLength="6" lengthAdjust="spacingAndGlyphs">10</text>
<text class="tk" x="384.42" y="230.1" text-anchor="middle" textLength="6" lengthAdjust="spacingAndGlyphs">20</text>
<text class="tk" x="401.7" y="230.1" text-anchor="middle" textLength="6" lengthAdjust="spacingAndGlyphs">30</text>
<text class="tk" x="297.2" y="226.2" text-anchor="end" textLength="3" lengthAdjust="spacingAndGlyphs">0</text>
<text class="tk" x="297.2" y="210.16" text-anchor="end" textLength="9" lengthAdjust="spacingAndGlyphs">0.2</text>
<text class="tk" x="297.2" y="194.12" text-anchor="end" textLength="9" lengthAdjust="spacingAndGlyphs">0.4</text>
<text class="tk" x="297.2" y="178.08" text-anchor="end" textLength="9" lengthAdjust="spacingAndGlyphs">0.6</text>
<text class="tk" x="297.2" y="162.04" text-anchor="end" textLength="9" lengthAdjust="spacingAndGlyphs">0.8</text>
<text class="tk" x="297.2" y="146" text-anchor="end" textLength="3" lengthAdjust="spacingAndGlyphs">1</text>
<text x="348.75" y="237.7" text-anchor="middle" textLength="43.05" lengthAdjust="spacingAndGlyphs">Symbol interval</text>
<text transform="translate(285.7 184.6) rotate(-90)" fill="#505050" text-anchor="middle" textLength="24.57" lengthAdjust="spacingAndGlyphs">Magnitude</text>
<text x="348.05" y="139.8" text-anchor="middle" textLength="68.4" lengthAdjust="spacingAndGlyphs">The 3rd subband of user2</text>
<line x1="375.6" y1="149.3" x2="388.3" y2="149.3" stroke="#ee2020" stroke-width="0.9" stroke-dasharray="2.3 0.9"/>
<line x1="375.6" y1="155.7" x2="388.3" y2="155.7" stroke="#a8a8ff" stroke-width="1.6"/>
<text x="389.5" y="151.5" textLength="9" lengthAdjust="spacingAndGlyphs">q22</text>
<text x="389.5" y="157.9" textLength="9" lengthAdjust="spacingAndGlyphs">q21</text>
<text class="lt" x="347.35" y="250.5" text-anchor="middle">(g)</text>
<rect x="437.1" y="143.5" width="104.2" height="80.2" fill="none" stroke="#d2d2d2" stroke-width="0.9"/>
<path d="M437.1 223.7v-1.1M437.1 143.5v1.1M454.47 223.7v-1.1M454.47 143.5v1.1M471.83 223.7v-1.1M471.83 143.5v1.1M489.2 223.7v-1.1M489.2 143.5v1.1M506.57 223.7v-1.1M506.57 143.5v1.1M523.93 223.7v-1.1M523.93 143.5v1.1M541.3 223.7v-1.1M541.3 143.5v1.1M437.1 223.7h1.1M541.3 223.7h-1.1M437.1 207.66h1.1M541.3 207.66h-1.1M437.1 191.62h1.1M541.3 191.62h-1.1M437.1 175.58h1.1M541.3 175.58h-1.1M437.1 159.54h1.1M541.3 159.54h-1.1M437.1 143.5h1.1M541.3 143.5h-1.1" stroke="#808080" stroke-width="0.6" fill="none"/>
<polyline points="437.1,222.61 437.14,222.61 437.19,222.61 437.37,222.55 437.55,222.35 437.73,222.06 437.92,221.7 438.1,221.33 438.28,220.97 438.46,220.68 438.65,220.48 438.83,220.42 439.01,220.4 439.19,220.36 439.38,220.28 439.56,220.16 439.74,220.03 439.92,219.87 440.1,219.71 440.29,219.52 440.47,219.33 440.65,219.14 440.83,218.95 441.02,218.78 441.2,218.62 441.38,218.49 441.56,218.38 441.75,218.3 441.93,218.25 442.11,218.24 442.29,218.29 442.47,218.42 442.66,218.65 442.84,218.91 443.02,219.2 443.2,219.47 443.38,219.68 443.57,219.83 443.75,219.87 443.93,219.92 444.11,220.07 444.3,220.28 444.48,220.56 444.66,220.84 444.84,221.1 445.03,221.33 445.21,221.46 445.39,221.52 445.57,221.49 445.76,221.39 445.94,221.25 446.12,221.06 446.3,220.88 446.48,220.69 446.67,220.55 446.85,220.45 447.03,220.42 447.21,220.46 447.4,220.57 447.58,220.74 447.76,220.97 447.94,221.23 448.12,221.52 448.31,221.8 448.49,222.06 448.67,222.29 448.85,222.46 449.04,222.57 449.22,222.61 449.4,222.59 449.58,222.54 449.77,222.45 449.95,222.34 450.13,222.2 450.31,222.06 450.49,221.92 450.68,221.79 450.86,221.68 451.04,221.59 451.22,221.53 451.41,221.52 451.59,221.49 451.77,221.39 451.95,221.25 452.14,221.06 452.32,220.88 452.5,220.69 452.68,220.55 452.86,220.45 453.05,220.42 453.23,220.37 453.41,220.24 453.59,220.02 453.78,219.74 453.96,219.41 454.14,219.06 454.32,218.7 454.5,218.37 454.69,218.09 454.87,217.87 455.05,217.73 455.23,217.69 455.42,217.79 455.6,218.07 455.78,218.51 455.96,219.04 456.15,219.61 456.33,220.15 456.51,220.59 456.69,220.87 456.88,220.97 457.06,221.02 457.24,221.16 457.42,221.38 457.6,221.65 457.79,221.93 457.97,222.2 458.15,222.42 458.33,222.56 458.51,222.61 458.7,222.59 458.88,222.5 459.06,222.37 459.24,222.2 459.43,222 459.61,221.79 459.79,221.57 459.97,221.38 460.16,221.21 460.34,221.08 460.52,221 460.7,220.97 460.89,220.99 461.07,221.03 461.25,221.1 461.43,221.2 461.61,221.29 461.8,221.38 461.98,221.45 462.16,221.5 462.34,221.52 462.53,221.49 462.71,221.39 462.89,221.25 463.07,221.06 463.26,220.88 463.44,220.69 463.62,220.55 463.8,220.45 463.98,220.42 464.17,220.48 464.35,220.68 464.53,220.97 464.71,221.33 464.9,221.7 465.08,222.06 465.26,222.35 465.44,222.55 465.62,222.61 465.81,222.59 465.99,222.54 466.17,222.45 466.35,222.34 466.54,222.2 466.72,222.06 466.9,221.92 467.08,221.79 467.27,221.68 467.45,221.59 467.63,221.53 467.81,221.52 468,221.49 468.18,221.39 468.36,221.25 468.54,221.06 468.72,220.88 468.91,220.69 469.09,220.55 469.27,220.45 469.45,220.42 469.63,220.4 469.82,220.35 470,220.26 470.18,220.15 470.36,220.02 470.55,219.87 470.73,219.73 470.91,219.6 471.09,219.49 471.28,219.4 471.46,219.35 471.64,219.33 471.82,219.38 472.01,219.52 472.19,219.74 472.37,220 472.55,220.29 472.73,220.56 472.92,220.78 473.1,220.92 473.28,220.97 473.46,220.93 473.65,220.84 473.83,220.69 474.01,220.52 474.19,220.32 474.38,220.15 474.56,220 474.74,219.91 474.92,219.87 475.1,219.92 475.29,220.07 475.47,220.28 475.65,220.56 475.83,220.84 476.02,221.1 476.2,221.33 476.38,221.46 476.56,221.52 476.74,221.49 476.93,221.39 477.11,221.25 477.29,221.06 477.47,220.88 477.66,220.69 477.84,220.55 478.02,220.45 478.2,220.42 478.39,220.47 478.57,220.61 478.75,220.83 478.93,221.1 479.12,221.38 479.3,221.65 479.48,221.87 479.66,222.02 479.84,222.06 480.03,222.08 480.21,222.13 480.39,222.2 480.57,222.29 480.75,222.38 480.94,222.47 481.12,222.55 481.3,222.59 481.48,222.61 481.67,222.57 481.85,222.46 482.03,222.29 482.21,222.06 482.4,221.8 482.58,221.52 482.76,221.23 482.94,220.97 483.13,220.74 483.31,220.57 483.49,220.46 483.67,220.42 483.85,220.47 484.04,220.61 484.22,220.83 484.4,221.1 484.58,221.38 484.77,221.65 484.95,221.87 485.13,222.02 485.31,222.06 485.49,221.94 485.68,221.61 485.86,221.1 486.04,220.48 486.22,219.82 486.41,219.19 486.59,218.68 486.77,218.35 486.95,218.24 487.14,218.38 487.33,218.78 487.52,219.33 487.71,219.87 487.9,220.28 488.09,220.42 488.34,220.42 488.59,220.42 488.79,220.15 488.99,219.6 489.19,219.33 489.37,219.55 489.55,220.15 489.73,220.97 489.92,221.79 490.1,222.39 490.28,222.61 490.46,222.56 490.65,222.42 490.83,222.2 491.01,221.93 491.19,221.65 491.37,221.38 491.56,221.16 491.74,221.02 491.92,220.97 492.1,221.04 492.29,221.22 492.47,221.52 492.65,221.87 492.83,222.26 493.02,222.61 493.2,222.9 493.38,223.09 493.56,223.15 493.74,223.12 493.93,223.01 494.11,222.83 494.29,222.61 494.47,222.34 494.66,222.06 494.84,221.78 495.02,221.52 495.2,221.29 495.39,221.12 495.57,221.01 495.75,220.97 495.93,221.02 496.12,221.16 496.3,221.38 496.48,221.65 496.66,221.93 496.84,222.2 497.03,222.42 497.21,222.56 497.39,222.61 497.57,222.5 497.75,222.16 497.94,221.65 498.12,221.03 498.3,220.36 498.48,219.74 498.67,219.23 498.85,218.9 499.03,218.78 499.21,218.85 499.4,219.04 499.58,219.33 499.76,219.68 499.94,220.07 500.13,220.42 500.31,220.72 500.49,220.9 500.67,220.97 500.85,221.02 501.04,221.16 501.22,221.38 501.4,221.65 501.58,221.93 501.76,222.2 501.95,222.42 502.13,222.56 502.31,222.61 502.49,222.59 502.68,222.5 502.86,222.37 503.04,222.2 503.22,222 503.41,221.79 503.59,221.57 503.77,221.38 503.95,221.21 504.14,221.08 504.32,221 504.5,220.97 504.68,221.02 504.86,221.16 505.05,221.38 505.23,221.65 505.41,221.93 505.59,222.2 505.78,222.42 505.96,222.56 506.14,222.61 506.32,222.57 506.51,222.46 506.69,222.29 506.87,222.06 507.05,221.8 507.23,221.52 507.42,221.23 507.6,220.97 507.78,220.74 507.96,220.57 508.15,220.46 508.33,220.42 508.51,220.46 508.69,220.57 508.87,220.74 509.06,220.97 509.24,221.23 509.42,221.52 509.6,221.8 509.79,222.06 509.97,222.29 510.15,222.46 510.33,222.57 510.52,222.61 510.7,222.55 510.88,222.35 511.06,222.05 511.25,221.65 511.43,221.19 511.61,220.69 511.79,220.2 511.97,219.74 512.16,219.35 512.34,219.04 512.52,218.85 512.7,218.78 512.88,218.85 513.07,219.04 513.25,219.33 513.43,219.68 513.61,220.07 513.8,220.42 513.98,220.72 514.16,220.9 514.34,220.97 514.53,221.02 514.71,221.16 514.89,221.38 515.07,221.65 515.26,221.93 515.44,222.2 515.62,222.42 515.8,222.56 515.98,222.61 516.17,222.58 516.35,222.48 516.53,222.34 516.71,222.16 516.9,221.97 517.08,221.79 517.26,221.65 517.44,221.55 517.63,221.52 517.81,221.53 517.99,221.59 518.17,221.68 518.35,221.79 518.54,221.92 518.72,222.06 518.9,222.2 519.08,222.34 519.27,222.45 519.45,222.54 519.63,222.59 519.81,222.61 519.99,222.59 520.18,222.5 520.36,222.37 520.54,222.2 520.72,222 520.91,221.79 521.09,221.57 521.27,221.38 521.45,221.21 521.64,221.08 521.82,221 522,220.97 522.18,221 522.37,221.08 522.55,221.21 522.73,221.38 522.91,221.57 523.09,221.79 523.28,222 523.46,222.2 523.64,222.37 523.82,222.5 524,222.59 524.19,222.61 524.37,222.59 524.55,222.54 524.73,222.45 524.92,222.34 525.1,222.2 525.28,222.06 525.46,221.92 525.65,221.79 525.83,221.68 526.01,221.59 526.19,221.53 526.38,221.52 526.56,221.53 526.74,221.59 526.92,221.68 527.1,221.79 527.29,221.92 527.47,222.06 527.65,222.2 527.83,222.34 528.02,222.45 528.2,222.54 528.38,222.59 528.56,222.61 528.75,222.59 528.93,222.54 529.11,222.45 529.29,222.34 529.47,222.2 529.66,222.06 529.84,221.92 530.02,221.79 530.2,221.68 530.39,221.59 530.57,221.53 530.75,221.52 530.93,221.54 531.11,221.62 531.3,221.76 531.48,221.93 531.66,222.12 531.84,222.34 532.03,222.55 532.21,222.75 532.39,222.91 532.57,223.04 532.76,223.13 532.94,223.15 533.12,223.12 533.3,223.01 533.49,222.83 533.67,222.61 533.85,222.34 534.03,222.06 534.21,221.78 534.4,221.52 534.58,221.29 534.76,221.12 534.94,221.01 535.12,220.97 535.31,221 535.49,221.08 535.67,221.21 535.85,221.38 536.04,221.57 536.22,221.79 536.4,222 536.58,222.2 536.77,222.37 536.95,222.5 537.13,222.59 537.31,222.61 537.49,222.59 537.68,222.54 537.86,222.45 538.04,222.34 538.22,222.2 538.41,222.06 538.59,221.92 538.77,221.79 538.95,221.68 539.14,221.59 539.32,221.53 539.5,221.52 539.68,221.55 539.86,221.65 540.05,221.79 540.23,221.97 540.41,222.16 540.59,222.34 540.78,222.48 540.96,222.58 541.14,222.61 541.22,222.61 541.3,222.61" fill="none" stroke="#2424ff" stroke-width="0.8" stroke-linejoin="round"/>
<polyline points="437.1,222.61 437.14,222.61 437.19,222.61 437.37,222.5 437.55,222.16 437.73,221.65 437.92,221.03 438.1,220.36 438.28,219.74 438.46,219.23 438.65,218.9 438.83,218.78 439.01,218.68 439.19,218.4 439.38,217.96 439.56,217.43 439.74,216.86 439.92,216.32 440.1,215.88 440.29,215.6 440.47,215.5 440.65,215.62 440.83,215.94 441.02,216.46 441.2,217.08 441.38,217.75 441.56,218.37 441.75,218.88 441.93,219.21 442.11,219.33 442.29,219.51 442.47,220.01 442.66,220.69 442.84,221.38 443.02,221.88 443.2,222.06 443.38,221.98 443.57,221.74 443.75,221.38 443.93,220.93 444.11,220.46 444.3,220.01 444.48,219.65 444.66,219.41 444.84,219.33 445.03,219.3 445.21,219.2 445.39,219.06 445.57,218.88 445.76,218.69 445.94,218.51 446.12,218.36 446.3,218.27 446.48,218.24 446.67,218.14 446.86,217.87 447.04,217.44 447.23,216.92 447.41,216.32 447.6,215.73 447.79,215.2 447.97,214.77 448.16,214.5 448.34,214.4 448.52,214.51 448.7,214.81 448.88,215.25 449.06,215.78 449.23,216.3 449.41,216.74 449.59,217.04 449.77,217.14 449.95,217.28 450.13,217.65 450.31,218.24 450.49,218.95 450.68,219.71 450.86,220.42 451.04,221.01 451.22,221.38 451.41,221.52 451.59,221.3 451.77,220.68 451.95,219.67 452.14,218.37 452.32,216.85 452.5,215.22 452.68,213.6 452.86,212.08 453.05,210.78 453.23,209.78 453.41,209.15 453.59,208.94 453.78,209.15 453.96,209.77 454.14,210.72 454.32,211.88 454.5,213.11 454.69,214.27 454.87,215.21 455.05,215.83 455.23,216.05 455.42,216.24 455.6,216.81 455.78,217.69 455.96,218.76 456.15,219.9 456.33,220.97 456.51,221.84 456.69,222.41 456.88,222.61 457.06,222.42 457.24,221.9 457.42,221.1 457.6,220.12 457.79,219.08 457.97,218.09 458.15,217.3 458.33,216.78 458.51,216.59 458.7,216.75 458.88,217.24 459.06,217.96 459.24,218.86 459.43,219.8 459.61,220.69 459.79,221.42 459.97,221.9 460.16,222.06 460.34,221.91 460.52,221.49 460.7,220.83 460.89,220.03 461.07,219.18 461.25,218.37 461.43,217.72 461.61,217.29 461.8,217.14 461.98,217.03 462.16,216.7 462.34,216.18 462.53,215.5 462.71,214.71 462.89,213.86 463.07,213.01 463.26,212.22 463.44,211.54 463.62,211.02 463.8,210.69 463.98,210.58 464.17,210.72 464.35,211.16 464.53,211.81 464.71,212.61 464.9,213.47 465.08,214.27 465.26,214.93 465.44,215.35 465.62,215.5 465.81,215.28 465.99,214.68 466.17,213.86 466.35,213.04 466.54,212.44 466.72,212.22 466.9,212.48 467.08,213.24 467.27,214.4 467.45,215.83 467.63,217.36 467.81,218.78 468,219.95 468.18,220.71 468.36,220.97 468.54,220.92 468.72,220.78 468.91,220.56 469.09,220.29 469.27,220 469.45,219.74 469.63,219.52 469.82,219.38 470,219.33 470.18,219.28 470.36,219.14 470.55,218.92 470.73,218.65 470.91,218.37 471.09,218.09 471.28,217.88 471.46,217.73 471.64,217.69 471.82,217.8 472.01,218.09 472.19,218.51 472.37,218.92 472.55,219.22 472.73,219.33 472.92,219.13 473.1,218.56 473.28,217.69 473.46,216.62 473.65,215.48 473.83,214.4 474.01,213.53 474.19,212.96 474.38,212.77 474.56,212.9 474.74,213.27 474.92,213.86 475.1,214.57 475.29,215.34 475.47,216.05 475.65,216.63 475.83,217.01 476.02,217.14 476.2,217.26 476.38,217.59 476.56,218.09 476.74,218.72 476.93,219.39 477.11,220.01 477.29,220.52 477.47,220.85 477.66,220.97 477.84,220.99 478.02,221.03 478.2,221.1 478.39,221.2 478.57,221.29 478.75,221.38 478.93,221.45 479.12,221.5 479.3,221.52 479.48,221.37 479.66,220.93 479.84,220.24 480.03,219.33 480.21,218.27 480.39,217.14 480.57,216.01 480.75,214.95 480.94,214.04 481.12,213.35 481.3,212.91 481.48,212.77 481.67,213.24 481.85,214.54 482.03,216.32 482.21,218.09 482.4,219.4 482.58,219.87 482.75,219.79 482.93,219.57 483.11,219.22 483.28,218.81 483.46,218.35 483.64,217.93 483.81,217.59 483.99,217.36 484.16,217.28 484.86,203.65 485.55,193.22 486.07,191.62 486.77,199.64 487.29,207.66 487.81,183.6" fill="none" stroke="#ff1a1a" stroke-width="1.05" stroke-dasharray="1.6 0.4" stroke-linejoin="round"/>
<polyline points="487.81,183.6 488.33,165.96 488.85,147.51 489.2,143.5 489.55,147.51 490.07,165.96 490.59,183.6 491.11,207.66" fill="none" stroke="#ff4552" stroke-width="1.0" stroke-dasharray="1.3 0.5" stroke-linejoin="round"/>
<polyline points="491.11,207.66 491.63,201.24 492.33,197.23 493.02,201.24 493.72,215.68 493.89,215.65 494.07,215.57 494.24,215.43 494.42,215.24 494.59,215 494.77,214.72 494.94,214.4 495.12,214.06 495.29,213.7 495.47,213.32 495.64,212.94 495.81,212.56 495.99,212.2 496.17,211.85 496.34,211.54 496.51,211.26 496.69,211.02 496.87,210.83 497.04,210.69 497.22,210.6 497.39,210.58 497.57,210.93 497.75,211.94 497.92,213.45 498.1,215.22 498.28,217 498.46,218.51 498.64,219.52 498.81,219.87 499,219.6 499.19,218.85 499.38,217.75 499.56,216.53 499.75,215.44 499.94,214.68 500.13,214.4 500.31,214.62 500.49,215.24 500.67,216.19 500.85,217.34 501.04,218.58 501.22,219.74 501.4,220.68 501.58,221.3 501.76,221.52 501.95,221.26 502.13,220.52 502.31,219.35 502.49,217.82 502.68,216.04 502.86,214.13 503.04,212.22 503.22,210.44 503.41,208.91 503.59,207.74 503.77,207 503.95,206.75 504.14,207.08 504.32,208.03 504.5,209.48 504.68,211.27 504.86,213.17 505.05,214.95 505.23,216.41 505.41,217.36 505.59,217.69 505.78,217.85 505.96,218.33 506.14,219.06 506.32,219.95 506.51,220.89 506.69,221.79 506.87,222.51 507.05,222.99 507.23,223.15 507.42,222.98 507.6,222.45 507.78,221.65 507.96,220.67 508.15,219.63 508.33,218.65 508.51,217.85 508.69,217.32 508.87,217.14 509.06,217.03 509.24,216.7 509.42,216.18 509.6,215.5 509.79,214.71 509.97,213.86 510.15,213.01 510.33,212.22 510.52,211.54 510.7,211.02 510.88,210.69 511.06,210.58 511.25,210.78 511.43,211.35 511.61,212.22 511.79,213.29 511.97,214.43 512.16,215.5 512.34,216.37 512.52,216.94 512.7,217.14 512.88,216.88 513.07,216.19 513.25,215.22 513.43,214.27 513.61,213.57 513.8,213.31 513.98,213.49 514.16,214.02 514.34,214.81 514.53,215.8 514.71,216.84 514.89,217.82 515.07,218.62 515.26,219.14 515.44,219.33 515.62,219.26 515.8,219.06 515.98,218.78 516.17,218.51 516.35,218.31 516.53,218.24 516.71,218.37 516.9,218.74 517.08,219.33 517.26,220.04 517.44,220.8 517.63,221.52 517.81,222.1 517.99,222.48 518.17,222.61 518.35,222.41 518.54,221.84 518.72,220.97 518.9,219.9 519.08,218.76 519.27,217.69 519.45,216.81 519.63,216.24 519.81,216.05 519.99,216.19 520.18,216.63 520.36,217.28 520.54,218.08 520.72,218.94 520.91,219.74 521.09,220.4 521.27,220.82 521.45,220.97 521.64,220.87 521.82,220.59 522,220.15 522.18,219.61 522.37,219.04 522.55,218.51 522.73,218.07 522.91,217.79 523.09,217.69 523.28,217.57 523.46,217.24 523.64,216.72 523.82,216.05 524,215.25 524.19,214.4 524.37,213.55 524.55,212.77 524.73,212.09 524.92,211.57 525.1,211.24 525.28,211.12 525.46,211.39 525.65,212.15 525.83,213.31 526.01,214.74 526.19,216.26 526.38,217.69 526.56,218.85 526.74,219.61 526.92,219.87 527.1,219.76 527.29,219.43 527.47,218.92 527.65,218.29 527.83,217.63 528.02,217 528.2,216.5 528.38,216.16 528.56,216.05 528.75,216.08 528.93,216.18 529.11,216.32 529.29,216.5 529.47,216.69 529.66,216.87 529.84,217.01 530.02,217.11 530.2,217.14 530.39,217.2 530.57,217.4 530.75,217.69 530.93,218.05 531.11,218.42 531.3,218.78 531.48,219.07 531.66,219.26 531.84,219.33 532.03,219.38 532.21,219.52 532.39,219.74 532.57,220 532.76,220.29 532.94,220.56 533.12,220.78 533.3,220.92 533.49,220.97 533.67,220.99 533.85,221.03 534.03,221.1 534.21,221.2 534.4,221.29 534.58,221.38 534.76,221.45 534.94,221.5 535.12,221.52 535.31,221.49 535.49,221.39 535.67,221.25 535.85,221.06 536.04,220.88 536.22,220.69 536.4,220.55 536.58,220.45 536.77,220.42 536.95,220.4 537.13,220.36 537.31,220.28 537.49,220.2 537.68,220.1 537.86,220.01 538.04,219.94 538.22,219.89 538.41,219.87 538.59,219.94 538.77,220.13 538.95,220.42 539.14,220.78 539.32,221.16 539.5,221.52 539.68,221.81 539.86,222 540.05,222.06 540.23,222.1 540.41,222.2 540.59,222.34 540.78,222.47 540.96,222.57 541.14,222.61 541.22,222.61 541.3,222.61" fill="none" stroke="#ff1a1a" stroke-width="1.05" stroke-dasharray="1.6 0.4" stroke-linejoin="round"/>
<text class="tk" x="436.1" y="230.1" text-anchor="middle" textLength="9" lengthAdjust="spacingAndGlyphs">-30</text>
<text class="tk" x="453.47" y="230.1" text-anchor="middle" textLength="9" lengthAdjust="spacingAndGlyphs">-20</text>
<text class="tk" x="470.83" y="230.1" text-anchor="middle" textLength="9" lengthAdjust="spacingAndGlyphs">-10</text>
<text class="tk" x="488.8" y="230.1" text-anchor="middle" textLength="3" lengthAdjust="spacingAndGlyphs">0</text>
<text class="tk" x="506.17" y="230.1" text-anchor="middle" textLength="6" lengthAdjust="spacingAndGlyphs">10</text>
<text class="tk" x="523.53" y="230.1" text-anchor="middle" textLength="6" lengthAdjust="spacingAndGlyphs">20</text>
<text class="tk" x="540.9" y="230.1" text-anchor="middle" textLength="6" lengthAdjust="spacingAndGlyphs">30</text>
<text class="tk" x="435.9" y="226.2" text-anchor="end" textLength="3" lengthAdjust="spacingAndGlyphs">0</text>
<text class="tk" x="435.9" y="210.16" text-anchor="end" textLength="9" lengthAdjust="spacingAndGlyphs">0.2</text>
<text class="tk" x="435.9" y="194.12" text-anchor="end" textLength="9" lengthAdjust="spacingAndGlyphs">0.4</text>
<text class="tk" x="435.9" y="178.08" text-anchor="end" textLength="9" lengthAdjust="spacingAndGlyphs">0.6</text>
<text class="tk" x="435.9" y="162.04" text-anchor="end" textLength="9" lengthAdjust="spacingAndGlyphs">0.8</text>
<text class="tk" x="435.9" y="146" text-anchor="end" textLength="3" lengthAdjust="spacingAndGlyphs">1</text>
<text x="487.7" y="237.7" text-anchor="middle" textLength="43.05" lengthAdjust="spacingAndGlyphs">Symbol interval</text>
<text transform="translate(424.4 184.6) rotate(-90)" fill="#505050" text-anchor="middle" textLength="24.57" lengthAdjust="spacingAndGlyphs">Magnitude</text>
<text x="487" y="139.8" text-anchor="middle" textLength="68.4" lengthAdjust="spacingAndGlyphs">The 4th subband of user2</text>
<line x1="514.8" y1="149.3" x2="527.5" y2="149.3" stroke="#ee2020" stroke-width="0.9" stroke-dasharray="2.3 0.9"/>
<line x1="514.8" y1="155.7" x2="527.5" y2="155.7" stroke="#a8a8ff" stroke-width="1.6"/>
<text x="528.7" y="151.5" textLength="9" lengthAdjust="spacingAndGlyphs">q22</text>
<text x="528.7" y="157.9" textLength="9" lengthAdjust="spacingAndGlyphs">q21</text>
<text class="lt" x="486.3" y="250.5" text-anchor="middle">(h)</text>
</svg>
</body></html>
